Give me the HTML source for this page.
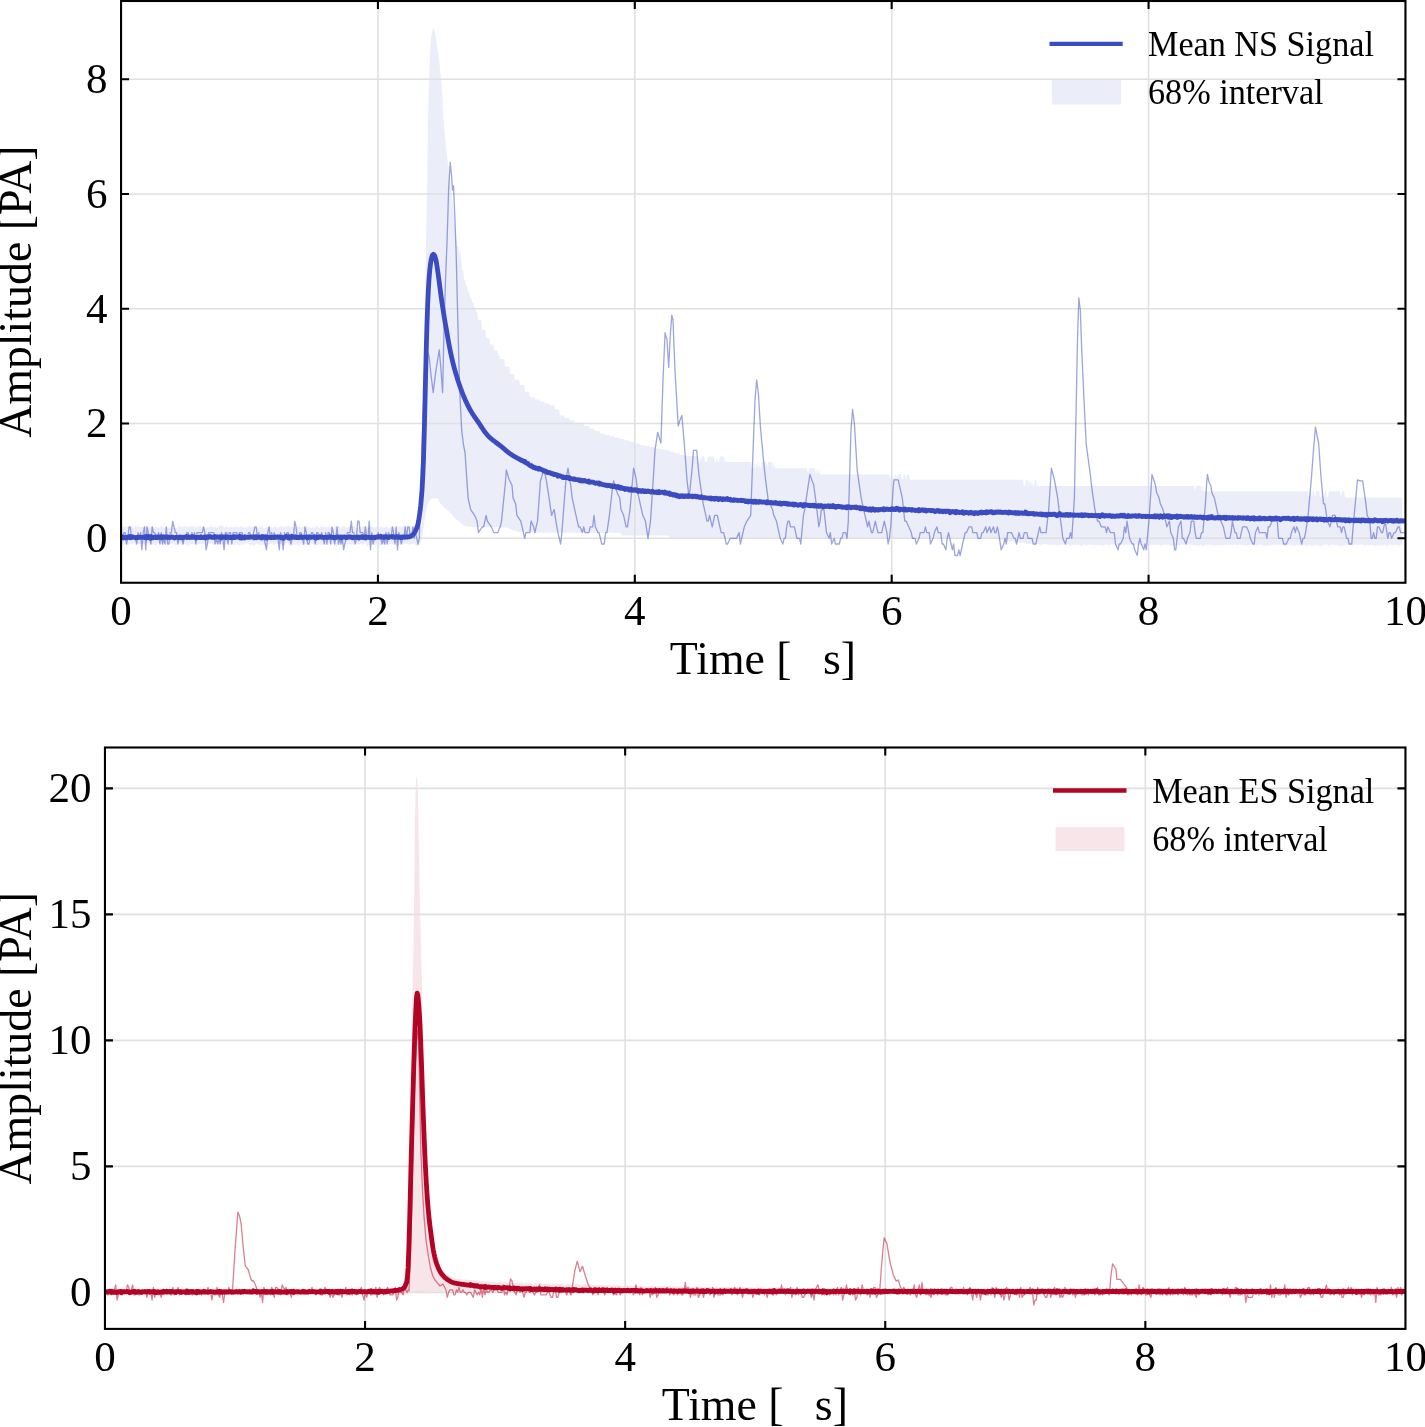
<!DOCTYPE html><html><head><meta charset="utf-8"><style>html,body{margin:0;padding:0;background:#fff;overflow:hidden}svg{display:block;will-change:transform}</style></head><body><svg width="1425" height="1427" viewBox="0 0 1425 1427" font-family='"Liberation Serif", serif' fill="#000"><rect width="1425" height="1427" fill="#fff"/><defs><clipPath id="clipNS"><rect x="121.05" y="1.0" width="1284.4" height="581.75"/></clipPath></defs><path d="M121.0 527.0 L122.0 526.4 L123.0 526.7 L124.0 526.6 L125.0 527.0 L126.0 526.7 L127.0 526.8 L128.1 525.9 L129.1 526.4 L130.1 528.3 L131.1 526.5 L132.1 526.2 L133.1 527.3 L134.1 528.1 L135.1 525.8 L136.1 526.8 L137.1 526.5 L138.1 525.6 L139.1 527.6 L140.1 527.0 L141.1 527.1 L142.1 526.4 L143.1 527.4 L144.1 526.6 L145.1 526.9 L146.1 526.1 L147.1 526.0 L148.1 528.1 L149.1 526.6 L150.1 527.2 L151.1 527.0 L152.1 526.6 L153.1 526.6 L154.1 527.5 L155.1 526.8 L156.1 526.9 L157.1 527.0 L158.1 527.9 L159.1 527.5 L160.1 527.3 L161.1 526.5 L162.1 525.9 L163.1 527.8 L164.1 527.8 L165.1 526.9 L166.1 527.4 L167.1 527.6 L168.1 527.7 L169.1 527.7 L170.1 526.6 L171.1 528.2 L172.1 526.0 L173.1 527.7 L174.1 527.4 L175.1 527.7 L176.1 528.5 L177.1 528.2 L178.1 526.1 L179.1 525.6 L180.1 527.7 L181.1 526.2 L182.1 527.0 L183.1 527.7 L184.1 525.7 L185.1 525.3 L186.1 527.2 L187.1 527.0 L188.1 526.8 L189.1 527.0 L190.1 526.3 L191.1 525.8 L192.1 526.9 L193.1 526.2 L194.1 525.7 L195.1 527.4 L196.1 527.0 L197.1 527.3 L198.1 526.2 L199.1 526.5 L200.1 526.2 L201.1 526.3 L202.1 527.2 L203.1 526.4 L204.1 527.3 L205.1 527.3 L206.1 528.6 L207.1 525.9 L208.1 527.7 L209.1 526.9 L210.1 527.0 L211.1 525.8 L212.1 526.6 L213.1 527.6 L214.1 526.9 L215.1 527.1 L216.1 526.8 L217.1 527.9 L218.1 527.0 L219.1 525.2 L220.1 526.4 L221.1 525.4 L222.1 524.4 L223.1 526.6 L224.1 528.1 L225.1 527.0 L226.1 526.1 L227.1 526.2 L228.1 527.9 L229.1 527.1 L230.1 527.0 L231.1 527.0 L232.1 527.0 L233.1 527.6 L234.1 527.4 L235.1 527.2 L236.1 526.2 L237.1 527.4 L238.1 526.5 L239.1 527.9 L240.1 526.0 L241.1 526.9 L242.1 527.0 L243.1 525.9 L244.1 528.4 L245.1 528.2 L246.1 526.6 L247.1 527.6 L248.1 527.3 L249.1 524.9 L250.1 527.2 L251.1 527.0 L252.1 527.1 L253.1 526.1 L254.1 526.8 L255.1 526.9 L256.1 528.0 L257.1 527.3 L258.1 527.0 L259.1 528.2 L260.1 526.6 L261.1 526.7 L262.1 525.5 L263.1 528.3 L264.1 527.8 L265.1 527.7 L266.1 527.5 L267.1 527.1 L268.1 527.2 L269.1 526.8 L270.1 526.8 L271.1 527.0 L272.1 528.2 L273.1 527.4 L274.1 527.0 L275.1 526.5 L276.1 526.5 L277.1 528.3 L278.1 527.4 L279.1 527.1 L280.1 526.7 L281.1 526.1 L282.1 526.9 L283.1 527.7 L284.1 526.7 L285.1 526.8 L286.1 526.8 L287.1 527.1 L288.1 525.7 L289.1 526.8 L290.1 526.3 L291.1 527.7 L292.1 526.4 L293.1 527.5 L294.1 528.2 L295.1 526.7 L296.1 526.5 L297.1 527.2 L298.1 527.0 L299.1 526.2 L300.1 527.4 L301.1 528.6 L302.1 526.8 L303.1 526.8 L304.1 526.2 L305.1 527.3 L306.1 526.0 L307.1 526.1 L308.1 528.0 L309.1 526.3 L310.1 527.9 L311.1 528.2 L312.1 527.2 L313.1 527.4 L314.1 528.6 L315.1 526.8 L316.1 526.5 L317.1 525.9 L318.1 527.0 L319.1 528.2 L320.1 527.8 L321.1 526.2 L322.1 526.3 L323.1 526.6 L324.1 527.2 L325.1 526.8 L326.1 527.2 L327.1 527.2 L328.1 526.8 L329.1 527.0 L330.1 527.2 L331.1 526.9 L332.1 527.4 L333.1 528.5 L334.1 527.5 L335.1 527.0 L336.1 525.7 L337.1 527.3 L338.1 525.4 L339.1 525.9 L340.1 527.7 L341.1 527.6 L342.1 526.9 L343.1 525.6 L344.1 526.7 L345.1 526.5 L346.1 527.5 L347.1 528.8 L348.1 527.2 L349.1 526.4 L350.1 526.1 L351.1 527.0 L352.1 526.9 L353.1 526.1 L354.1 527.1 L355.1 526.1 L356.1 527.9 L357.1 527.9 L358.1 527.9 L359.1 526.6 L360.1 527.4 L361.1 526.9 L362.1 526.7 L363.1 526.7 L364.1 526.0 L365.1 525.8 L366.1 527.6 L367.1 526.8 L368.1 527.2 L369.1 527.8 L370.1 525.6 L371.1 526.4 L372.1 527.1 L373.1 527.3 L374.1 526.7 L375.1 527.8 L376.1 527.2 L377.1 526.0 L378.1 526.3 L379.1 527.6 L380.1 527.4 L381.1 525.5 L382.1 528.1 L383.1 527.5 L384.1 528.1 L385.1 526.7 L386.1 526.8 L387.1 526.1 L388.1 529.0 L389.1 526.9 L390.1 528.3 L391.1 526.5 L392.1 527.1 L393.1 525.7 L394.1 526.7 L395.1 527.8 L396.1 526.0 L397.1 527.9 L398.1 527.3 L399.1 526.2 L400.1 526.6 L401.1 526.6 L402.1 527.0 L403.1 526.6 L404.1 526.3 L405.1 526.8 L406.1 526.2 L407.1 526.0 L408.1 527.0 L409.1 527.7 L410.1 525.8 L411.1 527.0 L412.1 526.5 L413.1 526.2 L414.1 527.7 L415.1 526.6 L416.1 528.2 L417.1 526.4 L418.1 527.3 L419.1 526.8 L420.1 526.4 L421.1 527.0 L422.1 521.6 L423.1 495.3 L424.1 431.2 L425.1 297.1 L426.1 237.8 L427.1 190.1 L428.1 118.8 L429.1 78.3 L430.1 54.1 L431.1 37.7 L432.1 32.0 L433.1 27.8 L434.1 29.2 L435.1 32.8 L436.1 39.3 L437.1 46.9 L438.1 53.4 L439.1 59.7 L440.1 69.2 L441.1 81.4 L442.1 93.9 L443.1 108.3 L444.1 126.8 L445.1 138.3 L446.1 146.4 L447.1 155.5 L448.1 165.5 L449.1 174.4 L450.1 181.9 L451.1 189.5 L452.1 198.3 L453.1 207.7 L454.1 217.8 L455.1 228.4 L456.1 237.8 L457.1 245.5 L458.1 247.5 L459.1 249.5 L460.1 252.5 L461.1 258.4 L462.1 270.4 L463.1 270.4 L464.1 279.6 L465.1 279.6 L466.1 286.2 L467.1 286.2 L468.1 292.2 L469.1 292.2 L470.1 297.2 L471.1 297.2 L472.1 302.2 L473.1 302.2 L474.1 307.2 L475.1 307.2 L476.1 312.2 L477.1 312.2 L478.1 319.7 L479.1 319.7 L480.1 319.7 L481.1 319.7 L482.1 329.7 L483.1 329.7 L484.1 329.7 L485.1 329.7 L486.1 338.1 L487.1 338.1 L488.1 338.1 L489.1 338.1 L490.1 344.5 L491.1 344.5 L492.1 344.5 L493.1 344.5 L494.1 350.4 L495.1 350.4 L496.1 350.4 L497.1 350.4 L498.1 354.9 L499.1 354.9 L500.1 359.1 L501.1 359.1 L502.1 359.1 L503.1 359.1 L504.1 359.1 L505.1 366.8 L506.1 366.8 L507.1 366.8 L508.1 366.8 L509.1 366.8 L510.1 373.9 L511.1 373.9 L512.0 373.9 L513.0 373.9 L514.0 373.9 L515.0 379.7 L516.0 379.7 L517.0 379.7 L518.0 379.7 L519.0 379.7 L520.0 385.1 L521.0 385.1 L522.0 385.1 L523.0 385.1 L524.0 385.1 L525.0 392.0 L526.0 392.0 L527.0 392.0 L528.0 392.0 L529.0 392.0 L530.0 397.3 L531.0 397.3 L532.0 397.3 L533.0 397.3 L534.0 397.3 L535.0 399.5 L536.0 399.5 L537.0 399.5 L538.0 399.5 L539.0 399.5 L540.0 401.6 L541.0 401.6 L542.0 401.6 L543.0 401.6 L544.0 401.6 L545.0 403.4 L546.0 403.4 L547.0 403.4 L548.0 403.4 L549.0 403.4 L550.0 405.5 L551.0 405.5 L552.0 405.5 L553.0 405.5 L554.0 405.5 L555.0 409.3 L556.0 409.3 L557.0 409.3 L558.0 409.3 L559.0 409.3 L560.0 415.5 L561.0 415.5 L562.0 415.5 L563.0 415.5 L564.0 415.5 L565.0 418.1 L566.0 418.1 L567.0 418.1 L568.0 418.1 L569.0 418.1 L570.0 420.6 L571.0 420.6 L572.0 420.6 L573.0 420.6 L574.0 420.6 L575.0 422.7 L576.0 422.7 L577.0 422.7 L578.0 422.7 L579.0 422.7 L580.0 424.3 L581.0 424.3 L582.0 424.3 L583.0 424.3 L584.0 424.3 L585.0 426.0 L586.0 426.0 L587.0 426.0 L588.0 426.0 L589.0 426.0 L590.0 428.5 L591.0 428.5 L592.0 428.5 L593.0 428.5 L594.0 428.5 L595.0 431.0 L596.0 431.0 L597.0 431.0 L598.0 431.0 L599.0 431.0 L600.0 433.5 L601.0 433.5 L602.0 433.5 L603.0 433.5 L604.0 433.5 L605.0 434.9 L606.0 434.9 L607.0 434.9 L608.0 434.9 L609.0 434.9 L610.0 436.3 L611.0 436.3 L612.0 436.3 L613.0 436.3 L614.0 436.3 L615.0 437.7 L616.0 437.7 L617.0 437.7 L618.0 437.7 L619.0 437.7 L620.0 439.1 L621.0 439.1 L622.0 439.1 L623.0 439.1 L624.0 439.1 L625.0 440.6 L626.0 440.6 L627.0 440.6 L628.0 440.6 L629.0 440.6 L630.0 442.1 L631.0 442.1 L632.0 442.1 L633.0 442.1 L634.0 442.1 L635.0 443.5 L636.0 443.5 L637.0 443.5 L638.0 443.5 L639.0 443.5 L640.0 445.0 L641.0 445.0 L642.0 445.0 L643.0 445.0 L644.0 445.0 L645.0 446.1 L646.0 446.1 L647.0 446.1 L648.0 446.1 L649.0 446.1 L650.0 447.1 L651.0 447.1 L652.0 447.1 L653.0 447.1 L654.0 447.1 L655.0 448.2 L656.0 448.2 L657.0 448.2 L658.0 448.2 L659.0 448.2 L660.0 449.2 L661.0 449.2 L662.0 449.2 L663.0 449.2 L664.0 449.2 L665.0 450.3 L666.0 450.3 L667.0 450.3 L668.0 450.3 L669.0 450.3 L670.0 451.8 L671.0 451.8 L672.0 451.8 L673.0 451.8 L674.0 451.8 L675.0 453.4 L676.0 453.4 L677.0 453.4 L678.0 453.4 L679.0 453.4 L680.0 455.0 L681.0 455.0 L682.0 455.0 L683.0 455.0 L684.0 455.0 L685.0 455.7 L686.0 455.7 L687.0 455.7 L688.0 455.7 L689.0 455.7 L690.0 455.9 L691.0 455.9 L692.0 455.9 L693.0 455.9 L694.0 455.9 L695.0 456.1 L696.0 456.1 L697.0 456.1 L698.0 461.9 L699.0 461.9 L700.0 456.3 L701.0 461.9 L702.0 456.3 L703.0 456.3 L704.0 456.3 L705.0 461.9 L706.0 461.9 L707.0 461.9 L708.0 456.5 L709.0 456.5 L710.0 456.6 L711.0 456.6 L712.0 456.6 L713.0 456.6 L714.0 456.6 L715.0 461.9 L716.0 461.9 L717.0 456.6 L718.0 461.9 L719.0 461.9 L720.0 456.6 L721.0 456.6 L722.0 456.6 L723.0 456.6 L724.0 457.0 L725.0 461.9 L726.0 461.9 L727.0 461.9 L728.0 461.9 L729.0 461.9 L730.0 461.9 L731.0 461.9 L732.0 461.9 L733.0 461.9 L734.0 461.9 L735.0 461.9 L736.0 461.9 L737.0 461.9 L738.0 461.9 L739.0 461.9 L740.0 461.9 L741.0 461.9 L742.0 461.9 L743.0 461.9 L744.0 461.9 L745.0 461.9 L746.0 461.9 L747.0 461.9 L748.0 461.9 L749.0 461.9 L750.0 461.9 L751.0 461.9 L752.0 468.2 L753.0 468.2 L754.0 468.2 L755.0 461.9 L756.0 468.2 L757.0 461.9 L758.0 468.2 L759.0 461.9 L760.0 468.2 L761.0 468.2 L762.0 461.9 L763.0 461.9 L764.0 462.0 L765.0 462.0 L766.0 462.0 L767.0 468.2 L768.0 462.0 L769.0 462.0 L770.0 462.0 L771.0 462.0 L772.0 462.0 L773.0 468.2 L774.0 462.0 L775.0 468.2 L776.0 468.2 L777.0 468.2 L778.0 468.2 L779.0 468.2 L780.0 468.2 L781.0 468.2 L782.0 468.2 L783.0 468.2 L784.0 468.2 L785.0 468.2 L786.0 468.2 L787.0 468.2 L788.0 468.2 L789.0 468.2 L790.0 468.2 L791.0 468.2 L792.0 468.2 L793.0 468.2 L794.0 468.2 L795.0 468.2 L796.0 468.2 L797.0 468.2 L798.0 468.2 L799.0 468.2 L800.0 468.2 L801.0 468.2 L802.0 468.2 L803.0 468.2 L804.0 468.2 L805.0 468.2 L806.0 468.2 L807.0 468.2 L808.0 474.5 L809.0 468.2 L810.0 468.2 L811.0 468.2 L812.0 468.2 L813.0 468.2 L814.0 468.2 L815.0 468.2 L816.0 474.5 L817.0 468.2 L818.0 474.5 L819.0 469.0 L820.0 474.5 L821.0 474.5 L822.0 474.5 L823.0 474.5 L824.0 474.5 L825.0 474.5 L826.0 474.5 L827.0 474.5 L828.0 474.5 L829.0 474.5 L830.0 474.5 L831.0 474.5 L832.0 474.5 L833.0 474.5 L834.0 474.5 L835.0 474.5 L836.0 474.5 L837.0 474.5 L838.0 474.5 L839.0 474.5 L840.0 474.5 L841.0 474.5 L842.0 474.5 L843.0 474.5 L844.0 474.5 L845.0 474.5 L846.0 474.5 L847.0 474.5 L848.0 474.5 L849.0 474.5 L850.0 474.5 L851.0 474.5 L852.0 474.5 L853.0 474.5 L854.0 474.5 L855.0 474.5 L856.0 474.5 L857.0 474.5 L858.0 474.5 L859.0 474.5 L860.0 474.5 L861.0 474.5 L862.0 474.5 L863.0 474.5 L864.0 474.5 L865.0 474.5 L866.0 474.5 L867.0 474.5 L868.0 474.5 L869.0 474.5 L870.0 474.5 L871.0 474.5 L872.0 474.5 L873.0 474.5 L874.0 474.5 L875.0 474.5 L876.0 474.5 L877.0 474.5 L878.0 474.5 L879.0 474.5 L880.0 474.5 L881.0 474.5 L882.0 474.5 L883.0 474.5 L884.0 474.5 L885.0 474.5 L886.0 474.5 L887.0 474.5 L888.0 474.5 L889.0 474.5 L890.0 479.8 L891.0 474.5 L892.0 479.8 L893.0 474.5 L894.0 479.8 L895.0 474.5 L896.0 474.5 L897.0 479.8 L898.0 474.5 L899.0 474.5 L900.0 474.5 L901.0 474.5 L902.0 479.8 L903.0 479.8 L904.0 474.5 L905.0 474.5 L906.0 479.8 L907.0 474.5 L908.0 474.5 L909.0 475.0 L910.0 479.8 L911.0 479.8 L912.0 479.8 L913.0 479.8 L914.0 479.8 L915.0 479.8 L916.0 479.8 L917.0 479.8 L918.0 479.8 L919.0 479.8 L920.0 479.8 L921.0 479.8 L922.0 479.8 L923.0 479.8 L924.0 479.8 L925.0 479.8 L926.0 479.8 L927.0 479.8 L928.0 479.8 L929.0 479.8 L930.0 479.8 L931.0 479.8 L932.0 479.8 L933.0 479.8 L934.0 479.8 L935.0 479.8 L936.0 479.8 L937.0 479.8 L938.0 479.8 L939.0 479.8 L940.0 479.8 L941.0 479.8 L942.0 479.8 L943.0 479.8 L944.0 479.8 L945.0 479.8 L946.0 479.8 L947.0 479.8 L948.0 479.8 L949.0 479.8 L950.0 479.8 L951.0 479.8 L952.0 479.8 L953.0 479.8 L954.0 479.8 L955.0 479.8 L956.0 479.8 L957.0 479.8 L958.0 479.8 L959.0 479.8 L960.0 479.8 L961.0 479.8 L962.0 479.8 L963.0 479.8 L964.0 479.8 L965.0 479.8 L966.0 479.8 L967.0 479.8 L968.0 479.8 L969.0 479.8 L970.0 479.8 L971.0 479.8 L972.0 479.8 L973.0 479.8 L974.0 479.8 L975.0 479.8 L976.0 479.8 L977.0 479.8 L978.0 479.8 L979.0 479.8 L980.0 479.8 L981.0 479.8 L982.0 479.8 L983.0 479.8 L984.0 479.8 L985.0 479.8 L986.0 479.8 L987.0 479.8 L988.0 479.8 L989.0 479.8 L990.0 479.8 L991.0 479.8 L992.0 479.8 L993.0 479.8 L994.0 479.8 L995.0 479.8 L996.0 479.8 L997.0 479.8 L998.0 479.8 L999.0 479.8 L1000.0 479.8 L1001.0 479.8 L1002.0 479.8 L1003.0 479.8 L1004.0 479.8 L1005.0 479.8 L1006.0 479.8 L1007.0 479.8 L1008.0 479.8 L1009.0 479.8 L1010.0 479.8 L1011.0 479.8 L1012.0 479.8 L1013.0 479.8 L1014.0 479.8 L1015.0 479.8 L1016.0 479.8 L1017.0 479.8 L1018.0 479.8 L1019.0 479.8 L1020.0 479.8 L1021.0 479.8 L1022.0 479.8 L1023.0 479.8 L1024.0 486.1 L1025.0 486.1 L1026.0 479.8 L1027.0 479.8 L1028.0 479.8 L1029.0 486.1 L1030.0 479.8 L1031.0 486.1 L1032.0 479.8 L1033.0 486.1 L1034.0 486.1 L1035.0 479.8 L1036.0 479.8 L1037.0 486.1 L1038.0 486.1 L1039.0 486.1 L1040.0 486.1 L1041.0 486.1 L1042.0 486.1 L1043.0 486.1 L1044.0 486.1 L1045.0 486.1 L1046.0 486.1 L1047.0 486.1 L1048.0 486.1 L1049.0 486.1 L1050.0 486.1 L1051.0 486.1 L1052.0 486.1 L1053.0 486.1 L1054.0 486.1 L1055.0 486.1 L1056.0 486.1 L1057.0 486.1 L1058.0 486.1 L1059.0 486.1 L1060.0 486.1 L1061.0 486.1 L1062.0 486.1 L1063.0 486.1 L1064.0 486.1 L1065.0 486.1 L1066.0 486.1 L1067.0 486.1 L1068.0 486.1 L1069.0 486.1 L1070.0 486.1 L1071.0 486.1 L1072.0 486.1 L1073.0 486.1 L1074.0 486.1 L1075.0 486.1 L1076.0 486.1 L1077.0 486.1 L1078.0 486.1 L1079.0 486.1 L1080.0 486.1 L1081.0 486.1 L1082.0 486.1 L1083.0 486.1 L1084.0 486.1 L1085.0 486.1 L1086.0 486.1 L1087.0 486.1 L1088.0 486.1 L1089.0 486.1 L1090.0 486.1 L1091.0 486.1 L1092.0 486.1 L1093.0 486.1 L1094.0 486.1 L1095.0 486.1 L1096.0 486.1 L1097.0 486.1 L1098.0 486.1 L1099.0 486.1 L1100.0 486.1 L1101.0 486.1 L1102.0 486.1 L1103.0 486.1 L1104.0 486.1 L1105.0 486.1 L1106.0 486.1 L1107.0 486.1 L1108.0 486.1 L1109.0 486.1 L1110.0 486.1 L1111.0 486.1 L1112.0 486.1 L1113.0 486.1 L1114.0 486.1 L1115.0 486.1 L1116.0 486.1 L1117.0 486.1 L1118.0 486.1 L1119.0 486.1 L1120.0 486.1 L1121.0 486.1 L1122.0 486.1 L1123.0 486.1 L1124.0 486.1 L1125.0 486.1 L1126.0 486.1 L1127.0 486.1 L1128.0 486.1 L1129.0 486.1 L1130.0 486.1 L1131.0 486.1 L1132.0 486.1 L1133.0 486.1 L1134.0 486.1 L1135.0 486.1 L1136.0 486.1 L1137.0 486.1 L1138.0 486.1 L1139.0 486.1 L1140.0 486.1 L1141.0 486.1 L1142.0 486.1 L1143.0 486.1 L1144.0 486.1 L1145.0 486.1 L1146.0 486.1 L1147.0 486.1 L1148.0 486.1 L1149.0 486.1 L1150.0 486.1 L1151.0 486.1 L1152.0 486.1 L1153.0 486.1 L1154.0 486.1 L1155.0 486.1 L1156.0 486.1 L1157.0 486.1 L1158.0 486.1 L1159.0 486.1 L1160.0 486.1 L1161.0 486.1 L1162.0 486.1 L1163.0 486.1 L1164.0 486.1 L1165.0 486.1 L1166.0 486.1 L1167.0 486.1 L1168.0 486.1 L1169.0 486.1 L1170.0 486.1 L1171.0 486.1 L1172.0 486.1 L1173.0 486.1 L1174.0 486.1 L1175.0 486.1 L1176.0 486.1 L1177.0 486.1 L1178.0 486.1 L1179.0 486.1 L1180.0 486.1 L1181.0 486.1 L1182.0 486.1 L1183.0 486.1 L1184.0 486.1 L1185.0 486.1 L1186.0 486.1 L1187.0 486.1 L1188.0 486.1 L1189.0 486.1 L1190.0 486.1 L1191.0 486.1 L1192.0 486.1 L1193.0 486.1 L1194.0 486.1 L1195.0 491.3 L1196.0 486.1 L1197.0 486.1 L1198.0 486.1 L1199.0 486.1 L1200.0 486.1 L1201.0 486.1 L1202.0 491.3 L1203.0 486.6 L1204.0 491.3 L1205.0 491.3 L1206.0 491.3 L1207.0 491.3 L1208.0 491.3 L1209.0 491.3 L1210.0 491.3 L1211.0 491.3 L1212.0 491.3 L1213.0 491.3 L1214.0 491.3 L1215.0 491.3 L1216.0 491.3 L1217.0 491.3 L1218.0 491.3 L1219.0 491.3 L1220.0 491.3 L1221.0 491.3 L1222.0 491.3 L1223.0 491.3 L1224.0 491.3 L1225.0 491.3 L1226.0 491.3 L1227.0 491.3 L1228.0 491.3 L1229.0 491.3 L1230.0 491.3 L1231.0 491.3 L1232.0 491.3 L1233.0 491.3 L1234.0 491.3 L1235.0 491.3 L1236.0 491.3 L1237.0 491.3 L1238.0 491.3 L1239.0 491.3 L1240.0 491.3 L1241.0 491.3 L1242.0 491.3 L1243.0 491.3 L1244.0 491.3 L1245.0 491.3 L1246.0 491.3 L1247.0 491.3 L1248.0 491.3 L1249.0 491.3 L1250.0 491.3 L1251.0 491.3 L1252.0 491.3 L1253.0 491.3 L1254.0 491.3 L1255.0 491.3 L1256.0 491.3 L1257.0 491.3 L1258.0 491.3 L1259.0 491.3 L1260.0 491.3 L1261.0 491.3 L1262.0 491.3 L1263.0 491.3 L1264.0 491.3 L1265.0 491.3 L1266.0 491.3 L1267.0 491.3 L1268.0 491.3 L1269.0 491.3 L1270.0 491.3 L1271.0 491.3 L1272.0 491.3 L1273.0 491.3 L1274.0 491.3 L1275.0 491.3 L1276.0 491.3 L1277.0 491.3 L1278.0 491.3 L1279.0 491.3 L1280.0 491.3 L1281.0 491.3 L1282.0 491.3 L1283.0 491.3 L1284.0 491.3 L1285.0 491.3 L1286.0 491.3 L1287.0 491.3 L1288.0 491.3 L1289.0 491.3 L1290.0 491.3 L1291.0 491.3 L1292.0 491.3 L1293.0 491.3 L1294.0 491.3 L1295.0 491.3 L1296.0 491.3 L1297.0 491.3 L1298.0 491.3 L1299.0 491.3 L1300.0 491.3 L1301.0 491.3 L1302.0 491.3 L1303.0 491.3 L1304.0 491.3 L1305.0 491.3 L1306.0 491.3 L1307.0 491.3 L1308.0 491.3 L1309.0 497.6 L1310.0 491.3 L1311.0 491.3 L1312.0 497.6 L1313.0 491.3 L1314.0 491.3 L1315.0 497.6 L1316.0 491.3 L1317.0 491.3 L1318.0 491.3 L1319.0 491.3 L1320.0 497.6 L1321.0 497.6 L1322.0 491.3 L1323.0 497.6 L1324.0 497.6 L1325.0 491.3 L1326.0 491.3 L1327.0 497.6 L1328.0 497.6 L1329.0 491.3 L1330.0 491.3 L1331.0 491.3 L1332.0 491.3 L1333.0 491.3 L1334.0 491.3 L1335.0 491.3 L1336.0 491.3 L1337.0 491.3 L1338.0 491.3 L1339.0 491.3 L1340.0 491.3 L1341.0 497.6 L1342.0 491.3 L1343.0 491.3 L1344.0 491.3 L1345.0 497.6 L1346.0 497.6 L1347.0 497.6 L1348.0 497.6 L1349.0 497.6 L1350.0 497.6 L1351.0 497.6 L1352.0 497.6 L1353.0 497.6 L1354.0 497.6 L1355.0 497.6 L1356.0 497.6 L1357.0 497.6 L1358.0 497.6 L1359.0 497.6 L1360.0 497.6 L1361.0 497.6 L1362.0 497.6 L1363.0 497.6 L1364.0 497.6 L1365.0 497.6 L1366.0 497.6 L1367.0 497.6 L1368.0 497.6 L1369.0 497.6 L1370.0 497.6 L1371.0 497.6 L1372.0 497.6 L1373.0 497.6 L1374.0 497.6 L1375.0 497.6 L1376.0 497.6 L1377.0 497.6 L1378.0 497.6 L1379.0 497.6 L1380.0 497.6 L1381.0 497.6 L1382.0 497.6 L1383.0 497.6 L1384.0 497.6 L1385.0 497.6 L1386.0 497.6 L1387.0 497.6 L1388.0 497.6 L1389.0 497.6 L1390.0 497.6 L1391.0 497.6 L1392.0 497.6 L1393.0 497.6 L1394.0 497.6 L1395.0 497.6 L1396.0 497.6 L1397.0 497.6 L1398.0 497.6 L1399.0 497.6 L1400.0 497.6 L1401.0 497.6 L1402.0 497.6 L1402.0 544.9 L1401.0 544.6 L1400.0 544.6 L1399.0 545.3 L1398.0 546.6 L1397.0 544.6 L1396.0 544.6 L1395.0 545.3 L1394.0 544.5 L1393.0 545.4 L1392.0 545.0 L1391.0 545.0 L1390.0 544.8 L1389.0 544.6 L1388.0 545.7 L1387.0 546.7 L1386.0 545.4 L1385.0 544.5 L1384.0 544.8 L1383.0 546.1 L1382.0 545.2 L1381.0 545.7 L1380.0 545.1 L1379.0 545.4 L1378.0 544.5 L1377.0 546.3 L1376.0 545.1 L1375.0 546.5 L1374.0 545.2 L1373.0 545.5 L1372.0 545.1 L1371.0 544.6 L1370.0 545.1 L1369.0 544.9 L1368.0 545.2 L1367.0 544.5 L1366.0 545.7 L1365.0 545.5 L1364.0 545.2 L1363.0 544.8 L1362.0 544.6 L1361.0 544.5 L1360.0 544.8 L1359.0 544.9 L1358.0 544.8 L1357.0 545.4 L1356.0 544.6 L1355.0 545.3 L1354.0 544.5 L1353.0 545.6 L1352.0 544.9 L1351.0 544.8 L1350.0 545.1 L1349.0 545.0 L1348.0 544.7 L1347.0 545.0 L1346.0 544.7 L1345.0 544.7 L1344.0 545.2 L1343.0 546.7 L1342.0 544.7 L1341.0 545.8 L1340.0 546.5 L1339.0 546.3 L1338.0 545.1 L1337.0 544.8 L1336.0 545.2 L1335.0 545.0 L1334.0 545.3 L1333.0 544.7 L1332.0 544.6 L1331.0 545.1 L1330.0 544.5 L1329.0 546.4 L1328.0 545.5 L1327.0 544.6 L1326.0 544.7 L1325.0 544.6 L1324.0 544.7 L1323.0 544.7 L1322.0 545.5 L1321.0 546.6 L1320.0 545.8 L1319.0 545.9 L1318.0 544.6 L1317.0 545.3 L1316.0 545.1 L1315.0 545.5 L1314.0 545.2 L1313.0 545.5 L1312.0 545.5 L1311.0 546.1 L1310.0 544.9 L1309.0 545.0 L1308.0 545.1 L1307.0 546.5 L1306.0 545.1 L1305.0 545.8 L1304.0 545.4 L1303.0 544.8 L1302.0 545.2 L1301.0 545.2 L1300.0 545.1 L1299.0 545.2 L1298.0 545.3 L1297.0 544.8 L1296.0 545.2 L1295.0 545.4 L1294.0 545.5 L1293.0 546.6 L1292.0 544.5 L1291.0 545.7 L1290.0 544.7 L1289.0 545.1 L1288.0 544.8 L1287.0 545.2 L1286.0 544.7 L1285.0 546.2 L1284.0 546.0 L1283.0 544.5 L1282.0 545.2 L1281.0 544.7 L1280.0 545.0 L1279.0 545.3 L1278.0 544.5 L1277.0 544.6 L1276.0 546.0 L1275.0 544.9 L1274.0 544.5 L1273.0 544.7 L1272.0 544.7 L1271.0 545.7 L1270.0 545.0 L1269.0 545.4 L1268.0 545.9 L1267.0 545.3 L1266.0 546.3 L1265.0 545.4 L1264.0 546.0 L1263.0 545.7 L1262.0 544.7 L1261.0 544.6 L1260.0 545.1 L1259.0 545.1 L1258.0 544.8 L1257.0 546.4 L1256.0 544.6 L1255.0 546.0 L1254.0 544.7 L1253.0 544.5 L1252.0 544.5 L1251.0 544.8 L1250.0 544.8 L1249.0 545.0 L1248.0 545.3 L1247.0 546.0 L1246.0 544.7 L1245.0 546.2 L1244.0 544.8 L1243.0 544.8 L1242.0 544.7 L1241.0 545.2 L1240.0 544.8 L1239.0 544.8 L1238.0 545.3 L1237.0 545.2 L1236.0 544.5 L1235.0 544.5 L1234.0 544.6 L1233.0 544.7 L1232.0 545.4 L1231.0 544.9 L1230.0 544.5 L1229.0 544.4 L1228.0 545.3 L1227.0 544.5 L1226.0 545.3 L1225.0 544.8 L1224.0 544.4 L1223.0 545.8 L1222.0 545.2 L1221.0 545.2 L1220.0 544.7 L1219.0 545.2 L1218.0 544.6 L1217.0 545.3 L1216.0 545.3 L1215.0 545.0 L1214.0 546.4 L1213.0 545.3 L1212.0 544.5 L1211.0 545.0 L1210.0 544.8 L1209.0 544.5 L1208.0 545.1 L1207.0 545.1 L1206.0 545.0 L1205.0 545.3 L1204.0 546.1 L1203.0 545.9 L1202.0 546.1 L1201.0 544.7 L1200.0 545.1 L1199.0 545.1 L1198.0 546.4 L1197.0 544.9 L1196.0 545.5 L1195.0 545.2 L1194.0 544.6 L1193.0 545.4 L1192.0 544.8 L1191.0 544.9 L1190.0 544.4 L1189.0 544.4 L1188.0 544.8 L1187.0 544.9 L1186.0 544.4 L1185.0 544.7 L1184.0 545.0 L1183.0 545.0 L1182.0 544.7 L1181.0 544.8 L1180.0 545.4 L1179.0 545.2 L1178.0 544.7 L1177.0 545.5 L1176.0 544.5 L1175.0 545.5 L1174.0 545.4 L1173.0 544.9 L1172.0 545.4 L1171.0 545.6 L1170.0 545.4 L1169.0 544.5 L1168.0 545.0 L1167.0 544.8 L1166.0 545.3 L1165.0 544.4 L1164.0 544.5 L1163.0 545.0 L1162.0 545.2 L1161.0 546.3 L1160.0 544.8 L1159.0 544.8 L1158.0 544.4 L1157.0 545.0 L1156.0 544.6 L1155.0 545.0 L1154.0 544.5 L1153.0 545.6 L1152.0 544.4 L1151.0 545.3 L1150.0 545.5 L1149.0 545.7 L1148.0 544.4 L1147.0 544.5 L1146.0 545.0 L1145.0 544.6 L1144.0 546.2 L1143.0 546.4 L1142.0 545.4 L1141.0 545.3 L1140.0 544.5 L1139.0 545.3 L1138.0 544.9 L1137.0 544.6 L1136.0 545.2 L1135.0 545.1 L1134.0 544.4 L1133.0 545.4 L1132.0 544.5 L1131.0 544.5 L1130.0 544.6 L1129.0 544.6 L1128.0 544.7 L1127.0 545.0 L1126.0 544.8 L1125.0 544.4 L1124.0 545.2 L1123.0 545.9 L1122.0 544.5 L1121.0 544.6 L1120.0 545.0 L1119.0 546.2 L1118.0 545.1 L1117.0 545.3 L1116.0 545.1 L1115.0 544.6 L1114.0 545.5 L1113.0 544.4 L1112.0 544.3 L1111.0 544.6 L1110.0 545.9 L1109.0 544.8 L1108.0 545.4 L1107.0 544.6 L1106.0 544.4 L1105.0 544.8 L1104.0 545.0 L1103.0 546.6 L1102.0 544.5 L1101.0 544.9 L1100.0 545.2 L1099.0 544.8 L1098.0 545.4 L1097.0 544.5 L1096.0 545.6 L1095.0 545.0 L1094.0 545.4 L1093.0 544.8 L1092.0 544.9 L1091.0 545.1 L1090.0 544.4 L1089.0 544.8 L1088.0 545.0 L1087.0 544.7 L1086.0 545.9 L1085.0 544.5 L1084.0 544.5 L1083.0 544.7 L1082.0 545.6 L1081.0 546.2 L1080.0 544.7 L1079.0 545.2 L1078.0 545.2 L1077.0 544.3 L1076.0 544.8 L1075.0 545.3 L1074.0 545.0 L1073.0 545.1 L1072.0 544.7 L1071.0 545.2 L1070.0 546.6 L1069.0 545.2 L1068.0 544.3 L1067.0 545.0 L1066.0 544.8 L1065.0 544.9 L1064.0 544.4 L1063.0 545.0 L1062.0 544.4 L1061.0 544.6 L1060.0 545.8 L1059.0 545.4 L1058.0 544.4 L1057.0 545.8 L1056.0 545.5 L1055.0 544.5 L1054.0 544.5 L1053.0 544.4 L1052.0 545.6 L1051.0 544.7 L1050.0 544.7 L1049.0 544.6 L1048.0 545.3 L1047.0 544.1 L1046.0 544.6 L1045.0 544.1 L1044.0 544.2 L1043.0 543.9 L1042.0 544.4 L1041.0 545.5 L1040.0 544.2 L1039.0 544.0 L1038.0 544.6 L1037.0 544.3 L1036.0 544.1 L1035.0 544.7 L1034.0 543.4 L1033.0 544.6 L1032.0 543.4 L1031.0 543.4 L1030.0 543.6 L1029.0 544.2 L1028.0 543.1 L1027.0 544.5 L1026.0 543.3 L1025.0 542.9 L1024.0 542.9 L1023.0 542.4 L1022.0 542.7 L1021.0 543.3 L1020.0 543.0 L1019.0 542.2 L1018.0 542.1 L1017.0 541.9 L1016.0 541.9 L1015.0 542.9 L1014.0 542.3 L1013.0 541.3 L1012.0 540.8 L1011.0 541.2 L1010.0 541.9 L1009.0 540.5 L1008.0 540.5 L1007.0 540.9 L1006.0 540.2 L1005.0 540.8 L1004.0 540.3 L1003.0 540.1 L1002.0 539.7 L1001.0 539.4 L1000.0 541.2 L999.0 539.4 L998.0 539.9 L997.0 538.8 L996.0 539.0 L995.0 538.6 L994.0 538.8 L993.0 538.6 L992.0 538.6 L991.0 539.8 L990.0 539.1 L989.0 538.5 L988.0 538.5 L987.0 538.5 L986.0 538.5 L985.0 538.5 L984.0 538.5 L983.0 538.5 L982.0 538.5 L981.0 538.5 L980.0 538.5 L979.0 538.5 L978.0 538.5 L977.0 538.5 L976.0 538.5 L975.0 538.5 L974.0 538.5 L973.0 538.5 L972.0 538.5 L971.0 538.5 L970.0 538.5 L969.0 538.5 L968.0 538.5 L967.0 538.5 L966.0 538.5 L965.0 538.5 L964.0 538.5 L963.0 538.5 L962.0 538.5 L961.0 538.5 L960.0 538.5 L959.0 538.5 L958.0 538.5 L957.0 538.5 L956.0 538.5 L955.0 538.5 L954.0 538.5 L953.0 538.5 L952.0 538.5 L951.0 538.5 L950.0 538.5 L949.0 538.5 L948.0 538.5 L947.0 538.5 L946.0 538.5 L945.0 538.5 L944.0 538.5 L943.0 538.5 L942.0 538.5 L941.0 538.5 L940.0 538.5 L939.0 538.5 L938.0 538.5 L937.0 538.5 L936.0 538.5 L935.0 538.5 L934.0 538.5 L933.0 538.5 L932.0 538.5 L931.0 538.5 L930.0 538.5 L929.0 538.5 L928.0 538.5 L927.0 538.5 L926.0 538.5 L925.0 538.5 L924.0 538.5 L923.0 538.5 L922.0 538.5 L921.0 538.5 L920.0 538.5 L919.0 538.5 L918.0 538.5 L917.0 538.5 L916.0 538.5 L915.0 538.5 L914.0 538.5 L913.0 538.5 L912.0 538.5 L911.0 538.5 L910.0 538.5 L909.0 538.5 L908.0 538.5 L907.0 538.5 L906.0 538.5 L905.0 538.5 L904.0 538.5 L903.0 538.5 L902.0 538.5 L901.0 538.5 L900.0 538.5 L899.0 538.5 L898.0 538.5 L897.0 538.5 L896.0 538.5 L895.0 538.5 L894.0 538.5 L893.0 538.5 L892.0 538.5 L891.0 538.5 L890.0 538.5 L889.0 538.5 L888.0 538.5 L887.0 538.5 L886.0 538.5 L885.0 538.5 L884.0 538.5 L883.0 538.5 L882.0 538.5 L881.0 538.5 L880.0 538.5 L879.0 538.5 L878.0 538.5 L877.0 538.5 L876.0 538.5 L875.0 538.5 L874.0 538.5 L873.0 538.5 L872.0 538.5 L871.0 538.5 L870.0 538.5 L869.0 538.5 L868.0 538.5 L867.0 538.5 L866.0 538.5 L865.0 538.5 L864.0 538.5 L863.0 538.5 L862.0 538.5 L861.0 538.5 L860.0 538.5 L859.0 538.5 L858.0 538.5 L857.0 538.5 L856.0 538.5 L855.0 538.5 L854.0 538.5 L853.0 538.5 L852.0 538.5 L851.0 538.5 L850.0 538.5 L849.0 538.5 L848.0 538.5 L847.0 538.5 L846.0 538.5 L845.0 538.5 L844.0 538.5 L843.0 538.5 L842.0 538.5 L841.0 538.5 L840.0 538.5 L839.0 538.5 L838.0 538.5 L837.0 538.5 L836.0 538.5 L835.0 538.5 L834.0 538.5 L833.0 538.5 L832.0 538.5 L831.0 538.5 L830.0 538.5 L829.0 538.5 L828.0 538.5 L827.0 538.5 L826.0 538.5 L825.0 538.5 L824.0 538.5 L823.0 538.5 L822.0 538.5 L821.0 538.5 L820.0 538.5 L819.0 538.5 L818.0 538.5 L817.0 538.5 L816.0 538.5 L815.0 538.5 L814.0 538.5 L813.0 538.5 L812.0 538.5 L811.0 538.5 L810.0 538.5 L809.0 538.5 L808.0 538.5 L807.0 538.5 L806.0 538.5 L805.0 538.5 L804.0 538.5 L803.0 538.5 L802.0 538.5 L801.0 538.5 L800.0 538.5 L799.0 538.5 L798.0 538.5 L797.0 538.5 L796.0 538.5 L795.0 538.5 L794.0 538.5 L793.0 538.5 L792.0 538.5 L791.0 538.5 L790.0 538.5 L789.0 538.5 L788.0 538.5 L787.0 538.5 L786.0 538.5 L785.0 538.5 L784.0 538.5 L783.0 538.5 L782.0 538.5 L781.0 538.5 L780.0 538.5 L779.0 538.5 L778.0 538.5 L777.0 538.5 L776.0 538.5 L775.0 538.5 L774.0 538.5 L773.0 538.5 L772.0 538.5 L771.0 538.5 L770.0 538.5 L769.0 538.5 L768.0 538.5 L767.0 538.5 L766.0 538.5 L765.0 538.5 L764.0 538.5 L763.0 538.5 L762.0 538.5 L761.0 538.5 L760.0 538.5 L759.0 538.5 L758.0 538.5 L757.0 538.5 L756.0 538.5 L755.0 538.5 L754.0 538.5 L753.0 538.5 L752.0 538.5 L751.0 538.5 L750.0 538.5 L749.0 538.5 L748.0 538.5 L747.0 538.5 L746.0 538.5 L745.0 538.5 L744.0 538.5 L743.0 538.5 L742.0 538.5 L741.0 538.5 L740.0 538.5 L739.0 538.5 L738.0 538.5 L737.0 538.5 L736.0 538.5 L735.0 538.5 L734.0 538.5 L733.0 538.5 L732.0 538.5 L731.0 538.5 L730.0 538.5 L729.0 538.5 L728.0 538.5 L727.0 538.5 L726.0 538.5 L725.0 538.5 L724.0 538.5 L723.0 538.5 L722.0 538.5 L721.0 538.5 L720.0 538.5 L719.0 538.5 L718.0 538.5 L717.0 538.5 L716.0 538.5 L715.0 538.5 L714.0 538.5 L713.0 538.5 L712.0 538.5 L711.0 538.5 L710.0 538.5 L709.0 538.5 L708.0 538.5 L707.0 538.5 L706.0 538.5 L705.0 538.5 L704.0 538.5 L703.0 538.5 L702.0 538.5 L701.0 538.5 L700.0 538.5 L699.0 538.5 L698.0 538.5 L697.0 538.5 L696.0 538.5 L695.0 538.5 L694.0 538.5 L693.0 538.5 L692.0 538.5 L691.0 538.5 L690.0 538.5 L689.0 538.5 L688.0 538.5 L687.0 538.5 L686.0 538.5 L685.0 538.5 L684.0 538.5 L683.0 538.5 L682.0 538.5 L681.0 538.5 L680.0 538.5 L679.0 538.5 L678.0 538.5 L677.0 538.5 L676.0 538.5 L675.0 538.5 L674.0 538.5 L673.0 538.5 L672.0 538.5 L671.0 538.5 L670.0 538.5 L669.0 536.2 L668.0 535.4 L667.0 535.4 L666.0 535.4 L665.0 535.4 L664.0 535.4 L663.0 535.4 L662.0 535.4 L661.0 535.4 L660.0 535.4 L659.0 535.4 L658.0 535.4 L657.0 535.4 L656.0 535.4 L655.0 535.4 L654.0 535.4 L653.0 535.4 L652.0 535.4 L651.0 535.4 L650.0 535.4 L649.0 535.4 L648.0 535.4 L647.0 535.4 L646.0 535.4 L645.0 535.4 L644.0 535.4 L643.0 535.4 L642.0 535.4 L641.0 535.4 L640.0 535.4 L639.0 535.4 L638.0 535.4 L637.0 535.4 L636.0 535.4 L635.0 535.4 L634.0 535.4 L633.0 535.4 L632.0 535.4 L631.0 535.4 L630.0 535.4 L629.0 535.4 L628.0 535.4 L627.0 535.4 L626.0 535.4 L625.0 535.4 L624.0 535.4 L623.0 535.4 L622.0 535.4 L621.0 533.7 L620.0 532.8 L619.0 532.8 L618.0 532.8 L617.0 532.8 L616.0 532.8 L615.0 532.8 L614.0 532.8 L613.0 532.8 L612.0 532.8 L611.0 532.8 L610.0 532.8 L609.0 532.8 L608.0 532.8 L607.0 532.8 L606.0 532.8 L605.0 532.8 L604.0 532.8 L603.0 532.8 L602.0 532.8 L601.0 532.8 L600.0 532.7 L599.0 532.7 L598.0 532.7 L597.0 532.7 L596.0 532.7 L595.0 532.7 L594.0 532.7 L593.0 532.7 L592.0 532.7 L591.0 532.7 L590.0 532.7 L589.0 532.7 L588.0 532.7 L587.0 532.7 L586.0 532.7 L585.0 532.7 L584.0 532.7 L583.0 532.7 L582.0 532.7 L581.0 532.7 L580.0 532.7 L579.0 532.7 L578.0 532.7 L577.0 532.7 L576.0 532.7 L575.0 532.7 L574.0 532.7 L573.0 532.7 L572.0 532.7 L571.0 532.7 L570.0 532.7 L569.0 532.7 L568.0 532.7 L567.0 532.7 L566.0 532.7 L565.0 532.7 L564.0 532.7 L563.0 532.7 L562.0 532.7 L561.0 532.7 L560.0 532.6 L559.0 532.6 L558.0 532.6 L557.0 532.6 L556.0 532.6 L555.0 532.6 L554.0 532.6 L553.0 532.6 L552.0 532.6 L551.0 532.6 L550.0 532.6 L549.0 532.6 L548.0 532.6 L547.0 532.6 L546.0 532.6 L545.0 532.6 L544.0 532.6 L543.0 532.6 L542.0 532.6 L541.0 532.6 L540.0 532.6 L539.0 532.6 L538.0 532.5 L537.0 532.5 L536.0 532.5 L535.0 532.4 L534.0 532.4 L533.0 532.4 L532.0 532.3 L531.0 532.3 L530.0 532.3 L529.0 532.2 L528.0 532.2 L527.0 532.2 L526.0 532.1 L525.0 532.1 L524.0 532.1 L523.0 532.0 L522.0 532.0 L521.0 532.0 L520.0 531.9 L519.0 531.9 L518.0 531.6 L517.0 531.3 L516.0 530.9 L515.0 530.6 L514.0 530.2 L513.0 529.9 L512.0 529.5 L511.1 529.2 L510.1 528.8 L509.1 528.5 L508.1 528.1 L507.1 527.8 L506.1 527.5 L505.1 527.5 L504.1 527.5 L503.1 527.4 L502.1 527.4 L501.1 527.4 L500.1 527.4 L499.1 527.4 L498.1 527.3 L497.1 527.3 L496.1 527.3 L495.1 527.3 L494.1 527.3 L493.1 527.3 L492.1 527.2 L491.1 527.2 L490.1 527.2 L489.1 527.2 L488.1 527.2 L487.1 527.1 L486.1 527.1 L485.1 527.1 L484.1 527.1 L483.1 527.1 L482.1 527.1 L481.1 527.0 L480.1 527.0 L479.1 527.0 L478.1 527.0 L477.1 527.0 L476.1 526.9 L475.1 526.9 L474.1 526.9 L473.1 526.9 L472.1 526.9 L471.1 526.8 L470.1 526.8 L469.1 526.8 L468.1 526.7 L467.1 526.5 L466.1 526.2 L465.1 526.0 L464.1 525.8 L463.1 525.2 L462.1 524.2 L461.1 523.2 L460.1 522.2 L459.1 521.4 L458.1 520.6 L457.1 519.9 L456.1 519.2 L455.1 518.4 L454.1 517.4 L453.1 516.2 L452.1 514.9 L451.1 513.7 L450.1 512.4 L449.1 511.4 L448.1 510.6 L447.1 509.9 L446.1 509.1 L445.1 508.4 L444.1 507.5 L443.1 506.5 L442.1 505.5 L441.1 504.5 L440.1 503.5 L439.1 501.6 L438.1 498.4 L437.1 498.3 L436.1 498.3 L435.1 498.3 L434.1 498.2 L433.1 498.4 L432.1 498.6 L431.1 498.9 L430.1 499.7 L429.1 501.2 L428.1 503.5 L427.1 506.8 L426.1 511.0 L425.1 516.1 L424.1 523.5 L423.1 530.0 L422.1 535.7 L421.1 541.2 L420.1 544.5 L419.1 545.1 L418.1 545.6 L417.1 546.1 L416.1 546.0 L415.1 544.5 L414.1 543.2 L413.1 544.0 L412.1 544.1 L411.1 544.4 L410.1 544.2 L409.1 544.4 L408.1 544.7 L407.1 543.3 L406.1 544.8 L405.1 542.9 L404.1 544.6 L403.1 544.1 L402.1 543.5 L401.1 543.8 L400.1 543.1 L399.1 544.5 L398.1 546.1 L397.1 545.4 L396.1 544.7 L395.1 545.5 L394.1 542.7 L393.1 544.2 L392.1 544.0 L391.1 544.2 L390.1 543.9 L389.1 544.8 L388.1 543.1 L387.1 544.2 L386.1 545.0 L385.1 544.8 L384.1 544.3 L383.1 545.0 L382.1 542.9 L381.1 545.0 L380.1 545.0 L379.1 545.9 L378.1 546.0 L377.1 544.1 L376.1 545.0 L375.1 544.9 L374.1 545.5 L373.1 544.2 L372.1 544.3 L371.1 546.1 L370.1 545.1 L369.1 544.4 L368.1 545.3 L367.1 546.5 L366.1 544.2 L365.1 543.7 L364.1 543.2 L363.1 545.1 L362.1 544.3 L361.1 544.2 L360.1 543.9 L359.1 544.5 L358.1 545.4 L357.1 543.7 L356.1 544.2 L355.1 543.8 L354.1 544.9 L353.1 544.2 L352.1 545.0 L351.1 544.7 L350.1 544.4 L349.1 543.9 L348.1 545.0 L347.1 543.4 L346.1 543.2 L345.1 543.8 L344.1 544.9 L343.1 544.6 L342.1 543.7 L341.1 544.4 L340.1 545.7 L339.1 544.7 L338.1 544.6 L337.1 546.1 L336.1 546.3 L335.1 545.5 L334.1 544.1 L333.1 544.0 L332.1 545.2 L331.1 544.2 L330.1 544.6 L329.1 543.8 L328.1 544.7 L327.1 545.0 L326.1 543.9 L325.1 544.7 L324.1 543.8 L323.1 543.8 L322.1 545.4 L321.1 544.3 L320.1 545.3 L319.1 544.1 L318.1 544.9 L317.1 544.9 L316.1 545.3 L315.1 543.3 L314.1 544.0 L313.1 544.8 L312.1 543.8 L311.1 543.3 L310.1 545.3 L309.1 545.1 L308.1 544.3 L307.1 544.4 L306.1 543.7 L305.1 545.7 L304.1 544.5 L303.1 545.6 L302.1 544.7 L301.1 544.5 L300.1 544.4 L299.1 546.1 L298.1 545.2 L297.1 544.5 L296.1 544.1 L295.1 545.1 L294.1 544.7 L293.1 544.8 L292.1 545.4 L291.1 545.9 L290.1 545.0 L289.1 544.9 L288.1 544.4 L287.1 542.3 L286.1 545.1 L285.1 544.5 L284.1 544.0 L283.1 544.8 L282.1 545.2 L281.1 544.2 L280.1 542.7 L279.1 543.8 L278.1 544.0 L277.1 544.2 L276.1 543.1 L275.1 544.7 L274.1 544.5 L273.1 545.0 L272.1 543.2 L271.1 543.7 L270.1 544.8 L269.1 544.3 L268.1 544.8 L267.1 545.4 L266.1 545.0 L265.1 545.1 L264.1 544.5 L263.1 543.9 L262.1 545.3 L261.1 544.6 L260.1 544.8 L259.1 544.8 L258.1 543.9 L257.1 543.5 L256.1 544.3 L255.1 544.4 L254.1 545.8 L253.1 545.9 L252.1 544.7 L251.1 544.2 L250.1 545.5 L249.1 544.0 L248.1 543.5 L247.1 543.3 L246.1 544.8 L245.1 542.5 L244.1 544.4 L243.1 545.3 L242.1 543.3 L241.1 544.7 L240.1 545.3 L239.1 545.4 L238.1 544.9 L237.1 543.3 L236.1 544.7 L235.1 544.8 L234.1 545.0 L233.1 544.3 L232.1 544.0 L231.1 544.8 L230.1 544.7 L229.1 544.7 L228.1 544.9 L227.1 543.2 L226.1 544.9 L225.1 544.1 L224.1 544.4 L223.1 544.6 L222.1 544.7 L221.1 543.5 L220.1 544.6 L219.1 544.1 L218.1 544.3 L217.1 543.7 L216.1 544.2 L215.1 544.2 L214.1 544.4 L213.1 544.6 L212.1 544.6 L211.1 542.8 L210.1 544.3 L209.1 544.0 L208.1 543.4 L207.1 544.6 L206.1 543.4 L205.1 544.5 L204.1 544.7 L203.1 544.1 L202.1 544.3 L201.1 543.7 L200.1 543.9 L199.1 544.4 L198.1 544.7 L197.1 544.4 L196.1 545.0 L195.1 543.7 L194.1 544.5 L193.1 543.9 L192.1 544.0 L191.1 544.4 L190.1 543.9 L189.1 544.4 L188.1 546.0 L187.1 545.5 L186.1 544.5 L185.1 544.4 L184.1 543.6 L183.1 544.4 L182.1 544.4 L181.1 544.5 L180.1 544.2 L179.1 543.0 L178.1 543.8 L177.1 544.2 L176.1 545.2 L175.1 545.6 L174.1 543.7 L173.1 543.3 L172.1 544.3 L171.1 543.6 L170.1 545.3 L169.1 543.6 L168.1 544.9 L167.1 542.2 L166.1 545.6 L165.1 544.2 L164.1 543.4 L163.1 543.7 L162.1 545.2 L161.1 545.1 L160.1 543.4 L159.1 543.7 L158.1 543.3 L157.1 543.7 L156.1 546.0 L155.1 544.5 L154.1 544.6 L153.1 544.5 L152.1 544.7 L151.1 544.2 L150.1 546.0 L149.1 543.0 L148.1 543.5 L147.1 543.7 L146.1 544.8 L145.1 543.9 L144.1 545.0 L143.1 543.9 L142.1 543.9 L141.1 544.8 L140.1 543.6 L139.1 543.9 L138.1 543.6 L137.1 543.3 L136.1 545.4 L135.1 544.5 L134.1 543.1 L133.1 543.6 L132.1 545.0 L131.1 543.1 L130.1 544.5 L129.1 543.8 L128.1 545.3 L127.0 544.5 L126.0 544.4 L125.0 543.6 L124.0 544.5 L123.0 545.0 L122.0 544.4 L121.0 545.0Z" fill="#3b4cc0" fill-opacity="0.1" clip-path="url(#clipNS)"/><path d="M121.05 1.00V582.75M377.93 1.00V582.75M634.81 1.00V582.75M891.69 1.00V582.75M1148.57 1.00V582.75M1405.45 1.00V582.75M121.05 538.30H1405.45M121.05 423.55H1405.45M121.05 308.80H1405.45M121.05 194.05H1405.45M121.05 79.30H1405.45" stroke="#e0e0e0" stroke-width="1.6" fill="none"/><path d="M377.93 582.75v-8.0M377.93 1.00v8.0M634.81 582.75v-8.0M634.81 1.00v8.0M891.69 582.75v-8.0M891.69 1.00v8.0M1148.57 582.75v-8.0M1148.57 1.00v8.0M121.05 538.30h8.0M1405.45 538.30h-8.0M121.05 423.55h8.0M1405.45 423.55h-8.0M121.05 308.80h8.0M1405.45 308.80h-8.0M121.05 194.05h8.0M1405.45 194.05h-8.0M121.05 79.30h8.0M1405.45 79.30h-8.0" stroke="#000" stroke-width="2.1" fill="none"/><g clip-path="url(#clipNS)" fill="none" stroke-linejoin="round"><path d="M121.3 532.6 L122.6 538.3 L123.9 532.6 L125.2 532.6 L126.5 544.0 L127.8 538.3 L129.1 526.8 L130.3 526.8 L131.6 538.3 L132.9 538.3 L134.2 538.3 L135.5 538.3 L136.8 544.0 L138.0 532.6 L139.3 538.3 L140.6 532.6 L141.9 549.8 L143.2 532.6 L144.5 526.8 L145.8 549.8 L147.0 526.8 L148.3 532.6 L149.6 538.3 L150.9 544.0 L152.2 526.8 L153.5 532.6 L154.7 532.6 L156.0 538.3 L157.3 538.3 L158.6 532.6 L159.9 544.0 L161.2 532.6 L162.5 544.0 L163.7 538.3 L165.0 544.0 L166.3 526.8 L167.6 544.0 L168.9 544.0 L170.2 532.6 L171.4 532.6 L172.7 521.1 L174.0 526.8 L175.3 532.6 L176.6 532.6 L177.9 544.0 L179.1 538.3 L180.4 538.3 L181.7 538.3 L183.0 544.0 L184.3 538.3 L185.6 538.3 L186.9 532.6 L188.1 532.6 L189.4 538.3 L190.7 538.3 L192.0 532.6 L193.3 538.3 L194.6 532.6 L195.8 544.0 L197.1 532.6 L198.4 532.6 L199.7 532.6 L201.0 532.6 L202.3 532.6 L203.6 526.8 L204.8 532.6 L206.1 549.8 L207.4 544.0 L208.7 532.6 L210.0 532.6 L211.3 532.6 L212.5 532.6 L213.8 532.6 L215.1 544.0 L216.4 538.3 L217.7 544.0 L219.0 538.3 L220.2 544.0 L221.5 532.6 L222.8 538.3 L224.1 549.8 L225.4 532.6 L226.7 532.6 L228.0 544.0 L229.2 532.6 L230.5 532.6 L231.8 544.0 L233.1 532.6 L234.4 532.6 L235.7 532.6 L236.9 532.6 L238.2 538.3 L239.5 532.6 L240.8 532.6 L242.1 532.6 L243.4 538.3 L244.7 538.3 L245.9 538.3 L247.2 538.3 L248.5 532.6 L249.8 532.6 L251.1 538.3 L252.4 538.3 L253.6 532.6 L254.9 526.8 L256.2 526.8 L257.5 538.3 L258.8 532.6 L260.1 538.3 L261.3 538.3 L262.6 538.3 L263.9 538.3 L265.2 544.0 L266.5 549.8 L267.8 532.6 L269.1 526.8 L270.3 538.3 L271.6 532.6 L272.9 538.3 L274.2 532.6 L275.5 538.3 L276.8 538.3 L278.0 538.3 L279.3 549.8 L280.6 532.6 L281.9 538.3 L283.2 549.8 L284.5 532.6 L285.8 538.3 L287.0 532.6 L288.3 532.6 L289.6 538.3 L290.9 544.0 L292.2 538.3 L293.5 538.3 L294.7 521.1 L296.0 526.8 L297.3 538.3 L298.6 538.3 L299.9 532.6 L301.2 532.6 L302.5 538.3 L303.7 544.0 L305.0 526.8 L306.3 532.6 L307.6 544.0 L308.9 544.0 L310.2 538.3 L311.4 532.6 L312.7 532.6 L314.0 538.3 L315.3 544.0 L316.6 532.6 L317.9 532.6 L319.1 538.3 L320.4 538.3 L321.7 532.6 L323.0 538.3 L324.3 544.0 L325.6 532.6 L326.9 544.0 L328.1 532.6 L329.4 532.6 L330.7 544.0 L332.0 526.8 L333.3 532.6 L334.6 544.0 L335.8 538.3 L337.1 526.8 L338.4 544.0 L339.7 538.3 L341.0 544.0 L342.3 538.3 L343.6 549.8 L344.8 544.0 L346.1 538.3 L347.4 532.6 L348.7 532.6 L350.0 532.6 L351.3 521.1 L352.5 532.6 L353.8 532.6 L355.1 544.0 L356.4 538.3 L357.7 521.1 L359.0 521.1 L360.2 532.6 L361.5 532.6 L362.8 532.6 L364.1 538.3 L365.4 526.8 L366.7 538.3 L368.0 538.3 L369.2 521.1 L370.5 549.8 L371.8 532.6 L373.1 544.0 L374.4 538.3 L375.7 538.3 L376.9 538.3 L378.2 532.6 L379.5 538.3 L380.8 538.3 L382.1 544.0 L383.4 538.3 L384.7 544.0 L385.9 532.6 L387.2 544.0 L388.5 532.6 L389.8 538.3 L391.1 538.3 L392.4 526.8 L393.6 532.6 L394.9 544.0 L396.2 526.8 L397.5 549.8 L398.8 532.6 L400.1 538.3 L401.3 544.0 L402.6 538.3 L403.9 538.3 L405.2 526.8 L406.5 538.3 L407.8 526.8 L409.1 526.8 L410.3 538.3 L411.6 538.3 L412.9 526.8 L414.2 538.3 L415.5 532.6 L416.8 538.3 L418.0 544.0 L419.3 538.3 L423.0 420.0 L424.5 382.1 L425.8 347.7 L427.5 352.0 L428.3 354.3 L429.2 356.7 L431.0 375.0 L432.2 384.4 L433.2 392.6 L434.7 380.1 L436.0 370.0 L437.3 362.0 L438.6 354.2 L439.3 349.9 L441.0 370.0 L442.6 392.6 L444.0 330.0 L445.5 280.0 L446.3 259.9 L447.1 240.0 L448.6 190.0 L450.2 162.4 L451.5 175.0 L452.5 190.0 L453.5 186.0 L454.8 215.0 L456.1 251.2 L457.8 320.0 L459.5 385.8 L460.4 404.8 L461.7 430.7 L463.5 445.0 L464.3 449.0 L465.1 453.2 L466.2 470.0 L468.1 498.1 L470.7 509.6 L474.6 515.3 L477.1 521.1 L478.4 532.6 L482.3 526.8 L483.6 526.8 L486.1 515.3 L487.4 521.1 L491.3 526.8 L493.8 532.6 L496.4 532.6 L497.7 532.6 L500.2 526.8 L501.5 521.1 L505.4 482.7 L506.3 470.0 L508.0 475.8 L508.8 478.8 L510.5 482.2 L512.0 485.2 L513.1 498.1 L515.7 503.9 L516.9 515.3 L520.8 521.1 L522.1 526.8 L523.4 532.6 L524.7 538.3 L525.9 532.6 L527.2 532.6 L529.8 532.6 L531.1 521.1 L533.6 526.8 L534.9 532.6 L537.5 521.1 L540.4 481.4 L541.3 478.0 L542.9 472.5 L543.9 473.2 L545.0 474.0 L546.5 481.4 L549.1 498.1 L551.6 515.3 L554.2 509.6 L556.8 526.8 L558.0 532.6 L559.3 538.3 L560.6 544.0 L561.9 532.6 L564.5 498.1 L566.0 480.0 L567.0 473.9 L568.0 468.2 L569.6 478.8 L570.9 486.7 L572.2 498.1 L574.7 509.6 L576.0 515.3 L578.6 526.8 L579.9 526.8 L582.4 532.6 L583.7 526.8 L585.0 532.6 L587.6 532.6 L588.9 532.6 L590.2 526.8 L592.7 526.8 L594.0 515.3 L595.3 526.8 L597.9 532.6 L599.1 532.6 L601.7 544.0 L604.3 544.0 L605.6 532.6 L606.9 532.6 L609.4 515.3 L612.0 492.4 L613.6 480.8 L614.6 484.5 L617.1 492.4 L619.7 498.1 L621.0 509.6 L623.6 515.3 L626.1 526.8 L627.4 526.8 L630.0 509.6 L632.5 481.1 L633.6 468.2 L635.1 474.4 L636.0 478.0 L637.7 492.4 L640.2 503.9 L642.8 515.3 L645.4 521.1 L648.0 538.3 L650.5 521.1 L653.1 481.8 L654.4 460.4 L655.0 450.0 L655.7 445.7 L656.9 437.3 L657.7 432.4 L659.5 438.4 L660.9 443.0 L662.1 407.5 L663.0 380.0 L665.1 332.6 L665.9 335.9 L667.0 340.0 L668.7 367.3 L670.3 335.0 L671.1 324.7 L671.8 315.1 L673.0 320.0 L673.6 336.1 L675.0 370.0 L676.2 391.2 L677.5 413.7 L678.2 426.1 L680.0 420.0 L681.9 415.6 L682.6 424.1 L684.0 440.0 L685.2 456.0 L687.0 480.0 L687.8 486.6 L689.1 498.1 L692.0 470.0 L693.5 450.3 L694.2 450.3 L695.5 450.3 L696.7 450.3 L698.0 464.8 L699.0 475.0 L700.6 486.7 L703.2 503.9 L704.5 509.6 L707.0 521.1 L708.3 521.1 L709.6 515.3 L712.2 526.8 L714.7 515.3 L717.3 515.3 L718.6 521.1 L721.2 532.6 L723.7 532.6 L726.3 544.0 L727.6 544.0 L730.2 538.3 L734.0 538.3 L736.6 538.3 L739.1 532.6 L740.4 544.0 L744.3 526.8 L746.9 521.1 L750.7 515.3 L753.1 449.3 L755.0 400.0 L755.8 390.0 L756.7 379.9 L758.5 395.0 L759.7 414.9 L760.5 428.2 L762.3 447.1 L763.0 455.0 L764.8 472.5 L765.7 480.8 L768.7 503.9 L770.0 503.9 L772.5 509.6 L773.8 515.3 L776.4 521.1 L779.0 532.6 L780.2 538.3 L782.8 544.0 L784.1 538.3 L785.4 538.3 L786.7 526.8 L788.0 521.1 L789.2 521.1 L790.5 526.8 L793.1 526.8 L794.4 526.8 L795.7 532.6 L796.9 538.3 L799.5 538.3 L800.8 544.0 L803.4 515.3 L804.7 509.6 L807.2 492.4 L808.5 483.6 L809.9 474.5 L811.1 477.9 L812.5 482.0 L813.6 484.2 L816.2 503.9 L817.5 515.3 L818.8 526.8 L820.1 521.1 L821.3 509.6 L823.9 509.6 L826.5 532.6 L829.1 538.3 L830.3 532.6 L831.6 544.0 L834.2 538.3 L835.5 544.0 L836.8 544.0 L839.3 544.0 L840.6 538.3 L841.9 538.3 L843.2 532.6 L845.8 532.6 L847.0 538.3 L848.3 521.1 L849.5 480.0 L851.0 430.0 L852.6 409.3 L853.5 416.4 L854.5 425.0 L856.0 450.6 L857.2 470.3 L858.6 480.1 L861.2 498.1 L862.4 503.9 L865.0 515.3 L867.6 526.8 L868.9 521.1 L871.4 532.6 L872.7 532.6 L874.0 526.8 L875.3 521.1 L877.9 532.6 L879.1 532.6 L881.7 532.6 L884.3 521.1 L885.6 526.8 L886.9 532.6 L888.1 544.0 L889.4 538.3 L890.7 526.8 L893.3 486.1 L894.0 479.8 L895.8 479.8 L897.1 479.8 L898.2 479.8 L901.0 492.4 L902.3 498.1 L904.8 521.1 L906.1 521.1 L908.7 526.8 L911.3 532.6 L912.5 538.3 L915.1 538.3 L916.4 544.0 L919.0 538.3 L920.2 532.6 L922.8 532.6 L924.1 532.6 L925.4 526.8 L926.7 532.6 L928.0 532.6 L929.2 532.6 L930.5 544.0 L933.1 538.3 L934.4 532.6 L936.9 526.8 L938.2 532.6 L940.8 532.6 L942.1 544.0 L943.4 544.0 L945.9 549.8 L947.2 538.3 L948.5 532.6 L951.1 544.0 L952.4 549.8 L953.6 544.0 L954.9 555.5 L957.5 555.5 L958.8 549.8 L960.1 555.5 L962.6 544.0 L963.9 538.3 L965.2 532.6 L966.5 532.6 L969.1 526.8 L970.3 526.8 L971.6 526.8 L972.9 532.6 L974.2 532.6 L976.8 532.6 L978.0 538.3 L980.6 538.3 L981.9 532.6 L983.2 532.6 L985.8 526.8 L987.0 532.6 L989.6 526.8 L990.9 532.6 L993.5 526.8 L994.7 532.6 L996.0 532.6 L997.3 526.8 L998.6 532.6 L1001.2 549.8 L1003.7 544.0 L1005.0 538.3 L1006.3 544.0 L1007.6 532.6 L1010.2 532.6 L1011.4 532.6 L1014.0 538.3 L1015.3 538.3 L1016.6 544.0 L1019.1 532.6 L1020.4 538.3 L1023.0 538.3 L1024.3 532.6 L1025.6 532.6 L1026.9 532.6 L1028.1 538.3 L1030.7 538.3 L1032.0 538.3 L1033.3 544.0 L1035.8 544.0 L1037.1 538.3 L1039.7 526.8 L1041.0 532.6 L1042.3 532.6 L1044.8 532.6 L1046.1 532.6 L1048.7 509.6 L1051.4 468.2 L1052.5 472.5 L1054.0 478.0 L1055.1 483.5 L1057.7 498.1 L1059.0 509.6 L1061.5 526.8 L1062.8 538.3 L1065.4 544.0 L1066.7 538.3 L1069.2 538.3 L1070.5 532.6 L1071.8 538.3 L1074.4 498.1 L1075.5 440.0 L1077.5 340.0 L1078.8 297.9 L1079.5 303.6 L1080.3 310.0 L1081.9 354.6 L1083.4 386.3 L1084.0 400.0 L1084.7 413.3 L1086.1 443.0 L1087.2 451.4 L1088.5 461.0 L1090.3 474.5 L1091.1 481.9 L1092.4 492.4 L1094.9 509.6 L1097.5 521.1 L1098.8 521.1 L1101.3 526.8 L1102.6 526.8 L1105.2 526.8 L1106.5 532.6 L1107.8 526.8 L1110.3 532.6 L1112.9 532.6 L1114.2 532.6 L1115.5 544.0 L1118.0 549.8 L1119.3 544.0 L1120.6 544.0 L1123.2 538.3 L1124.5 526.8 L1125.8 532.6 L1127.0 521.1 L1129.6 538.3 L1132.2 544.0 L1133.5 544.0 L1134.7 549.8 L1137.3 555.5 L1138.6 544.0 L1139.9 538.3 L1141.2 544.0 L1143.7 549.8 L1145.0 544.0 L1146.3 549.8 L1148.9 521.1 L1152.0 474.5 L1152.7 476.7 L1154.5 482.0 L1155.3 484.6 L1156.6 492.4 L1159.1 498.1 L1160.4 503.9 L1163.0 509.6 L1165.6 521.1 L1166.9 526.8 L1169.4 521.1 L1170.7 532.6 L1173.3 538.3 L1174.6 549.8 L1175.8 549.8 L1177.1 538.3 L1178.4 526.8 L1181.0 521.1 L1182.3 538.3 L1183.5 538.3 L1186.1 544.0 L1187.4 538.3 L1190.0 532.6 L1191.3 521.1 L1193.8 521.1 L1195.1 532.6 L1196.4 538.3 L1197.7 538.3 L1200.2 538.3 L1201.5 532.6 L1202.8 532.6 L1205.4 503.9 L1206.7 482.6 L1207.4 474.5 L1209.0 482.0 L1210.9 486.1 L1211.8 492.4 L1214.4 498.1 L1216.9 509.6 L1218.2 515.3 L1219.5 515.3 L1220.8 521.1 L1223.4 526.8 L1224.6 532.6 L1225.9 538.3 L1228.5 538.3 L1229.8 538.3 L1231.1 532.6 L1232.4 521.1 L1233.6 526.8 L1234.9 532.6 L1236.2 532.6 L1237.5 538.3 L1240.1 538.3 L1241.3 532.6 L1242.6 526.8 L1245.2 526.8 L1246.5 526.8 L1249.1 532.6 L1250.3 538.3 L1252.9 544.0 L1254.2 544.0 L1255.5 532.6 L1258.0 526.8 L1259.3 532.6 L1261.9 532.6 L1263.2 532.6 L1265.8 532.6 L1267.0 538.3 L1268.3 526.8 L1269.6 526.8 L1272.2 521.1 L1273.5 521.1 L1274.7 521.1 L1277.3 521.1 L1278.6 538.3 L1281.2 538.3 L1282.4 538.3 L1283.7 544.0 L1286.3 544.0 L1288.9 538.3 L1290.2 538.3 L1291.4 532.6 L1294.0 526.8 L1295.3 532.6 L1296.6 526.8 L1299.1 532.6 L1301.7 544.0 L1303.0 538.3 L1304.3 538.3 L1305.6 532.6 L1308.1 515.3 L1311.2 480.8 L1312.0 470.2 L1313.5 450.0 L1314.6 437.3 L1315.4 427.2 L1317.0 435.0 L1318.6 443.0 L1319.7 458.6 L1321.0 476.9 L1323.5 503.9 L1324.8 503.9 L1327.4 521.1 L1330.0 526.8 L1332.5 515.3 L1335.1 515.3 L1336.4 521.1 L1337.7 526.8 L1340.2 526.8 L1341.5 532.6 L1342.8 526.8 L1344.1 526.8 L1346.7 538.3 L1348.0 538.3 L1349.2 544.0 L1351.8 544.0 L1353.1 526.8 L1357.5 479.8 L1358.2 480.1 L1360.0 481.0 L1360.8 480.9 L1362.1 480.8 L1362.7 480.8 L1363.4 486.3 L1365.9 503.9 L1367.2 515.3 L1369.8 521.1 L1371.1 538.3 L1372.4 538.3 L1373.6 532.6 L1374.9 538.3 L1376.2 538.3 L1377.5 526.8 L1378.8 526.8 L1381.3 532.6 L1382.6 532.6 L1383.9 526.8 L1385.2 521.1 L1387.8 538.3 L1389.1 532.6 L1390.3 532.6 L1391.6 538.3 L1394.2 532.6 L1395.5 532.6 L1398.0 526.8 L1399.3 526.8 L1400.6 532.6 L1403.2 532.6 L1404.5 532.6" stroke="#3b4cc0" stroke-opacity="0.5" stroke-width="1.3"/><path d="M121.0 537.49 L121.8 537.41 L122.5 537.01 L123.2 537.90 L123.9 537.39 L124.6 537.30 L125.3 537.82 L126.0 537.66 L126.7 537.27 L127.4 537.49 L128.1 536.93 L128.8 537.08 L129.5 536.51 L130.2 537.73 L130.9 536.64 L131.6 537.54 L132.3 537.01 L133.0 536.96 L133.7 537.23 L134.4 537.39 L135.1 537.51 L135.8 537.92 L136.5 537.42 L137.2 537.61 L137.9 537.09 L138.6 537.55 L139.3 537.35 L140.0 537.14 L140.7 537.26 L141.4 537.28 L142.1 537.37 L142.8 537.44 L143.5 537.12 L144.2 537.04 L144.9 537.56 L145.6 536.70 L146.3 537.08 L147.0 537.84 L147.7 536.35 L148.4 537.05 L149.1 537.54 L149.8 536.72 L150.5 538.21 L151.2 536.39 L151.9 537.80 L152.6 537.84 L153.3 537.62 L154.0 537.22 L154.7 537.42 L155.4 536.98 L156.1 537.58 L156.8 536.90 L157.5 537.20 L158.2 537.64 L158.9 536.90 L159.6 537.17 L160.3 537.35 L161.0 536.82 L161.7 537.70 L162.4 537.41 L163.1 536.76 L163.8 537.28 L164.5 537.02 L165.2 537.06 L165.9 537.32 L166.6 537.04 L167.3 537.63 L168.0 537.04 L168.7 537.63 L169.4 537.28 L170.1 537.59 L170.8 537.10 L171.5 537.11 L172.2 536.89 L172.9 537.49 L173.6 537.62 L174.3 538.03 L175.0 537.74 L175.7 537.38 L176.4 537.21 L177.1 537.42 L177.8 537.28 L178.5 537.80 L179.2 537.62 L179.9 536.99 L180.6 537.05 L181.3 537.76 L182.0 537.39 L182.7 537.20 L183.4 537.70 L184.1 537.15 L184.8 537.19 L185.5 537.12 L186.2 536.60 L186.9 537.59 L187.6 536.86 L188.3 537.08 L189.0 537.02 L189.7 537.54 L190.4 537.26 L191.1 537.29 L191.8 536.69 L192.5 537.25 L193.2 536.76 L193.9 537.39 L194.6 537.41 L195.3 537.27 L196.0 537.99 L196.7 537.46 L197.4 537.49 L198.1 537.33 L198.8 537.21 L199.5 537.61 L200.2 537.66 L200.9 536.82 L201.6 537.64 L202.3 537.45 L203.0 537.61 L203.7 537.44 L204.4 536.84 L205.1 536.86 L205.8 537.91 L206.5 537.36 L207.2 536.78 L207.9 537.39 L208.6 537.14 L209.3 536.63 L210.0 536.47 L210.7 536.71 L211.4 537.36 L212.1 537.25 L212.8 537.18 L213.5 537.37 L214.2 537.48 L214.9 536.53 L215.6 537.16 L216.3 536.98 L217.0 536.83 L217.7 537.07 L218.4 537.22 L219.1 537.17 L219.8 536.76 L220.5 537.09 L221.2 537.97 L221.9 536.89 L222.6 536.67 L223.3 537.36 L224.0 537.47 L224.7 537.42 L225.4 536.87 L226.1 537.61 L226.8 536.98 L227.5 536.86 L228.2 537.05 L228.9 537.22 L229.6 537.51 L230.3 537.48 L231.0 537.25 L231.7 537.58 L232.4 537.28 L233.1 537.57 L233.8 536.76 L234.5 536.70 L235.2 537.53 L235.9 536.77 L236.6 537.15 L237.3 537.22 L238.0 537.08 L238.7 537.09 L239.4 537.74 L240.1 536.36 L240.8 537.56 L241.5 538.05 L242.2 537.26 L242.9 537.24 L243.6 537.50 L244.3 537.89 L245.0 536.83 L245.7 537.28 L246.4 537.18 L247.1 537.44 L247.8 537.30 L248.5 537.47 L249.2 537.10 L249.9 537.26 L250.6 537.01 L251.3 537.01 L252.0 537.19 L252.7 537.19 L253.4 536.83 L254.1 537.79 L254.8 537.19 L255.5 536.75 L256.2 537.62 L256.9 536.98 L257.6 537.41 L258.3 537.23 L259.0 537.32 L259.7 537.29 L260.4 537.03 L261.1 537.25 L261.8 537.94 L262.5 536.45 L263.2 537.25 L263.9 537.38 L264.6 536.86 L265.3 536.75 L266.0 537.99 L266.7 537.10 L267.4 537.96 L268.1 537.42 L268.8 537.25 L269.5 537.39 L270.2 537.45 L270.9 537.64 L271.6 537.38 L272.3 537.27 L273.0 537.29 L273.7 537.70 L274.4 537.51 L275.1 536.87 L275.8 537.00 L276.5 537.34 L277.2 537.00 L277.9 537.09 L278.6 536.88 L279.3 537.13 L280.0 537.37 L280.7 537.57 L281.4 537.22 L282.1 537.94 L282.8 537.19 L283.5 538.33 L284.2 537.56 L284.9 537.39 L285.6 537.04 L286.3 536.22 L287.0 537.16 L287.7 537.27 L288.4 537.88 L289.1 536.73 L289.8 537.88 L290.5 537.12 L291.2 537.46 L291.9 536.32 L292.6 537.26 L293.3 537.09 L294.0 537.44 L294.7 537.24 L295.4 536.80 L296.1 537.53 L296.8 537.45 L297.5 537.41 L298.2 537.55 L298.9 537.59 L299.6 537.19 L300.3 536.72 L301.0 536.71 L301.7 537.67 L302.4 537.45 L303.1 537.23 L303.8 537.04 L304.5 537.21 L305.2 537.20 L305.9 537.08 L306.6 536.95 L307.3 537.95 L308.0 537.27 L308.7 536.98 L309.4 536.74 L310.1 536.94 L310.8 537.44 L311.5 537.46 L312.2 537.11 L312.9 537.21 L313.6 537.08 L314.3 536.80 L315.0 537.64 L315.7 537.32 L316.4 538.05 L317.1 536.92 L317.8 537.14 L318.5 537.50 L319.2 537.10 L319.9 536.70 L320.6 536.85 L321.3 537.22 L322.0 537.31 L322.7 537.15 L323.4 537.54 L324.1 537.53 L324.8 537.30 L325.5 537.19 L326.2 537.09 L326.9 537.38 L327.6 537.50 L328.3 537.20 L329.0 537.34 L329.7 537.07 L330.4 536.69 L331.1 536.83 L331.8 537.45 L332.5 537.34 L333.2 537.73 L333.9 537.20 L334.6 537.48 L335.3 537.64 L336.0 537.52 L336.7 536.96 L337.4 537.11 L338.1 537.22 L338.8 536.83 L339.5 537.34 L340.2 537.53 L340.9 537.00 L341.6 537.86 L342.3 537.07 L343.0 537.10 L343.7 537.09 L344.4 536.92 L345.1 537.32 L345.8 537.18 L346.5 537.75 L347.2 537.38 L347.9 537.35 L348.6 537.09 L349.3 536.67 L350.0 537.13 L350.7 536.87 L351.4 537.50 L352.1 537.15 L352.8 537.74 L353.5 537.42 L354.2 537.45 L354.9 537.24 L355.6 537.23 L356.3 537.39 L357.0 537.48 L357.7 536.91 L358.4 537.33 L359.1 538.07 L359.8 537.12 L360.5 537.06 L361.2 536.91 L361.9 536.64 L362.6 537.56 L363.3 537.17 L364.0 537.25 L364.7 537.79 L365.4 538.02 L366.1 536.83 L366.8 537.51 L367.5 537.36 L368.2 537.28 L368.9 537.30 L369.6 537.13 L370.3 537.69 L371.0 537.35 L371.7 537.25 L372.4 537.57 L373.1 537.44 L373.8 537.29 L374.5 537.24 L375.2 537.74 L375.9 537.30 L376.6 537.09 L377.3 536.82 L378.0 537.00 L378.7 536.75 L379.4 537.15 L380.1 537.20 L380.8 536.39 L381.5 537.11 L382.2 537.33 L382.9 537.16 L383.6 536.77 L384.3 537.54 L385.0 536.85 L385.7 536.66 L386.4 536.71 L387.1 537.08 L387.8 537.43 L388.5 537.49 L389.2 537.16 L389.9 536.66 L390.6 536.85 L391.3 536.76 L392.0 537.01 L392.7 536.45 L393.4 537.11 L394.1 537.29 L394.8 537.01 L395.5 537.22 L396.2 536.73 L396.9 536.54 L397.6 536.83 L398.3 537.45 L399.0 537.40 L399.7 536.88 L400.4 537.46 L401.1 536.92 L401.8 537.56 L402.5 537.20 L403.2 536.87 L403.9 537.30 L404.6 536.75 L405.3 537.01 L406.0 537.01 L406.7 537.01 L407.4 537.00 L408.1 536.99 L408.8 536.88 L409.5 536.67 L410.2 536.39 L410.9 536.07 L411.6 535.70 L412.3 535.18 L413.0 534.52 L413.7 533.75 L414.4 532.85 L415.1 531.59 L415.8 530.07 L416.5 528.47 L417.2 526.72 L417.9 524.49 L418.6 521.09 L419.3 516.67 L420.0 511.68 L420.7 505.50 L421.4 497.60 L422.1 488.83 L422.8 475.81 L423.5 459.24 L424.2 434.06 L424.9 406.18 L425.6 375.65 L426.3 347.50 L427.0 323.30 L427.7 303.75 L428.4 289.09 L429.1 277.93 L429.8 269.84 L430.5 263.91 L431.2 259.66 L431.9 256.74 L432.6 255.03 L433.3 254.30 L434.0 254.78 L434.7 255.75 L435.4 257.79 L436.1 260.68 L436.8 264.84 L437.5 269.66 L438.2 274.52 L438.9 279.65 L439.6 284.89 L440.3 290.32 L441.0 295.64 L441.7 300.60 L442.4 305.35 L443.1 309.93 L443.8 314.37 L444.5 318.69 L445.2 322.88 L445.9 326.86 L446.6 330.79 L447.3 334.79 L448.0 338.91 L448.7 342.93 L449.4 346.67 L450.1 350.14 L450.8 353.43 L451.5 356.59 L452.2 359.65 L452.9 362.58 L453.6 365.37 L454.3 368.02 L455.0 370.55 L455.7 373.04 L456.4 375.44 L457.1 377.75 L457.8 379.97 L458.5 382.13 L459.2 384.22 L459.9 386.25 L460.6 388.22 L461.3 390.14 L462.0 391.99 L462.7 393.79 L463.4 395.53 L464.1 397.21 L464.8 398.85 L465.5 400.43 L466.2 401.97 L466.9 403.47 L467.6 404.92 L468.3 406.33 L469.0 407.69 L469.7 409.00 L470.4 410.26 L471.1 411.47 L471.8 412.62 L472.5 413.73 L473.2 414.80 L473.9 415.83 L474.6 416.84 L475.3 417.84 L476.0 418.83 L476.7 419.83 L477.4 420.85 L478.1 421.88 L478.8 422.92 L479.5 423.98 L480.2 425.05 L480.9 426.11 L481.6 427.18 L482.3 428.23 L483.0 429.27 L483.7 430.28 L484.4 431.27 L485.1 432.22 L485.8 433.12 L486.5 433.99 L487.2 434.81 L487.9 435.59 L488.6 436.32 L489.3 437.02 L490.0 437.68 L490.7 438.30 L491.4 438.91 L492.1 439.49 L492.8 440.05 L493.5 440.60 L494.2 441.14 L494.9 441.67 L495.6 442.19 L496.3 442.71 L497.0 443.23 L497.7 443.74 L498.4 444.26 L499.1 444.79 L499.8 445.33 L500.5 445.88 L501.2 446.44 L501.9 447.01 L502.6 447.60 L503.3 448.19 L504.0 448.79 L504.7 449.39 L505.4 450.00 L506.1 450.59 L506.8 451.17 L507.5 451.74 L508.2 452.30 L508.9 452.84 L509.6 453.36 L510.3 453.86 L511.0 454.34 L511.7 454.81 L512.4 455.27 L513.1 455.71 L513.8 456.14 L514.5 456.55 L515.2 456.96 L515.9 457.35 L516.6 457.73 L517.3 458.11 L518.0 458.47 L518.7 458.83 L519.4 459.19 L520.1 459.78 L520.8 459.77 L521.5 460.52 L522.2 460.78 L522.9 460.70 L523.6 461.44 L524.3 461.76 L525.0 461.54 L525.7 462.63 L526.4 463.05 L527.1 463.45 L527.8 463.48 L528.5 464.39 L529.2 464.94 L529.9 465.41 L530.6 465.35 L531.3 466.35 L532.0 466.03 L532.7 466.70 L533.4 467.54 L534.1 467.09 L534.8 467.41 L535.5 468.22 L536.2 467.93 L536.9 468.20 L537.6 468.62 L538.3 469.15 L539.0 468.21 L539.7 468.95 L540.4 469.13 L541.1 469.35 L541.8 469.68 L542.5 469.94 L543.2 470.61 L543.9 470.44 L544.6 471.06 L545.3 471.42 L546.0 471.27 L546.7 471.84 L547.4 472.63 L548.1 472.41 L548.8 472.31 L549.5 472.76 L550.2 472.69 L550.9 473.35 L551.6 473.79 L552.3 473.42 L553.0 473.86 L553.7 474.56 L554.4 474.20 L555.1 474.66 L555.8 474.44 L556.5 474.73 L557.2 475.04 L557.9 476.19 L558.6 475.49 L559.3 475.64 L560.0 475.83 L560.7 476.16 L561.4 476.63 L562.1 476.65 L562.8 477.49 L563.5 477.02 L564.2 477.63 L564.9 477.39 L565.6 477.67 L566.3 477.12 L567.0 477.75 L567.7 477.93 L568.4 478.02 L569.1 477.51 L569.8 478.72 L570.5 478.42 L571.2 478.55 L571.9 478.75 L572.6 478.90 L573.3 479.26 L574.0 478.80 L574.7 479.05 L575.4 479.60 L576.1 479.67 L576.8 479.61 L577.5 479.66 L578.2 479.69 L578.9 480.08 L579.6 480.63 L580.3 479.97 L581.0 480.99 L581.7 480.87 L582.4 480.54 L583.1 481.09 L583.8 480.43 L584.5 480.46 L585.2 480.74 L585.9 481.17 L586.6 481.33 L587.3 481.39 L588.0 481.73 L588.7 481.08 L589.4 482.13 L590.1 481.58 L590.8 481.98 L591.5 482.19 L592.2 482.06 L592.9 482.11 L593.6 482.36 L594.3 482.84 L595.0 483.17 L595.7 483.29 L596.4 482.87 L597.1 483.06 L597.8 483.14 L598.5 483.74 L599.2 483.00 L599.9 484.27 L600.6 483.79 L601.3 483.81 L602.0 484.33 L602.7 484.70 L603.4 484.59 L604.1 484.97 L604.8 484.79 L605.5 485.30 L606.2 485.45 L606.9 485.11 L607.6 485.79 L608.3 485.49 L609.0 485.60 L609.7 485.39 L610.4 485.75 L611.1 486.27 L611.8 485.68 L612.5 486.51 L613.2 486.55 L613.9 486.66 L614.6 485.94 L615.3 486.82 L616.0 487.22 L616.7 486.87 L617.4 487.31 L618.1 486.59 L618.8 487.80 L619.5 487.47 L620.2 488.14 L620.9 487.33 L621.6 488.35 L622.3 488.16 L623.0 488.66 L623.7 488.18 L624.4 488.41 L625.1 489.53 L625.8 488.58 L626.5 488.73 L627.2 489.00 L627.9 488.85 L628.6 489.73 L629.3 490.02 L630.0 489.27 L630.7 489.01 L631.4 490.12 L632.1 490.20 L632.8 490.19 L633.5 490.40 L634.2 489.77 L634.9 490.10 L635.6 489.76 L636.3 489.83 L637.0 490.75 L637.7 490.24 L638.4 491.35 L639.1 490.65 L639.8 490.47 L640.5 491.04 L641.2 491.46 L641.9 491.07 L642.6 490.54 L643.3 491.16 L644.0 491.57 L644.7 490.98 L645.4 490.95 L646.1 491.64 L646.8 491.39 L647.5 491.01 L648.2 491.33 L648.9 491.25 L649.6 491.68 L650.3 491.67 L651.0 492.09 L651.7 491.99 L652.4 491.25 L653.1 492.00 L653.8 492.23 L654.5 492.13 L655.2 492.39 L655.9 491.90 L656.6 491.82 L657.3 492.53 L658.0 491.89 L658.7 491.57 L659.4 492.75 L660.1 492.20 L660.8 492.41 L661.5 492.09 L662.2 492.18 L662.9 492.31 L663.6 492.67 L664.3 493.01 L665.0 492.16 L665.7 493.32 L666.4 492.75 L667.1 492.90 L667.8 493.63 L668.5 493.50 L669.2 493.13 L669.9 494.46 L670.6 493.67 L671.3 494.22 L672.0 494.36 L672.7 494.96 L673.4 494.47 L674.1 495.15 L674.8 494.70 L675.5 495.51 L676.2 495.00 L676.9 495.28 L677.6 496.20 L678.3 495.76 L679.0 495.80 L679.7 496.63 L680.4 496.06 L681.1 495.71 L681.8 496.31 L682.5 495.69 L683.2 496.54 L683.9 496.60 L684.6 496.01 L685.3 496.02 L686.0 496.32 L686.7 496.29 L687.4 495.97 L688.1 496.54 L688.8 495.65 L689.5 496.23 L690.2 496.27 L690.9 496.34 L691.6 496.57 L692.3 496.06 L693.0 496.73 L693.7 496.49 L694.4 496.36 L695.1 496.14 L695.8 496.24 L696.5 496.82 L697.2 496.40 L697.9 496.80 L698.6 497.21 L699.3 497.25 L700.0 497.50 L700.7 496.92 L701.4 496.72 L702.1 497.53 L702.8 497.37 L703.5 497.74 L704.2 497.45 L704.9 497.95 L705.6 497.92 L706.3 497.97 L707.0 497.98 L707.7 498.03 L708.4 498.06 L709.1 498.14 L709.8 498.48 L710.5 498.02 L711.2 498.87 L711.9 498.29 L712.6 498.73 L713.3 498.41 L714.0 498.40 L714.7 499.25 L715.4 498.48 L716.1 498.19 L716.8 498.43 L717.5 498.62 L718.2 499.53 L718.9 498.90 L719.6 499.20 L720.3 498.57 L721.0 499.09 L721.7 499.25 L722.4 499.70 L723.1 498.87 L723.8 499.38 L724.5 499.32 L725.2 498.91 L725.9 499.31 L726.6 499.28 L727.3 498.61 L728.0 499.68 L728.7 499.72 L729.4 499.43 L730.1 499.16 L730.8 500.20 L731.5 499.83 L732.2 500.15 L732.9 500.34 L733.6 499.72 L734.3 500.25 L735.0 499.94 L735.7 500.05 L736.4 500.10 L737.1 500.19 L737.8 500.64 L738.5 500.35 L739.2 500.31 L739.9 500.33 L740.6 500.60 L741.3 500.22 L742.0 500.42 L742.7 500.63 L743.4 500.51 L744.1 500.72 L744.8 500.61 L745.5 501.58 L746.2 501.40 L746.9 501.15 L747.6 501.02 L748.3 501.87 L749.0 501.27 L749.7 501.18 L750.4 501.37 L751.1 501.42 L751.8 501.86 L752.5 501.42 L753.2 502.21 L753.9 501.22 L754.6 501.83 L755.3 501.28 L756.0 502.32 L756.7 501.62 L757.4 501.77 L758.1 502.17 L758.8 502.33 L759.5 501.55 L760.2 501.87 L760.9 501.56 L761.6 502.14 L762.3 502.11 L763.0 502.07 L763.7 502.00 L764.4 502.16 L765.1 502.08 L765.8 502.58 L766.5 502.97 L767.2 501.81 L767.9 502.50 L768.6 502.44 L769.3 502.81 L770.0 502.35 L770.7 502.68 L771.4 502.42 L772.1 503.07 L772.8 502.91 L773.5 502.87 L774.2 503.11 L774.9 502.94 L775.6 502.54 L776.3 503.34 L777.0 503.28 L777.7 503.18 L778.4 503.63 L779.1 503.76 L779.8 503.01 L780.5 503.17 L781.2 504.03 L781.9 504.04 L782.6 503.33 L783.3 503.23 L784.0 503.47 L784.7 503.57 L785.4 503.24 L786.1 503.85 L786.8 503.44 L787.5 503.52 L788.2 504.31 L788.9 503.80 L789.6 504.06 L790.3 504.35 L791.0 504.47 L791.7 504.11 L792.4 504.29 L793.1 504.04 L793.8 504.99 L794.5 504.66 L795.2 504.09 L795.9 504.53 L796.6 504.83 L797.3 504.80 L798.0 505.32 L798.7 505.21 L799.4 504.60 L800.1 504.81 L800.8 504.44 L801.5 505.03 L802.2 505.05 L802.9 505.99 L803.6 505.13 L804.3 504.41 L805.0 504.96 L805.7 505.29 L806.4 504.86 L807.1 505.05 L807.8 505.28 L808.5 505.58 L809.2 505.45 L809.9 505.25 L810.6 505.88 L811.3 505.47 L812.0 505.53 L812.7 505.26 L813.4 505.51 L814.1 506.05 L814.8 505.29 L815.5 505.86 L816.2 506.17 L816.9 505.81 L817.6 506.05 L818.3 505.60 L819.0 506.47 L819.7 506.42 L820.4 506.14 L821.1 505.46 L821.8 505.73 L822.5 506.45 L823.2 506.73 L823.9 506.25 L824.6 506.60 L825.3 505.97 L826.0 506.13 L826.7 506.22 L827.4 506.39 L828.1 505.72 L828.8 506.60 L829.5 506.76 L830.2 505.91 L830.9 505.86 L831.6 506.48 L832.3 506.15 L833.0 505.57 L833.7 506.70 L834.4 506.50 L835.1 506.30 L835.8 507.24 L836.5 506.57 L837.2 506.29 L837.9 506.62 L838.6 506.26 L839.3 506.39 L840.0 506.83 L840.7 506.53 L841.4 506.61 L842.1 507.39 L842.8 507.15 L843.5 507.17 L844.2 507.11 L844.9 507.14 L845.6 507.52 L846.3 507.04 L847.0 507.74 L847.7 506.80 L848.4 507.08 L849.1 506.72 L849.8 507.13 L850.5 507.47 L851.2 507.83 L851.9 507.13 L852.6 507.41 L853.3 507.32 L854.0 507.23 L854.7 507.13 L855.4 507.62 L856.1 507.04 L856.8 507.75 L857.5 507.79 L858.2 507.62 L858.9 507.58 L859.6 507.53 L860.3 508.75 L861.0 507.72 L861.7 508.83 L862.4 508.59 L863.1 508.35 L863.8 508.17 L864.5 509.04 L865.2 509.38 L865.9 508.54 L866.6 508.85 L867.3 509.41 L868.0 509.25 L868.7 509.91 L869.4 509.09 L870.1 509.55 L870.8 508.99 L871.5 510.22 L872.2 509.27 L872.9 508.79 L873.6 509.55 L874.3 509.56 L875.0 510.29 L875.7 509.49 L876.4 509.60 L877.1 509.80 L877.8 510.12 L878.5 509.52 L879.2 509.88 L879.9 509.68 L880.6 509.36 L881.3 509.47 L882.0 509.43 L882.7 509.07 L883.4 509.79 L884.1 508.86 L884.8 509.74 L885.5 509.64 L886.2 509.26 L886.9 509.00 L887.6 509.18 L888.3 509.41 L889.0 509.50 L889.7 509.33 L890.4 509.57 L891.1 509.02 L891.8 509.30 L892.5 508.67 L893.2 509.49 L893.9 509.28 L894.6 509.08 L895.3 509.64 L896.0 509.49 L896.7 508.27 L897.4 509.28 L898.1 508.77 L898.8 509.66 L899.5 510.18 L900.2 509.14 L900.9 509.37 L901.6 509.28 L902.3 509.52 L903.0 509.65 L903.7 509.91 L904.4 509.15 L905.1 510.08 L905.8 509.24 L906.5 509.70 L907.2 510.04 L907.9 509.93 L908.6 509.39 L909.3 509.51 L910.0 509.63 L910.7 509.81 L911.4 510.26 L912.1 509.44 L912.8 510.09 L913.5 510.17 L914.2 510.19 L914.9 510.19 L915.6 510.59 L916.3 510.26 L917.0 510.42 L917.7 510.35 L918.4 510.81 L919.1 509.55 L919.8 510.69 L920.5 510.18 L921.2 510.21 L921.9 510.00 L922.6 509.72 L923.3 510.27 L924.0 510.19 L924.7 510.64 L925.4 509.98 L926.1 511.03 L926.8 510.65 L927.5 510.50 L928.2 510.37 L928.9 510.38 L929.6 510.29 L930.3 510.53 L931.0 510.75 L931.7 510.72 L932.4 510.32 L933.1 510.76 L933.8 510.57 L934.5 510.97 L935.2 511.60 L935.9 511.20 L936.6 510.91 L937.3 510.49 L938.0 510.59 L938.7 510.53 L939.4 511.41 L940.1 510.93 L940.8 511.26 L941.5 511.05 L942.2 511.34 L942.9 511.84 L943.6 511.15 L944.3 511.31 L945.0 511.19 L945.7 511.82 L946.4 511.20 L947.1 511.21 L947.8 511.16 L948.5 511.19 L949.2 511.89 L949.9 512.67 L950.6 511.46 L951.3 512.18 L952.0 511.97 L952.7 511.53 L953.4 511.86 L954.1 511.91 L954.8 511.78 L955.5 512.73 L956.2 511.42 L956.9 512.25 L957.6 512.26 L958.3 511.97 L959.0 512.26 L959.7 512.55 L960.4 512.33 L961.1 512.46 L961.8 512.59 L962.5 511.68 L963.2 512.96 L963.9 513.29 L964.6 512.88 L965.3 512.95 L966.0 512.16 L966.7 512.67 L967.4 512.49 L968.1 512.62 L968.8 513.22 L969.5 512.65 L970.2 512.94 L970.9 512.35 L971.6 513.00 L972.3 513.10 L973.0 512.83 L973.7 512.82 L974.4 513.72 L975.1 512.60 L975.8 512.62 L976.5 512.65 L977.2 513.29 L977.9 513.54 L978.6 512.85 L979.3 512.41 L980.0 512.43 L980.7 512.89 L981.4 512.13 L982.1 512.90 L982.8 512.84 L983.5 512.33 L984.2 512.50 L984.9 512.51 L985.6 512.78 L986.3 511.85 L987.0 512.63 L987.7 512.08 L988.4 511.94 L989.1 512.24 L989.8 512.13 L990.5 511.86 L991.2 511.64 L991.9 511.87 L992.6 512.71 L993.3 512.89 L994.0 512.43 L994.7 512.62 L995.4 512.03 L996.1 512.19 L996.8 512.32 L997.5 511.85 L998.2 511.89 L998.9 512.29 L999.6 512.15 L1000.3 511.91 L1001.0 512.43 L1001.7 512.22 L1002.4 512.69 L1003.1 512.34 L1003.8 512.26 L1004.5 512.43 L1005.2 512.35 L1005.9 512.20 L1006.6 512.32 L1007.3 512.75 L1008.0 512.74 L1008.7 512.99 L1009.4 511.98 L1010.1 512.47 L1010.8 512.49 L1011.5 512.73 L1012.2 512.55 L1012.9 512.56 L1013.6 513.05 L1014.3 512.87 L1015.0 512.44 L1015.7 513.35 L1016.4 513.26 L1017.1 512.75 L1017.8 513.27 L1018.5 512.76 L1019.2 513.44 L1019.9 513.01 L1020.6 512.84 L1021.3 513.02 L1022.0 512.92 L1022.7 513.29 L1023.4 513.32 L1024.1 513.31 L1024.8 513.13 L1025.5 512.08 L1026.2 513.43 L1026.9 512.78 L1027.6 513.56 L1028.3 513.91 L1029.0 513.65 L1029.7 513.45 L1030.4 513.57 L1031.1 513.62 L1031.8 513.52 L1032.5 513.54 L1033.2 513.46 L1033.9 514.24 L1034.6 513.86 L1035.3 514.24 L1036.0 513.85 L1036.7 514.01 L1037.4 513.96 L1038.1 514.22 L1038.8 514.39 L1039.5 514.22 L1040.2 513.94 L1040.9 513.94 L1041.6 514.83 L1042.3 514.18 L1043.0 514.21 L1043.7 514.86 L1044.4 514.76 L1045.1 514.59 L1045.8 514.29 L1046.5 515.28 L1047.2 514.62 L1047.9 514.69 L1048.6 514.46 L1049.3 514.04 L1050.0 514.09 L1050.7 514.71 L1051.4 514.72 L1052.1 514.51 L1052.8 514.20 L1053.5 514.12 L1054.2 514.52 L1054.9 514.14 L1055.6 514.97 L1056.3 515.07 L1057.0 515.67 L1057.7 515.00 L1058.4 514.50 L1059.1 514.42 L1059.8 513.53 L1060.5 514.54 L1061.2 514.70 L1061.9 515.11 L1062.6 515.00 L1063.3 515.01 L1064.0 514.89 L1064.7 515.06 L1065.4 515.35 L1066.1 514.48 L1066.8 514.71 L1067.5 514.40 L1068.2 515.47 L1068.9 515.37 L1069.6 515.20 L1070.3 514.54 L1071.0 515.03 L1071.7 514.91 L1072.4 515.04 L1073.1 514.96 L1073.8 515.23 L1074.5 514.93 L1075.2 515.39 L1075.9 515.19 L1076.6 515.03 L1077.3 515.11 L1078.0 515.02 L1078.7 515.48 L1079.4 515.12 L1080.1 515.33 L1080.8 515.11 L1081.5 514.75 L1082.2 515.61 L1082.9 514.94 L1083.6 515.57 L1084.3 515.50 L1085.0 514.79 L1085.7 515.06 L1086.4 515.23 L1087.1 515.14 L1087.8 515.03 L1088.5 515.72 L1089.2 515.39 L1089.9 515.63 L1090.6 515.35 L1091.3 515.63 L1092.0 515.27 L1092.7 515.54 L1093.4 515.76 L1094.1 515.58 L1094.8 515.42 L1095.5 515.21 L1096.2 515.66 L1096.9 515.73 L1097.6 515.53 L1098.3 515.36 L1099.0 515.83 L1099.7 516.52 L1100.4 515.55 L1101.1 515.79 L1101.8 515.81 L1102.5 514.79 L1103.2 515.74 L1103.9 515.46 L1104.6 516.20 L1105.3 515.64 L1106.0 515.46 L1106.7 515.67 L1107.4 515.81 L1108.1 515.56 L1108.8 515.75 L1109.5 515.31 L1110.2 515.71 L1110.9 516.07 L1111.6 516.50 L1112.3 516.07 L1113.0 515.92 L1113.7 516.25 L1114.4 516.20 L1115.1 516.44 L1115.8 516.25 L1116.5 515.84 L1117.2 515.98 L1117.9 515.96 L1118.6 516.01 L1119.3 515.99 L1120.0 515.65 L1120.7 515.20 L1121.4 515.71 L1122.1 515.25 L1122.8 515.99 L1123.5 515.98 L1124.2 515.40 L1124.9 516.24 L1125.6 516.31 L1126.3 516.05 L1127.0 516.61 L1127.7 516.69 L1128.4 515.63 L1129.1 516.42 L1129.8 516.22 L1130.5 516.22 L1131.2 516.42 L1131.9 515.85 L1132.6 515.90 L1133.3 515.83 L1134.0 515.86 L1134.7 516.10 L1135.4 515.64 L1136.1 515.79 L1136.8 516.37 L1137.5 516.16 L1138.2 516.33 L1138.9 515.54 L1139.6 515.94 L1140.3 516.03 L1141.0 516.25 L1141.7 516.04 L1142.4 516.58 L1143.1 516.24 L1143.8 516.28 L1144.5 516.29 L1145.2 516.54 L1145.9 516.14 L1146.6 516.71 L1147.3 516.49 L1148.0 516.39 L1148.7 516.36 L1149.4 516.54 L1150.1 516.72 L1150.8 516.70 L1151.5 516.51 L1152.2 516.69 L1152.9 516.44 L1153.6 516.84 L1154.3 516.40 L1155.0 515.69 L1155.7 516.89 L1156.4 516.47 L1157.1 516.03 L1157.8 516.38 L1158.5 516.14 L1159.2 517.19 L1159.9 516.64 L1160.6 515.92 L1161.3 516.67 L1162.0 516.34 L1162.7 517.16 L1163.4 516.12 L1164.1 515.71 L1164.8 516.53 L1165.5 516.39 L1166.2 516.37 L1166.9 515.77 L1167.6 516.68 L1168.3 517.12 L1169.0 515.87 L1169.7 516.96 L1170.4 516.36 L1171.1 517.39 L1171.8 516.73 L1172.5 516.52 L1173.2 516.98 L1173.9 516.79 L1174.6 516.40 L1175.3 516.87 L1176.0 516.46 L1176.7 516.02 L1177.4 517.37 L1178.1 516.55 L1178.8 516.47 L1179.5 516.82 L1180.2 516.17 L1180.9 516.26 L1181.6 516.58 L1182.3 516.59 L1183.0 516.81 L1183.7 517.20 L1184.4 516.65 L1185.1 517.01 L1185.8 517.07 L1186.5 516.50 L1187.2 516.97 L1187.9 516.58 L1188.6 517.30 L1189.3 517.11 L1190.0 516.97 L1190.7 516.52 L1191.4 517.05 L1192.1 516.76 L1192.8 517.29 L1193.5 517.02 L1194.2 516.79 L1194.9 517.42 L1195.6 517.36 L1196.3 516.92 L1197.0 517.55 L1197.7 517.06 L1198.4 517.07 L1199.1 517.24 L1199.8 516.95 L1200.5 517.08 L1201.2 517.19 L1201.9 517.80 L1202.6 517.81 L1203.3 517.21 L1204.0 517.88 L1204.7 517.32 L1205.4 517.48 L1206.1 517.68 L1206.8 517.49 L1207.5 518.25 L1208.2 517.50 L1208.9 517.01 L1209.6 517.91 L1210.3 517.32 L1211.0 517.38 L1211.7 516.45 L1212.4 517.86 L1213.1 517.82 L1213.8 517.83 L1214.5 517.90 L1215.2 518.17 L1215.9 517.58 L1216.6 517.93 L1217.3 517.36 L1218.0 517.51 L1218.7 518.02 L1219.4 517.80 L1220.1 517.21 L1220.8 517.82 L1221.5 517.64 L1222.2 517.44 L1222.9 517.89 L1223.6 517.61 L1224.3 517.22 L1225.0 517.39 L1225.7 518.41 L1226.4 517.28 L1227.1 517.90 L1227.8 518.05 L1228.5 518.07 L1229.2 517.43 L1229.9 517.76 L1230.6 517.94 L1231.3 518.18 L1232.0 517.69 L1232.7 517.52 L1233.4 518.29 L1234.1 518.34 L1234.8 518.09 L1235.5 517.76 L1236.2 518.13 L1236.9 518.03 L1237.6 518.30 L1238.3 517.58 L1239.0 518.07 L1239.7 517.99 L1240.4 517.66 L1241.1 518.14 L1241.8 518.09 L1242.5 517.94 L1243.2 518.23 L1243.9 517.61 L1244.6 518.10 L1245.3 518.28 L1246.0 518.23 L1246.7 518.52 L1247.4 517.73 L1248.1 517.64 L1248.8 518.26 L1249.5 518.34 L1250.2 518.93 L1250.9 518.42 L1251.6 517.91 L1252.3 518.50 L1253.0 517.93 L1253.7 517.72 L1254.4 519.16 L1255.1 518.37 L1255.8 518.52 L1256.5 518.47 L1257.2 518.92 L1257.9 518.39 L1258.6 518.73 L1259.3 517.95 L1260.0 517.84 L1260.7 518.83 L1261.4 518.86 L1262.1 518.53 L1262.8 518.44 L1263.5 518.43 L1264.2 518.14 L1264.9 518.92 L1265.6 518.62 L1266.3 518.58 L1267.0 518.54 L1267.7 518.79 L1268.4 518.61 L1269.1 518.70 L1269.8 518.04 L1270.5 518.63 L1271.2 519.23 L1271.9 518.29 L1272.6 518.44 L1273.3 518.80 L1274.0 518.83 L1274.7 518.73 L1275.4 517.95 L1276.1 518.70 L1276.8 518.12 L1277.5 518.25 L1278.2 518.74 L1278.9 518.45 L1279.6 518.85 L1280.3 519.67 L1281.0 518.85 L1281.7 518.84 L1282.4 518.28 L1283.1 518.38 L1283.8 518.24 L1284.5 518.44 L1285.2 518.25 L1285.9 518.41 L1286.6 518.58 L1287.3 518.31 L1288.0 518.17 L1288.7 518.21 L1289.4 518.85 L1290.1 518.73 L1290.8 519.08 L1291.5 519.10 L1292.2 518.63 L1292.9 518.99 L1293.6 518.27 L1294.3 519.59 L1295.0 519.22 L1295.7 518.75 L1296.4 518.43 L1297.1 518.99 L1297.8 518.22 L1298.5 518.62 L1299.2 519.17 L1299.9 518.95 L1300.6 518.77 L1301.3 519.30 L1302.0 518.62 L1302.7 519.10 L1303.4 518.85 L1304.1 518.74 L1304.8 519.22 L1305.5 518.73 L1306.2 519.76 L1306.9 518.91 L1307.6 519.83 L1308.3 518.77 L1309.0 519.38 L1309.7 518.77 L1310.4 518.74 L1311.1 519.28 L1311.8 519.48 L1312.5 518.81 L1313.2 519.69 L1313.9 519.02 L1314.6 519.36 L1315.3 519.46 L1316.0 519.56 L1316.7 518.74 L1317.4 519.95 L1318.1 519.60 L1318.8 519.27 L1319.5 519.08 L1320.2 518.86 L1320.9 518.99 L1321.6 519.68 L1322.3 519.39 L1323.0 519.13 L1323.7 519.35 L1324.4 520.10 L1325.1 519.46 L1325.8 519.39 L1326.5 520.08 L1327.2 519.79 L1327.9 519.66 L1328.6 519.45 L1329.3 519.13 L1330.0 519.28 L1330.7 519.54 L1331.4 519.65 L1332.1 519.87 L1332.8 519.96 L1333.5 519.86 L1334.2 519.88 L1334.9 519.46 L1335.6 519.08 L1336.3 519.67 L1337.0 519.53 L1337.7 519.66 L1338.4 519.81 L1339.1 519.48 L1339.8 519.55 L1340.5 519.92 L1341.2 520.01 L1341.9 519.76 L1342.6 520.18 L1343.3 519.95 L1344.0 519.68 L1344.7 520.07 L1345.4 520.73 L1346.1 519.85 L1346.8 520.51 L1347.5 520.60 L1348.2 520.66 L1348.9 519.86 L1349.6 520.87 L1350.3 520.22 L1351.0 520.11 L1351.7 520.13 L1352.4 520.44 L1353.1 520.26 L1353.8 520.20 L1354.5 520.72 L1355.2 520.03 L1355.9 519.94 L1356.6 520.59 L1357.3 520.58 L1358.0 520.73 L1358.7 519.98 L1359.4 520.75 L1360.1 520.56 L1360.8 521.02 L1361.5 519.98 L1362.2 520.50 L1362.9 520.34 L1363.6 519.90 L1364.3 520.22 L1365.0 520.87 L1365.7 520.33 L1366.4 520.25 L1367.1 520.82 L1367.8 520.88 L1368.5 520.89 L1369.2 520.28 L1369.9 520.54 L1370.6 520.94 L1371.3 520.36 L1372.0 520.33 L1372.7 520.90 L1373.4 521.16 L1374.1 520.22 L1374.8 519.73 L1375.5 520.14 L1376.2 520.30 L1376.9 520.62 L1377.6 520.89 L1378.3 520.64 L1379.0 520.45 L1379.7 520.76 L1380.4 520.38 L1381.1 520.71 L1381.8 520.51 L1382.5 521.68 L1383.2 521.04 L1383.9 520.47 L1384.6 520.42 L1385.3 520.62 L1386.0 520.20 L1386.7 520.53 L1387.4 520.53 L1388.1 521.10 L1388.8 520.64 L1389.5 520.52 L1390.2 520.33 L1390.9 520.39 L1391.6 520.78 L1392.3 520.72 L1393.0 521.20 L1393.7 520.58 L1394.4 521.17 L1395.1 520.89 L1395.8 520.80 L1396.5 520.10 L1397.2 520.35 L1397.9 521.06 L1398.6 521.29 L1399.3 520.87 L1400.0 521.07 L1400.7 520.66 L1401.4 520.67 L1402.1 520.57 L1402.8 521.14 L1403.5 520.92 L1404.2 520.72 L1404.9 520.69" stroke="#3b4cc0" stroke-width="4.8"/></g><rect x="121.05" y="1.00" width="1284.40" height="581.75" fill="none" stroke="#000" stroke-width="2.1"/><g font-size="43"><text x="121.05" y="625.00" text-anchor="middle">0</text><text x="377.93" y="625.00" text-anchor="middle">2</text><text x="634.81" y="625.00" text-anchor="middle">4</text><text x="891.69" y="625.00" text-anchor="middle">6</text><text x="1148.57" y="625.00" text-anchor="middle">8</text><text x="1405.45" y="625.00" text-anchor="middle">10</text><text x="107.50" y="552.15" text-anchor="end">0</text><text x="107.50" y="437.40" text-anchor="end">2</text><text x="107.50" y="322.65" text-anchor="end">4</text><text x="107.50" y="207.90" text-anchor="end">6</text><text x="107.50" y="93.15" text-anchor="end">8</text></g><defs><clipPath id="clipES"><rect x="104.95" y="747.5" width="1300.5" height="581.4000000000001"/></clipPath></defs><path d="M105.0 1289.0 L106.0 1288.8 L107.0 1289.5 L108.0 1289.4 L109.0 1289.4 L110.0 1289.2 L111.0 1290.0 L112.0 1289.2 L113.0 1289.1 L114.0 1289.9 L115.0 1290.0 L116.0 1289.5 L117.0 1288.7 L118.0 1289.1 L119.0 1289.6 L120.0 1289.4 L121.0 1290.0 L122.0 1288.8 L123.0 1289.6 L124.0 1289.1 L125.0 1289.9 L126.0 1289.3 L127.0 1289.8 L128.0 1289.1 L128.9 1288.8 L129.9 1288.9 L130.9 1289.1 L131.9 1289.0 L132.9 1289.8 L133.9 1289.9 L134.9 1289.5 L135.9 1288.9 L136.9 1289.3 L137.9 1289.1 L138.9 1289.9 L139.9 1289.5 L140.9 1289.5 L141.9 1289.2 L142.9 1288.5 L143.9 1289.0 L144.9 1288.9 L145.9 1289.5 L146.9 1289.4 L147.9 1289.0 L148.9 1289.2 L149.9 1290.0 L150.9 1289.0 L151.9 1289.0 L152.9 1289.2 L153.9 1289.1 L154.9 1289.2 L155.9 1289.5 L156.9 1290.0 L157.9 1288.6 L158.9 1289.3 L159.9 1289.3 L160.9 1289.3 L161.9 1289.2 L162.9 1289.2 L163.9 1289.7 L164.9 1289.1 L165.9 1289.3 L166.9 1289.3 L167.9 1289.4 L168.9 1289.2 L169.9 1289.7 L170.9 1289.3 L171.9 1289.4 L172.9 1289.3 L173.9 1288.9 L174.9 1289.0 L175.9 1288.9 L176.9 1289.4 L177.9 1289.0 L178.9 1288.9 L179.9 1289.4 L180.9 1289.5 L181.9 1288.6 L182.9 1290.0 L183.9 1289.3 L184.9 1289.3 L185.9 1289.7 L186.9 1289.3 L187.9 1289.0 L188.9 1290.2 L189.9 1288.9 L190.9 1289.2 L191.9 1289.6 L192.9 1288.9 L193.9 1289.2 L194.9 1289.4 L195.9 1290.2 L196.9 1288.9 L197.9 1289.3 L198.9 1289.5 L199.9 1289.3 L200.9 1288.8 L201.9 1289.4 L202.9 1289.3 L203.9 1289.4 L204.9 1289.7 L205.9 1289.7 L206.9 1289.4 L207.9 1289.4 L208.9 1288.8 L209.9 1289.2 L210.9 1289.3 L211.9 1289.1 L212.9 1289.3 L213.9 1288.9 L214.9 1289.9 L215.9 1290.1 L216.9 1289.1 L217.9 1289.4 L218.9 1289.2 L219.9 1289.8 L220.9 1289.4 L221.9 1289.3 L222.9 1289.2 L223.9 1289.3 L224.9 1288.8 L225.9 1289.5 L226.9 1289.0 L227.9 1289.4 L228.9 1289.3 L229.9 1289.7 L230.9 1289.2 L231.9 1289.6 L232.9 1288.9 L233.9 1289.5 L234.9 1289.1 L235.9 1289.3 L236.9 1289.3 L237.9 1289.6 L238.9 1288.4 L239.9 1289.3 L240.9 1288.6 L241.9 1289.7 L242.9 1288.4 L243.9 1288.8 L244.9 1288.5 L245.9 1289.9 L246.9 1288.7 L247.9 1289.3 L248.9 1289.0 L249.9 1288.5 L250.9 1289.1 L251.9 1289.5 L252.9 1289.1 L253.9 1289.6 L254.9 1289.1 L255.9 1289.2 L256.9 1289.0 L257.9 1289.3 L258.9 1290.0 L259.9 1289.3 L260.9 1289.3 L261.9 1288.9 L262.9 1288.9 L263.9 1289.8 L264.9 1288.7 L265.9 1288.8 L266.9 1289.1 L267.9 1289.0 L268.9 1290.0 L269.9 1288.2 L270.9 1289.3 L271.9 1289.5 L272.9 1288.7 L273.9 1288.9 L274.9 1289.3 L275.9 1289.8 L276.9 1288.8 L277.9 1288.5 L278.9 1289.6 L279.9 1289.8 L280.9 1289.0 L281.9 1288.3 L282.9 1289.7 L283.9 1289.1 L284.9 1289.6 L285.9 1289.1 L286.9 1289.0 L287.9 1289.0 L288.9 1289.7 L289.9 1289.7 L290.9 1288.3 L291.9 1288.8 L292.9 1289.9 L293.9 1289.0 L294.9 1288.6 L295.9 1289.1 L296.9 1289.1 L297.9 1289.1 L298.9 1288.9 L299.9 1289.0 L300.9 1289.0 L301.9 1289.3 L302.9 1288.8 L303.9 1289.0 L304.9 1289.1 L305.9 1289.7 L306.9 1289.3 L307.9 1289.1 L308.9 1289.3 L309.9 1289.3 L310.9 1289.6 L311.9 1289.3 L312.9 1289.8 L313.9 1289.7 L314.9 1289.1 L315.9 1289.0 L316.9 1289.5 L317.9 1289.3 L318.9 1289.1 L319.9 1288.5 L320.9 1288.4 L321.9 1289.3 L322.9 1289.4 L323.9 1289.4 L324.9 1288.6 L325.9 1289.5 L326.9 1288.9 L327.9 1289.3 L328.9 1289.3 L329.9 1288.8 L330.9 1288.9 L331.9 1288.3 L332.9 1288.7 L333.9 1288.4 L334.9 1289.3 L335.9 1289.1 L336.9 1289.5 L337.9 1289.2 L338.9 1288.8 L339.9 1289.2 L340.9 1288.9 L341.9 1289.3 L342.9 1289.2 L343.9 1288.7 L344.9 1289.1 L345.9 1289.1 L346.9 1289.0 L347.9 1289.4 L348.9 1289.8 L349.9 1288.9 L350.9 1288.9 L351.9 1288.2 L352.9 1289.0 L353.9 1288.9 L354.9 1288.2 L355.9 1289.2 L356.9 1289.3 L357.9 1288.8 L358.9 1288.9 L359.9 1288.7 L360.9 1289.4 L361.9 1288.5 L362.9 1288.9 L363.9 1289.8 L364.9 1289.1 L365.9 1289.2 L366.9 1289.0 L367.9 1288.6 L368.9 1289.0 L369.9 1289.2 L370.9 1288.6 L371.9 1289.2 L372.9 1289.5 L373.9 1289.5 L374.9 1288.4 L375.9 1288.6 L376.9 1288.4 L377.9 1289.5 L378.9 1289.3 L379.9 1289.3 L380.9 1288.7 L381.9 1288.6 L382.9 1289.1 L383.9 1289.1 L384.9 1288.7 L385.9 1289.1 L386.9 1289.3 L387.9 1289.1 L388.9 1288.6 L389.9 1288.2 L390.9 1288.9 L391.9 1289.1 L392.9 1288.9 L393.9 1288.8 L394.9 1288.7 L395.9 1289.3 L396.9 1289.0 L397.9 1289.1 L398.9 1288.6 L399.9 1288.8 L400.9 1289.1 L401.9 1288.6 L402.9 1288.5 L403.9 1288.9 L404.9 1289.5 L405.9 1287.1 L406.9 1285.1 L407.9 1283.1 L408.9 1281.1 L409.9 1228.4 L410.9 1113.9 L411.9 1022.5 L412.9 971.9 L413.9 917.1 L414.9 822.0 L415.9 779.8 L416.9 775.9 L417.9 790.7 L418.9 845.7 L419.9 900.7 L420.9 943.1 L421.9 981.4 L422.9 1041.7 L423.9 1087.7 L424.9 1127.2 L425.9 1166.3 L426.9 1193.3 L427.9 1213.7 L428.9 1228.6 L429.9 1236.6 L430.9 1244.6 L431.9 1248.2 L432.9 1251.7 L433.9 1255.1 L434.9 1258.2 L435.9 1259.5 L436.9 1260.7 L437.9 1262.0 L438.9 1263.3 L439.9 1264.7 L440.9 1266.4 L441.9 1268.0 L442.9 1269.6 L443.9 1271.2 L444.9 1272.7 L445.9 1273.5 L446.9 1274.3 L447.9 1275.2 L448.9 1276.0 L449.9 1276.8 L450.9 1277.3 L451.9 1277.5 L452.9 1277.7 L453.9 1277.9 L454.9 1278.1 L455.9 1278.3 L456.9 1278.5 L457.9 1278.7 L458.9 1278.8 L459.9 1279.0 L460.9 1279.2 L461.9 1279.4 L462.9 1279.5 L463.9 1279.5 L464.9 1279.6 L465.9 1279.7 L466.9 1279.7 L467.9 1279.8 L468.9 1279.9 L469.9 1279.9 L470.9 1280.0 L471.9 1280.1 L472.9 1280.2 L473.9 1280.3 L474.9 1280.4 L475.9 1280.4 L476.9 1280.5 L477.9 1280.6 L478.9 1280.7 L479.9 1280.8 L480.9 1280.9 L481.9 1281.0 L482.9 1281.0 L483.9 1281.1 L484.9 1281.2 L485.9 1281.3 L486.9 1281.4 L487.9 1281.5 L488.9 1281.6 L489.9 1281.6 L490.9 1281.7 L491.9 1281.8 L492.9 1281.9 L493.9 1282.0 L494.9 1282.1 L495.9 1282.1 L496.9 1282.2 L497.9 1282.2 L498.9 1282.3 L499.9 1282.3 L500.9 1282.4 L501.9 1282.9 L502.9 1282.3 L503.9 1282.3 L504.9 1281.9 L505.9 1282.2 L506.9 1283.1 L507.9 1282.6 L508.9 1282.8 L509.9 1282.8 L510.9 1282.6 L511.9 1282.5 L513.0 1282.7 L514.0 1282.9 L515.0 1282.9 L516.0 1282.9 L517.0 1282.8 L518.0 1282.5 L519.0 1282.7 L520.0 1282.4 L521.0 1283.3 L522.0 1282.0 L523.0 1282.8 L524.0 1283.9 L525.0 1282.8 L526.0 1282.5 L527.0 1283.0 L528.0 1283.6 L529.0 1283.0 L530.0 1283.3 L531.0 1283.2 L532.0 1283.0 L533.0 1284.4 L534.0 1283.2 L535.0 1283.0 L536.0 1283.1 L537.0 1283.4 L538.0 1283.5 L539.0 1283.6 L540.0 1283.4 L541.0 1282.8 L542.0 1283.6 L543.0 1283.3 L544.0 1283.4 L545.0 1282.9 L546.0 1283.3 L547.0 1283.3 L548.0 1283.6 L549.0 1283.0 L550.0 1283.7 L551.0 1283.7 L552.0 1283.2 L553.0 1283.5 L554.0 1283.4 L555.0 1284.1 L556.0 1282.8 L557.0 1283.7 L558.0 1283.2 L559.0 1283.7 L560.0 1284.2 L561.0 1283.7 L562.0 1284.0 L563.0 1283.6 L564.0 1284.8 L565.0 1284.4 L566.0 1284.5 L567.0 1283.6 L568.0 1283.7 L569.0 1284.6 L570.0 1284.1 L571.0 1284.1 L572.0 1284.4 L573.0 1283.7 L574.0 1284.6 L575.0 1284.3 L576.0 1284.5 L577.0 1284.1 L578.0 1284.6 L579.0 1284.1 L580.0 1284.8 L581.0 1284.9 L582.0 1284.9 L583.0 1284.7 L584.0 1284.8 L585.0 1283.5 L586.0 1284.9 L587.0 1284.5 L588.0 1284.7 L589.0 1284.6 L590.0 1284.1 L591.0 1284.5 L592.0 1285.0 L593.0 1285.3 L594.0 1284.6 L595.0 1284.5 L596.0 1285.4 L597.0 1284.5 L598.0 1285.7 L599.0 1285.0 L600.0 1284.6 L601.0 1285.4 L602.0 1285.7 L603.0 1284.5 L604.0 1285.7 L605.0 1285.0 L606.0 1285.7 L607.0 1285.0 L608.0 1284.5 L609.0 1285.4 L610.0 1285.6 L611.0 1286.1 L612.0 1286.0 L613.0 1285.6 L614.0 1285.2 L615.0 1285.2 L616.0 1285.3 L617.0 1285.1 L618.0 1285.3 L619.0 1284.5 L620.0 1285.6 L621.0 1285.5 L622.0 1286.6 L623.0 1285.9 L624.0 1285.4 L625.0 1285.8 L626.0 1285.1 L627.0 1285.4 L628.0 1284.9 L629.0 1286.2 L630.0 1285.9 L631.0 1285.2 L632.0 1285.7 L633.0 1286.1 L634.0 1286.0 L635.0 1285.9 L636.0 1285.5 L637.0 1285.6 L638.0 1285.9 L639.0 1286.2 L640.0 1285.5 L641.0 1285.4 L642.0 1286.4 L643.0 1285.6 L644.0 1286.4 L645.0 1286.1 L646.0 1286.3 L647.0 1286.7 L648.0 1286.3 L649.0 1286.4 L650.0 1285.7 L651.0 1285.8 L652.0 1286.4 L653.0 1286.7 L654.0 1286.7 L655.0 1287.1 L656.0 1286.3 L657.0 1286.3 L658.0 1286.6 L659.0 1286.2 L660.0 1286.2 L661.0 1285.8 L662.0 1286.7 L663.0 1285.9 L664.0 1286.5 L665.0 1285.8 L666.0 1286.8 L667.0 1286.0 L668.0 1286.7 L669.0 1285.8 L670.0 1286.3 L671.0 1286.9 L672.0 1286.2 L673.0 1286.5 L674.0 1286.3 L675.0 1285.6 L676.0 1286.7 L677.0 1286.7 L678.0 1286.1 L679.0 1286.8 L680.0 1286.3 L681.0 1286.2 L682.0 1286.7 L683.0 1286.4 L684.0 1287.6 L685.0 1286.1 L686.0 1287.0 L687.0 1287.2 L688.0 1286.0 L689.0 1286.1 L690.0 1287.0 L691.0 1286.6 L692.0 1287.0 L693.0 1287.3 L694.0 1286.7 L695.0 1286.5 L696.0 1285.8 L697.0 1287.0 L698.0 1286.6 L699.0 1287.1 L700.0 1287.1 L701.0 1286.5 L702.0 1287.7 L703.0 1287.5 L704.0 1287.4 L705.0 1286.6 L706.0 1286.9 L707.0 1286.9 L708.0 1286.9 L709.0 1286.7 L710.0 1287.3 L711.0 1287.2 L712.0 1287.3 L713.0 1287.0 L714.0 1287.7 L715.0 1287.3 L716.0 1286.1 L717.0 1286.9 L718.0 1287.2 L719.0 1287.6 L720.0 1287.1 L721.0 1287.2 L722.0 1287.0 L723.0 1287.5 L724.0 1287.1 L725.0 1287.1 L726.0 1287.0 L727.0 1287.5 L728.0 1287.1 L729.0 1286.7 L730.0 1287.6 L731.0 1287.1 L732.0 1287.5 L733.0 1287.5 L734.0 1287.9 L735.0 1287.8 L736.0 1287.2 L737.0 1287.4 L738.0 1286.9 L739.0 1288.1 L740.0 1287.7 L741.0 1288.0 L742.0 1287.4 L743.0 1286.7 L744.0 1288.1 L745.0 1287.6 L746.0 1287.6 L747.0 1287.6 L748.0 1287.8 L749.0 1287.8 L750.0 1287.0 L751.0 1288.0 L752.0 1287.4 L753.0 1287.4 L754.0 1288.3 L755.0 1288.0 L756.0 1287.5 L757.0 1286.9 L758.0 1287.8 L759.0 1287.9 L760.0 1287.7 L761.0 1287.2 L762.0 1287.4 L763.0 1287.3 L764.0 1287.9 L765.0 1288.1 L766.0 1288.2 L767.0 1287.5 L768.0 1287.9 L769.0 1288.0 L770.0 1287.6 L771.0 1287.8 L772.0 1288.7 L773.0 1288.0 L774.0 1288.2 L775.0 1287.7 L776.0 1287.9 L777.0 1287.2 L778.0 1287.9 L779.0 1288.4 L780.0 1288.8 L781.0 1288.5 L782.0 1288.3 L783.0 1288.0 L784.0 1287.8 L785.0 1288.0 L786.0 1288.3 L787.0 1287.7 L788.0 1288.4 L789.0 1287.7 L790.0 1287.4 L791.0 1287.7 L792.0 1287.4 L793.0 1287.6 L794.0 1288.6 L795.0 1288.1 L796.0 1288.2 L797.0 1288.6 L798.0 1288.7 L799.0 1288.0 L800.0 1288.7 L801.0 1288.4 L802.0 1288.2 L803.0 1288.4 L804.0 1287.6 L805.0 1287.9 L806.0 1288.2 L807.0 1288.5 L808.0 1288.1 L809.0 1288.2 L810.0 1288.6 L811.0 1288.8 L812.0 1288.6 L813.0 1288.8 L814.0 1288.1 L815.0 1288.1 L816.0 1288.4 L817.0 1288.1 L818.0 1288.1 L819.0 1288.9 L820.0 1288.2 L821.0 1287.9 L822.0 1288.5 L823.0 1289.0 L824.0 1288.3 L825.0 1288.8 L826.0 1288.1 L827.0 1288.1 L828.0 1288.0 L829.0 1288.3 L830.0 1289.1 L831.0 1287.9 L832.0 1289.0 L833.0 1287.9 L834.0 1288.2 L835.0 1288.7 L836.0 1288.6 L837.0 1288.5 L838.0 1287.7 L839.0 1288.5 L840.0 1288.0 L841.0 1289.4 L842.0 1288.3 L843.0 1288.4 L844.0 1287.9 L845.0 1288.2 L846.0 1287.9 L847.0 1288.8 L848.0 1288.3 L849.0 1288.6 L850.0 1288.1 L851.0 1288.2 L852.0 1288.9 L853.0 1288.0 L854.0 1287.7 L855.0 1288.6 L856.0 1288.0 L857.0 1288.3 L858.0 1288.8 L859.0 1288.1 L860.0 1288.8 L861.0 1288.2 L862.0 1289.0 L863.0 1289.0 L864.0 1288.3 L865.0 1288.4 L866.0 1288.1 L867.0 1288.5 L868.0 1288.9 L869.0 1287.9 L870.0 1288.8 L871.0 1288.0 L872.0 1288.1 L873.0 1287.8 L874.0 1289.3 L875.0 1288.5 L876.0 1288.6 L877.0 1288.2 L878.0 1288.9 L879.0 1287.7 L880.0 1288.5 L881.0 1289.4 L882.0 1288.4 L883.0 1288.5 L884.0 1288.8 L885.0 1288.2 L886.0 1288.6 L887.0 1288.9 L888.0 1288.6 L889.0 1288.7 L890.0 1288.4 L891.0 1288.7 L892.0 1288.6 L893.0 1289.2 L894.0 1288.9 L895.0 1288.5 L896.0 1287.6 L897.0 1288.9 L898.0 1288.9 L899.0 1288.2 L900.0 1287.8 L901.0 1288.1 L902.0 1289.0 L903.0 1288.2 L904.0 1288.4 L905.0 1288.7 L906.0 1289.1 L907.0 1288.6 L908.0 1288.6 L909.0 1288.4 L910.0 1289.3 L911.0 1289.1 L912.0 1288.6 L913.0 1288.1 L914.0 1288.3 L915.0 1288.9 L916.0 1288.4 L917.0 1289.0 L918.0 1288.8 L919.0 1288.8 L920.0 1288.9 L921.0 1288.9 L922.0 1288.3 L923.0 1288.6 L924.0 1289.6 L925.0 1288.2 L926.0 1288.5 L927.0 1289.1 L928.0 1288.6 L929.0 1288.4 L930.0 1288.2 L931.0 1288.9 L932.0 1289.1 L933.0 1289.3 L934.0 1288.8 L935.0 1289.2 L936.0 1288.3 L937.0 1288.8 L938.0 1288.5 L939.0 1288.8 L940.0 1289.1 L941.0 1289.2 L942.0 1288.4 L943.0 1289.3 L944.0 1288.6 L945.0 1288.4 L946.0 1288.7 L947.0 1288.2 L948.0 1288.8 L949.0 1288.9 L950.0 1288.7 L951.0 1289.0 L952.0 1288.7 L953.0 1288.8 L954.0 1288.2 L955.0 1288.8 L956.0 1288.5 L957.0 1288.6 L958.0 1288.8 L959.0 1288.9 L960.0 1288.2 L961.0 1288.2 L962.0 1288.7 L963.0 1289.0 L964.0 1289.0 L965.0 1289.2 L966.0 1289.4 L967.0 1289.1 L968.0 1288.9 L969.0 1288.5 L970.0 1288.5 L971.0 1288.7 L972.0 1289.0 L973.0 1289.0 L974.0 1288.9 L975.0 1288.8 L976.0 1289.2 L977.0 1289.0 L978.0 1289.0 L979.0 1289.0 L980.0 1288.7 L981.0 1288.5 L982.0 1289.1 L983.0 1289.1 L984.0 1288.8 L985.0 1288.8 L986.0 1289.9 L987.0 1288.6 L988.0 1288.9 L989.0 1289.1 L990.0 1288.5 L991.0 1289.0 L992.0 1289.7 L993.0 1289.3 L994.0 1289.2 L995.0 1289.2 L996.0 1289.0 L997.0 1289.4 L998.0 1288.9 L999.0 1288.8 L1000.0 1289.0 L1001.0 1289.4 L1002.0 1289.1 L1003.0 1289.3 L1004.0 1288.2 L1005.0 1289.5 L1006.0 1289.9 L1007.0 1289.5 L1008.0 1288.9 L1009.0 1288.7 L1010.0 1289.1 L1011.0 1288.6 L1012.0 1289.3 L1013.0 1288.8 L1014.0 1289.4 L1015.0 1289.6 L1016.0 1288.2 L1017.0 1289.1 L1018.0 1288.7 L1019.0 1288.4 L1020.0 1288.8 L1021.0 1288.9 L1022.0 1289.4 L1023.0 1288.4 L1024.0 1289.4 L1025.0 1289.8 L1026.0 1289.3 L1027.0 1289.2 L1028.0 1289.0 L1029.0 1288.5 L1030.0 1289.2 L1031.0 1289.2 L1032.0 1289.3 L1033.0 1290.0 L1034.0 1289.3 L1035.0 1289.2 L1036.0 1289.6 L1037.0 1288.5 L1038.0 1288.6 L1039.0 1288.9 L1040.0 1288.8 L1041.0 1289.3 L1042.0 1288.9 L1043.0 1289.7 L1044.0 1289.6 L1045.0 1289.3 L1046.0 1288.9 L1047.0 1289.3 L1048.0 1289.3 L1049.0 1288.6 L1050.0 1289.2 L1051.0 1289.3 L1052.0 1289.1 L1053.0 1289.7 L1054.0 1289.5 L1055.0 1288.7 L1056.0 1289.1 L1057.0 1288.7 L1058.0 1289.3 L1059.0 1288.7 L1060.0 1289.4 L1061.0 1289.2 L1062.0 1289.4 L1063.0 1289.0 L1064.0 1288.4 L1065.0 1289.7 L1066.0 1289.0 L1067.0 1289.6 L1068.0 1289.2 L1069.0 1289.3 L1070.0 1289.8 L1071.0 1289.2 L1072.0 1289.6 L1073.0 1288.4 L1074.0 1289.4 L1075.0 1288.9 L1076.0 1289.0 L1077.0 1289.0 L1078.0 1289.2 L1079.0 1289.7 L1080.0 1288.3 L1081.0 1289.1 L1082.0 1288.8 L1083.0 1289.5 L1084.0 1288.9 L1085.0 1289.2 L1086.0 1288.9 L1087.0 1289.3 L1088.0 1289.4 L1089.0 1288.9 L1090.0 1289.1 L1091.0 1288.5 L1092.0 1289.2 L1093.0 1289.4 L1094.0 1288.8 L1095.0 1289.5 L1096.0 1288.2 L1097.0 1288.3 L1098.0 1288.5 L1099.0 1288.9 L1100.0 1289.1 L1101.0 1289.0 L1102.0 1289.0 L1103.0 1289.3 L1104.0 1288.9 L1105.0 1288.5 L1106.0 1288.6 L1107.0 1289.9 L1108.0 1288.1 L1109.0 1289.0 L1110.0 1289.6 L1111.0 1289.2 L1112.0 1288.7 L1113.0 1289.1 L1114.0 1289.4 L1115.0 1289.5 L1116.0 1288.7 L1117.0 1289.4 L1118.0 1289.2 L1119.0 1289.5 L1120.0 1289.6 L1121.0 1288.9 L1122.0 1288.5 L1123.0 1289.2 L1124.0 1289.8 L1125.0 1289.3 L1126.0 1289.2 L1127.0 1290.0 L1128.0 1288.6 L1129.0 1289.4 L1130.0 1288.8 L1131.0 1289.1 L1132.0 1289.1 L1133.0 1289.7 L1134.0 1288.7 L1135.0 1288.9 L1136.0 1288.4 L1137.0 1289.3 L1138.0 1288.9 L1139.0 1289.2 L1140.0 1288.6 L1141.0 1288.9 L1142.0 1289.5 L1143.0 1289.0 L1144.0 1289.3 L1145.0 1289.3 L1146.0 1288.9 L1147.0 1288.4 L1148.0 1289.5 L1149.0 1289.1 L1150.0 1289.5 L1151.0 1288.3 L1152.0 1288.4 L1153.0 1288.2 L1154.0 1288.7 L1155.0 1289.5 L1156.0 1289.3 L1157.0 1289.1 L1158.0 1289.1 L1159.0 1289.4 L1160.0 1289.0 L1161.0 1289.2 L1162.0 1289.1 L1163.0 1288.2 L1164.0 1288.9 L1165.0 1289.6 L1166.0 1288.9 L1167.0 1289.0 L1168.0 1288.8 L1169.0 1288.9 L1170.0 1289.5 L1171.0 1289.0 L1172.0 1288.7 L1173.0 1287.8 L1174.0 1288.9 L1175.0 1288.3 L1176.0 1288.4 L1177.0 1289.4 L1178.0 1289.4 L1179.0 1288.3 L1180.0 1289.4 L1181.0 1289.3 L1182.0 1288.8 L1183.0 1289.4 L1184.0 1288.4 L1185.0 1288.6 L1186.0 1288.5 L1187.0 1288.6 L1188.0 1289.4 L1189.0 1288.6 L1190.0 1288.6 L1191.0 1288.7 L1192.0 1289.2 L1193.0 1289.0 L1194.0 1289.4 L1195.0 1288.8 L1196.0 1288.6 L1197.0 1288.9 L1198.0 1289.1 L1199.0 1288.7 L1200.0 1289.2 L1201.0 1289.8 L1202.0 1288.9 L1203.0 1289.1 L1204.0 1289.6 L1205.0 1288.8 L1206.0 1288.8 L1207.0 1288.7 L1208.0 1289.3 L1209.0 1289.3 L1210.0 1289.0 L1211.0 1289.1 L1212.0 1289.6 L1213.0 1289.4 L1214.0 1288.5 L1215.0 1289.1 L1216.0 1289.1 L1217.0 1289.4 L1218.0 1289.0 L1219.0 1288.8 L1220.0 1288.9 L1221.0 1288.4 L1222.0 1289.1 L1223.0 1288.9 L1224.0 1289.3 L1225.0 1288.7 L1226.0 1288.9 L1227.0 1288.7 L1228.0 1288.7 L1229.0 1289.4 L1230.0 1288.9 L1231.0 1289.3 L1232.0 1288.7 L1233.0 1289.1 L1234.0 1288.4 L1235.0 1288.9 L1236.0 1288.9 L1237.0 1289.3 L1238.0 1289.2 L1239.0 1289.0 L1240.0 1289.4 L1241.0 1289.2 L1242.0 1289.3 L1243.0 1289.4 L1244.0 1289.1 L1245.0 1289.0 L1246.0 1289.2 L1247.0 1288.9 L1248.0 1289.3 L1249.0 1289.5 L1250.0 1289.4 L1251.0 1289.0 L1252.0 1288.6 L1253.0 1289.1 L1254.0 1289.1 L1255.0 1289.6 L1256.0 1289.0 L1257.0 1289.0 L1258.0 1289.4 L1259.0 1288.9 L1260.0 1289.0 L1261.0 1289.8 L1262.0 1289.7 L1263.0 1289.4 L1264.0 1289.2 L1265.0 1288.7 L1266.0 1289.3 L1267.0 1289.1 L1268.0 1289.2 L1269.0 1288.9 L1270.0 1289.1 L1271.0 1289.0 L1272.0 1289.2 L1273.0 1289.7 L1274.0 1289.3 L1275.0 1288.5 L1276.0 1288.7 L1277.0 1288.5 L1278.0 1288.8 L1279.0 1289.3 L1280.0 1289.3 L1281.0 1288.9 L1282.0 1289.2 L1283.0 1288.8 L1284.0 1288.6 L1285.0 1288.6 L1286.0 1288.8 L1287.0 1289.7 L1288.0 1288.6 L1289.0 1289.6 L1290.0 1289.7 L1291.0 1289.1 L1292.0 1289.1 L1293.0 1288.9 L1294.0 1289.1 L1295.0 1289.4 L1296.0 1289.1 L1297.0 1289.5 L1298.0 1289.6 L1299.0 1289.3 L1300.0 1289.3 L1301.0 1289.1 L1302.0 1289.3 L1303.0 1288.7 L1304.0 1289.3 L1305.0 1289.2 L1306.0 1288.8 L1307.0 1290.0 L1308.0 1288.7 L1309.0 1288.8 L1310.0 1289.2 L1311.0 1288.4 L1312.0 1288.8 L1313.0 1288.5 L1314.0 1288.7 L1315.0 1289.1 L1316.0 1289.3 L1317.0 1289.6 L1318.0 1289.5 L1319.0 1289.6 L1320.0 1289.4 L1321.0 1289.0 L1322.0 1289.6 L1323.0 1288.9 L1324.0 1288.9 L1325.0 1289.8 L1326.0 1289.5 L1327.0 1289.2 L1328.0 1289.4 L1329.0 1289.5 L1330.0 1288.6 L1331.0 1289.1 L1332.0 1288.7 L1333.0 1289.2 L1334.0 1288.9 L1335.0 1289.7 L1336.0 1289.4 L1337.0 1288.8 L1338.0 1289.1 L1339.0 1288.7 L1340.0 1289.2 L1341.0 1289.4 L1342.0 1289.3 L1343.0 1288.4 L1344.0 1289.0 L1345.0 1289.4 L1346.0 1289.3 L1347.0 1289.6 L1348.0 1288.6 L1349.0 1289.4 L1350.0 1288.9 L1351.0 1289.2 L1352.0 1289.3 L1353.0 1289.4 L1354.0 1288.9 L1355.0 1289.2 L1356.0 1288.7 L1357.0 1288.6 L1358.0 1289.4 L1359.0 1289.1 L1360.0 1288.5 L1361.0 1288.8 L1362.0 1289.2 L1363.0 1289.8 L1364.0 1289.6 L1365.0 1289.5 L1366.0 1288.4 L1367.0 1289.1 L1368.0 1289.4 L1369.0 1289.3 L1370.0 1289.3 L1371.0 1289.1 L1372.0 1289.9 L1373.0 1289.8 L1374.0 1289.1 L1375.0 1288.8 L1376.0 1290.0 L1377.0 1288.9 L1378.0 1289.6 L1379.0 1289.9 L1380.0 1288.8 L1381.0 1289.3 L1382.0 1289.0 L1383.0 1289.4 L1384.0 1289.3 L1385.0 1289.9 L1386.0 1289.4 L1387.0 1289.2 L1388.0 1289.6 L1389.0 1289.1 L1390.0 1289.0 L1391.0 1290.1 L1392.0 1288.8 L1393.0 1289.0 L1394.0 1289.2 L1395.0 1288.7 L1396.0 1288.3 L1397.0 1289.6 L1398.0 1288.9 L1399.0 1289.0 L1400.0 1289.0 L1401.0 1288.8 L1402.0 1288.7 L1403.0 1289.2 L1403.0 1295.0 L1402.0 1294.3 L1401.0 1294.7 L1400.0 1294.6 L1399.0 1294.6 L1398.0 1294.7 L1397.0 1294.9 L1396.0 1295.1 L1395.0 1294.6 L1394.0 1295.3 L1393.0 1295.3 L1392.0 1295.2 L1391.0 1295.3 L1390.0 1295.6 L1389.0 1295.2 L1388.0 1294.9 L1387.0 1294.6 L1386.0 1294.6 L1385.0 1294.6 L1384.0 1294.5 L1383.0 1295.1 L1382.0 1295.0 L1381.0 1294.5 L1380.0 1295.0 L1379.0 1295.3 L1378.0 1294.9 L1377.0 1295.0 L1376.0 1294.9 L1375.0 1295.2 L1374.0 1294.4 L1373.0 1295.1 L1372.0 1295.5 L1371.0 1295.1 L1370.0 1295.5 L1369.0 1295.5 L1368.0 1294.7 L1367.0 1295.4 L1366.0 1295.1 L1365.0 1294.9 L1364.0 1295.4 L1363.0 1295.1 L1362.0 1295.2 L1361.0 1295.0 L1360.0 1294.2 L1359.0 1294.8 L1358.0 1295.0 L1357.0 1294.8 L1356.0 1294.6 L1355.0 1295.2 L1354.0 1294.5 L1353.0 1294.4 L1352.0 1294.8 L1351.0 1295.2 L1350.0 1294.4 L1349.0 1294.9 L1348.0 1295.0 L1347.0 1294.8 L1346.0 1295.3 L1345.0 1294.6 L1344.0 1295.0 L1343.0 1295.4 L1342.0 1294.4 L1341.0 1294.7 L1340.0 1295.6 L1339.0 1294.5 L1338.0 1294.7 L1337.0 1294.8 L1336.0 1294.8 L1335.0 1294.0 L1334.0 1293.9 L1333.0 1294.6 L1332.0 1294.4 L1331.0 1293.9 L1330.0 1294.8 L1329.0 1294.1 L1328.0 1295.2 L1327.0 1294.8 L1326.0 1294.6 L1325.0 1294.5 L1324.0 1294.2 L1323.0 1294.5 L1322.0 1294.8 L1321.0 1294.6 L1320.0 1295.0 L1319.0 1294.6 L1318.0 1294.8 L1317.0 1294.9 L1316.0 1294.8 L1315.0 1294.8 L1314.0 1295.2 L1313.0 1294.4 L1312.0 1294.8 L1311.0 1295.1 L1310.0 1294.5 L1309.0 1295.3 L1308.0 1294.4 L1307.0 1294.9 L1306.0 1294.8 L1305.0 1295.4 L1304.0 1294.8 L1303.0 1294.1 L1302.0 1294.6 L1301.0 1294.5 L1300.0 1294.8 L1299.0 1294.6 L1298.0 1295.0 L1297.0 1294.8 L1296.0 1294.8 L1295.0 1293.9 L1294.0 1294.8 L1293.0 1294.4 L1292.0 1294.3 L1291.0 1294.5 L1290.0 1294.9 L1289.0 1295.4 L1288.0 1295.2 L1287.0 1294.8 L1286.0 1294.9 L1285.0 1294.1 L1284.0 1294.9 L1283.0 1294.0 L1282.0 1294.3 L1281.0 1294.8 L1280.0 1294.7 L1279.0 1294.6 L1278.0 1294.7 L1277.0 1294.8 L1276.0 1295.7 L1275.0 1294.8 L1274.0 1294.8 L1273.0 1294.9 L1272.0 1295.1 L1271.0 1295.1 L1270.0 1294.9 L1269.0 1295.2 L1268.0 1295.1 L1267.0 1295.2 L1266.0 1295.1 L1265.0 1294.6 L1264.0 1294.6 L1263.0 1295.0 L1262.0 1294.6 L1261.0 1294.7 L1260.0 1294.1 L1259.0 1294.6 L1258.0 1295.0 L1257.0 1294.6 L1256.0 1294.9 L1255.0 1294.4 L1254.0 1294.9 L1253.0 1294.0 L1252.0 1294.2 L1251.0 1294.7 L1250.0 1294.7 L1249.0 1293.9 L1248.0 1294.7 L1247.0 1294.5 L1246.0 1295.0 L1245.0 1294.6 L1244.0 1294.2 L1243.0 1294.5 L1242.0 1294.6 L1241.0 1294.6 L1240.0 1294.3 L1239.0 1294.5 L1238.0 1294.9 L1237.0 1294.8 L1236.0 1295.1 L1235.0 1295.6 L1234.0 1293.9 L1233.0 1294.5 L1232.0 1295.0 L1231.0 1295.1 L1230.0 1294.7 L1229.0 1294.6 L1228.0 1294.6 L1227.0 1295.1 L1226.0 1295.0 L1225.0 1294.7 L1224.0 1294.6 L1223.0 1294.4 L1222.0 1294.2 L1221.0 1295.4 L1220.0 1294.2 L1219.0 1294.5 L1218.0 1294.3 L1217.0 1294.3 L1216.0 1294.9 L1215.0 1294.3 L1214.0 1294.7 L1213.0 1294.7 L1212.0 1295.1 L1211.0 1293.8 L1210.0 1295.2 L1209.0 1294.8 L1208.0 1294.3 L1207.0 1295.6 L1206.0 1294.5 L1205.0 1295.2 L1204.0 1295.3 L1203.0 1294.3 L1202.0 1294.8 L1201.0 1295.3 L1200.0 1294.1 L1199.0 1294.9 L1198.0 1294.3 L1197.0 1294.9 L1196.0 1294.9 L1195.0 1294.9 L1194.0 1294.1 L1193.0 1295.0 L1192.0 1294.9 L1191.0 1294.2 L1190.0 1294.7 L1189.0 1294.8 L1188.0 1295.4 L1187.0 1295.3 L1186.0 1294.4 L1185.0 1294.0 L1184.0 1295.0 L1183.0 1294.7 L1182.0 1295.0 L1181.0 1294.9 L1180.0 1294.5 L1179.0 1294.8 L1178.0 1294.7 L1177.0 1294.9 L1176.0 1294.8 L1175.0 1294.9 L1174.0 1294.1 L1173.0 1294.4 L1172.0 1295.1 L1171.0 1294.7 L1170.0 1295.3 L1169.0 1295.5 L1168.0 1294.8 L1167.0 1294.3 L1166.0 1295.0 L1165.0 1295.2 L1164.0 1294.5 L1163.0 1294.9 L1162.0 1294.7 L1161.0 1294.2 L1160.0 1294.8 L1159.0 1295.0 L1158.0 1294.7 L1157.0 1294.6 L1156.0 1294.6 L1155.0 1294.8 L1154.0 1294.3 L1153.0 1294.6 L1152.0 1295.9 L1151.0 1294.7 L1150.0 1294.6 L1149.0 1294.9 L1148.0 1294.6 L1147.0 1293.7 L1146.0 1294.9 L1145.0 1295.2 L1144.0 1295.5 L1143.0 1294.7 L1142.0 1294.2 L1141.0 1295.0 L1140.0 1294.7 L1139.0 1294.0 L1138.0 1295.3 L1137.0 1294.9 L1136.0 1294.8 L1135.0 1294.5 L1134.0 1294.0 L1133.0 1295.4 L1132.0 1294.5 L1131.0 1293.5 L1130.0 1294.8 L1129.0 1294.7 L1128.0 1295.1 L1127.0 1295.1 L1126.0 1294.3 L1125.0 1295.4 L1124.0 1295.2 L1123.0 1295.0 L1122.0 1295.1 L1121.0 1294.3 L1120.0 1294.7 L1119.0 1295.5 L1118.0 1294.5 L1117.0 1294.6 L1116.0 1294.8 L1115.0 1294.5 L1114.0 1294.3 L1113.0 1294.7 L1112.0 1294.2 L1111.0 1295.0 L1110.0 1294.1 L1109.0 1294.9 L1108.0 1294.3 L1107.0 1293.8 L1106.0 1295.3 L1105.0 1294.5 L1104.0 1295.0 L1103.0 1294.6 L1102.0 1294.9 L1101.0 1294.5 L1100.0 1294.7 L1099.0 1294.1 L1098.0 1294.6 L1097.0 1295.0 L1096.0 1295.0 L1095.0 1293.9 L1094.0 1294.8 L1093.0 1294.4 L1092.0 1294.5 L1091.0 1294.2 L1090.0 1294.0 L1089.0 1295.0 L1088.0 1294.9 L1087.0 1294.4 L1086.0 1295.0 L1085.0 1294.5 L1084.0 1294.4 L1083.0 1294.5 L1082.0 1294.1 L1081.0 1295.0 L1080.0 1294.2 L1079.0 1294.7 L1078.0 1294.8 L1077.0 1294.8 L1076.0 1293.9 L1075.0 1294.0 L1074.0 1295.1 L1073.0 1294.1 L1072.0 1294.9 L1071.0 1293.8 L1070.0 1294.5 L1069.0 1294.9 L1068.0 1294.6 L1067.0 1295.2 L1066.0 1294.3 L1065.0 1294.5 L1064.0 1295.2 L1063.0 1294.4 L1062.0 1294.9 L1061.0 1294.5 L1060.0 1294.5 L1059.0 1294.8 L1058.0 1294.8 L1057.0 1295.1 L1056.0 1295.4 L1055.0 1293.9 L1054.0 1294.4 L1053.0 1294.2 L1052.0 1295.0 L1051.0 1294.4 L1050.0 1294.2 L1049.0 1295.4 L1048.0 1295.3 L1047.0 1295.4 L1046.0 1294.5 L1045.0 1294.5 L1044.0 1294.7 L1043.0 1295.0 L1042.0 1293.9 L1041.0 1294.9 L1040.0 1294.9 L1039.0 1294.4 L1038.0 1294.8 L1037.0 1295.0 L1036.0 1294.2 L1035.0 1294.6 L1034.0 1294.6 L1033.0 1295.4 L1032.0 1295.0 L1031.0 1294.8 L1030.0 1294.0 L1029.0 1294.0 L1028.0 1294.4 L1027.0 1294.2 L1026.0 1294.8 L1025.0 1295.3 L1024.0 1294.7 L1023.0 1295.1 L1022.0 1294.5 L1021.0 1295.0 L1020.0 1294.7 L1019.0 1293.9 L1018.0 1294.4 L1017.0 1294.5 L1016.0 1295.5 L1015.0 1294.9 L1014.0 1294.7 L1013.0 1294.6 L1012.0 1294.5 L1011.0 1293.9 L1010.0 1294.1 L1009.0 1295.3 L1008.0 1294.5 L1007.0 1294.6 L1006.0 1294.2 L1005.0 1294.4 L1004.0 1295.0 L1003.0 1295.1 L1002.0 1294.3 L1001.0 1294.3 L1000.0 1294.4 L999.0 1294.9 L998.0 1294.0 L997.0 1295.0 L996.0 1294.8 L995.0 1295.0 L994.0 1294.5 L993.0 1294.5 L992.0 1294.7 L991.0 1294.3 L990.0 1294.5 L989.0 1294.6 L988.0 1294.8 L987.0 1294.7 L986.0 1295.1 L985.0 1294.8 L984.0 1294.5 L983.0 1294.5 L982.0 1294.9 L981.0 1294.8 L980.0 1293.9 L979.0 1294.6 L978.0 1295.0 L977.0 1294.1 L976.0 1293.7 L975.0 1293.6 L974.0 1294.9 L973.0 1294.4 L972.0 1294.5 L971.0 1294.2 L970.0 1294.8 L969.0 1294.1 L968.0 1294.0 L967.0 1295.2 L966.0 1295.3 L965.0 1294.3 L964.0 1294.1 L963.0 1294.8 L962.0 1294.4 L961.0 1294.0 L960.0 1294.5 L959.0 1294.7 L958.0 1294.2 L957.0 1294.1 L956.0 1294.5 L955.0 1294.4 L954.0 1294.1 L953.0 1295.1 L952.0 1295.0 L951.0 1294.4 L950.0 1294.8 L949.0 1294.3 L948.0 1294.6 L947.0 1294.7 L946.0 1295.0 L945.0 1294.2 L944.0 1295.4 L943.0 1294.6 L942.0 1294.3 L941.0 1295.2 L940.0 1294.2 L939.0 1295.1 L938.0 1295.3 L937.0 1295.3 L936.0 1294.9 L935.0 1294.2 L934.0 1294.6 L933.0 1294.5 L932.0 1294.6 L931.0 1294.7 L930.0 1294.5 L929.0 1295.1 L928.0 1294.9 L927.0 1294.7 L926.0 1294.9 L925.0 1294.7 L924.0 1295.0 L923.0 1294.7 L922.0 1294.2 L921.0 1295.5 L920.0 1294.7 L919.0 1294.5 L918.0 1295.1 L917.0 1295.0 L916.0 1294.8 L915.0 1294.4 L914.0 1294.7 L913.0 1294.7 L912.0 1294.2 L911.0 1294.9 L910.0 1294.8 L909.0 1294.4 L908.0 1295.4 L907.0 1294.7 L906.0 1294.6 L905.0 1294.5 L904.0 1294.8 L903.0 1294.9 L902.0 1294.4 L901.0 1294.3 L900.0 1294.1 L899.0 1294.4 L898.0 1294.8 L897.0 1294.2 L896.0 1294.5 L895.0 1294.4 L894.0 1294.4 L893.0 1294.2 L892.0 1293.8 L891.0 1294.4 L890.0 1295.8 L889.0 1294.3 L888.0 1294.3 L887.0 1294.5 L886.0 1294.8 L885.0 1293.8 L884.0 1294.5 L883.0 1294.6 L882.0 1293.8 L881.0 1295.0 L880.0 1294.5 L879.0 1294.1 L878.0 1294.5 L877.0 1293.8 L876.0 1294.6 L875.0 1293.2 L874.0 1294.8 L873.0 1294.7 L872.0 1294.5 L871.0 1294.6 L870.0 1294.1 L869.0 1294.3 L868.0 1294.1 L867.0 1294.4 L866.0 1294.8 L865.0 1294.4 L864.0 1294.9 L863.0 1295.1 L862.0 1294.3 L861.0 1295.1 L860.0 1294.4 L859.0 1294.4 L858.0 1294.5 L857.0 1294.7 L856.0 1294.1 L855.0 1294.3 L854.0 1294.5 L853.0 1294.9 L852.0 1294.3 L851.0 1294.0 L850.0 1294.0 L849.0 1294.5 L848.0 1295.0 L847.0 1294.8 L846.0 1294.3 L845.0 1294.2 L844.0 1294.0 L843.0 1294.3 L842.0 1294.6 L841.0 1294.5 L840.0 1294.6 L839.0 1294.4 L838.0 1294.7 L837.0 1294.3 L836.0 1293.4 L835.0 1294.4 L834.0 1293.8 L833.0 1294.1 L832.0 1294.6 L831.0 1294.2 L830.0 1294.0 L829.0 1294.1 L828.0 1294.8 L827.0 1294.9 L826.0 1293.6 L825.0 1294.6 L824.0 1294.4 L823.0 1293.7 L822.0 1293.7 L821.0 1294.0 L820.0 1294.3 L819.0 1293.8 L818.0 1294.5 L817.0 1294.6 L816.0 1294.7 L815.0 1294.5 L814.0 1294.3 L813.0 1294.6 L812.0 1294.7 L811.0 1295.0 L810.0 1293.3 L809.0 1293.9 L808.0 1293.5 L807.0 1294.0 L806.0 1293.8 L805.0 1294.1 L804.0 1294.2 L803.0 1293.8 L802.0 1294.5 L801.0 1294.0 L800.0 1293.9 L799.0 1294.7 L798.0 1294.8 L797.0 1294.0 L796.0 1294.3 L795.0 1294.4 L794.0 1294.3 L793.0 1293.7 L792.0 1293.9 L791.0 1294.0 L790.0 1293.8 L789.0 1293.5 L788.0 1294.2 L787.0 1294.0 L786.0 1293.4 L785.0 1293.6 L784.0 1293.7 L783.0 1293.4 L782.0 1293.5 L781.0 1293.5 L780.0 1293.3 L779.0 1294.2 L778.0 1294.2 L777.0 1293.5 L776.0 1294.2 L775.0 1293.5 L774.0 1294.7 L773.0 1294.1 L772.0 1294.8 L771.0 1293.5 L770.0 1294.0 L769.0 1293.5 L768.0 1294.1 L767.0 1293.5 L766.0 1293.5 L765.0 1293.0 L764.0 1293.4 L763.0 1294.4 L762.0 1293.0 L761.0 1293.9 L760.0 1293.7 L759.0 1294.0 L758.0 1293.9 L757.0 1293.5 L756.0 1294.0 L755.0 1293.8 L754.0 1294.3 L753.0 1293.2 L752.0 1294.0 L751.0 1293.9 L750.0 1293.3 L749.0 1294.0 L748.0 1294.3 L747.0 1294.0 L746.0 1294.3 L745.0 1293.8 L744.0 1293.8 L743.0 1293.9 L742.0 1293.3 L741.0 1293.8 L740.0 1293.4 L739.0 1294.2 L738.0 1294.0 L737.0 1293.2 L736.0 1293.9 L735.0 1293.4 L734.0 1292.8 L733.0 1294.3 L732.0 1293.1 L731.0 1293.5 L730.0 1293.6 L729.0 1293.5 L728.0 1294.0 L727.0 1293.5 L726.0 1293.3 L725.0 1293.3 L724.0 1293.7 L723.0 1293.5 L722.0 1293.4 L721.0 1294.3 L720.0 1294.2 L719.0 1293.5 L718.0 1294.3 L717.0 1293.3 L716.0 1293.3 L715.0 1294.1 L714.0 1294.3 L713.0 1293.6 L712.0 1293.6 L711.0 1293.7 L710.0 1293.3 L709.0 1293.3 L708.0 1293.2 L707.0 1293.8 L706.0 1293.7 L705.0 1293.8 L704.0 1292.8 L703.0 1293.6 L702.0 1293.5 L701.0 1293.3 L700.0 1293.9 L699.0 1293.4 L698.0 1293.1 L697.0 1293.7 L696.0 1294.0 L695.0 1293.5 L694.0 1293.1 L693.0 1293.2 L692.0 1292.9 L691.0 1294.0 L690.0 1293.9 L689.0 1293.6 L688.0 1293.8 L687.0 1293.7 L686.0 1293.4 L685.0 1293.2 L684.0 1293.5 L683.0 1294.2 L682.0 1293.1 L681.0 1293.4 L680.0 1293.6 L679.0 1292.9 L678.0 1293.6 L677.0 1293.5 L676.0 1293.9 L675.0 1292.8 L674.0 1293.6 L673.0 1293.5 L672.0 1293.3 L671.0 1293.8 L670.0 1293.1 L669.0 1293.0 L668.0 1293.2 L667.0 1292.9 L666.0 1292.9 L665.0 1293.8 L664.0 1292.6 L663.0 1293.1 L662.0 1292.4 L661.0 1293.1 L660.0 1293.3 L659.0 1292.7 L658.0 1292.9 L657.0 1292.9 L656.0 1292.9 L655.0 1292.6 L654.0 1292.6 L653.0 1292.3 L652.0 1293.1 L651.0 1292.9 L650.0 1292.8 L649.0 1293.1 L648.0 1293.1 L647.0 1292.9 L646.0 1292.7 L645.0 1292.6 L644.0 1292.7 L643.0 1293.0 L642.0 1293.0 L641.0 1293.2 L640.0 1292.7 L639.0 1293.2 L638.0 1292.8 L637.0 1292.1 L636.0 1292.9 L635.0 1293.3 L634.0 1292.9 L633.0 1292.4 L632.0 1293.0 L631.0 1292.4 L630.0 1292.5 L629.0 1292.3 L628.0 1292.8 L627.0 1292.7 L626.0 1292.2 L625.0 1292.8 L624.0 1292.5 L623.0 1292.9 L622.0 1292.4 L621.0 1292.8 L620.0 1292.8 L619.0 1292.5 L618.0 1292.9 L617.0 1293.0 L616.0 1292.2 L615.0 1292.7 L614.0 1292.2 L613.0 1292.4 L612.0 1292.9 L611.0 1292.3 L610.0 1293.0 L609.0 1292.3 L608.0 1292.2 L607.0 1292.7 L606.0 1291.4 L605.0 1292.3 L604.0 1293.0 L603.0 1292.3 L602.0 1292.9 L601.0 1291.9 L600.0 1292.0 L599.0 1292.0 L598.0 1292.2 L597.0 1292.9 L596.0 1291.3 L595.0 1291.4 L594.0 1292.0 L593.0 1292.8 L592.0 1291.8 L591.0 1292.5 L590.0 1292.4 L589.0 1291.9 L588.0 1292.0 L587.0 1291.2 L586.0 1292.1 L585.0 1291.7 L584.0 1292.2 L583.0 1291.8 L582.0 1292.0 L581.0 1292.5 L580.0 1291.6 L579.0 1291.3 L578.0 1292.4 L577.0 1291.7 L576.0 1292.4 L575.0 1291.7 L574.0 1292.0 L573.0 1292.0 L572.0 1292.0 L571.0 1291.9 L570.0 1291.9 L569.0 1291.8 L568.0 1292.4 L567.0 1291.4 L566.0 1291.5 L565.0 1291.9 L564.0 1291.7 L563.0 1291.7 L562.0 1291.9 L561.0 1291.9 L560.0 1291.8 L559.0 1292.0 L558.0 1292.2 L557.0 1291.7 L556.0 1292.0 L555.0 1292.2 L554.0 1291.7 L553.0 1291.6 L552.0 1291.9 L551.0 1291.0 L550.0 1291.9 L549.0 1292.4 L548.0 1291.9 L547.0 1291.5 L546.0 1292.5 L545.0 1291.8 L544.0 1291.7 L543.0 1292.0 L542.0 1292.1 L541.0 1291.8 L540.0 1291.7 L539.0 1291.4 L538.0 1291.4 L537.0 1290.5 L536.0 1292.0 L535.0 1292.1 L534.0 1291.9 L533.0 1291.6 L532.0 1292.0 L531.0 1292.1 L530.0 1291.9 L529.0 1291.6 L528.0 1291.7 L527.0 1292.0 L526.0 1292.2 L525.0 1291.5 L524.0 1291.6 L523.0 1292.9 L522.0 1291.5 L521.0 1292.1 L520.0 1291.6 L519.0 1291.4 L518.0 1291.9 L517.0 1292.2 L516.0 1292.0 L515.0 1292.1 L514.0 1291.5 L513.0 1291.7 L511.9 1291.5 L510.9 1291.6 L509.9 1292.3 L508.9 1291.3 L507.9 1291.9 L506.9 1292.4 L505.9 1292.2 L504.9 1291.5 L503.9 1292.2 L502.9 1292.1 L501.9 1291.4 L500.9 1291.9 L499.9 1291.7 L498.9 1291.1 L497.9 1290.2 L496.9 1291.6 L495.9 1291.7 L494.9 1291.5 L493.9 1292.6 L492.9 1292.1 L491.9 1291.9 L490.9 1292.0 L489.9 1291.6 L488.9 1292.1 L487.9 1291.9 L486.9 1292.3 L485.9 1291.3 L484.9 1291.3 L483.9 1291.7 L482.9 1291.3 L481.9 1291.5 L480.9 1291.5 L479.9 1290.9 L478.9 1291.9 L477.9 1291.3 L476.9 1291.6 L475.9 1291.8 L474.9 1291.8 L473.9 1291.3 L472.9 1291.1 L471.9 1291.5 L470.9 1291.5 L469.9 1292.4 L468.9 1291.4 L467.9 1291.5 L466.9 1291.9 L465.9 1291.4 L464.9 1291.7 L463.9 1291.2 L462.9 1290.5 L461.9 1292.1 L460.9 1291.1 L459.9 1291.4 L458.9 1291.8 L457.9 1291.3 L456.9 1292.1 L455.9 1291.2 L454.9 1291.6 L453.9 1291.7 L452.9 1291.6 L451.9 1291.4 L450.9 1290.6 L449.9 1291.4 L448.9 1292.3 L447.9 1291.6 L446.9 1291.8 L445.9 1291.3 L444.9 1291.2 L443.9 1291.6 L442.9 1291.6 L441.9 1291.8 L440.9 1292.0 L439.9 1292.1 L438.9 1291.2 L437.9 1292.1 L436.9 1292.4 L435.9 1291.5 L434.9 1291.1 L433.9 1292.0 L432.9 1291.5 L431.9 1290.8 L430.9 1292.5 L429.9 1291.9 L428.9 1291.9 L427.9 1291.4 L426.9 1291.7 L425.9 1292.2 L424.9 1292.0 L423.9 1292.2 L422.9 1291.9 L421.9 1292.4 L420.9 1291.7 L419.9 1292.3 L418.9 1291.2 L417.9 1292.3 L416.9 1291.9 L415.9 1291.7 L414.9 1291.8 L413.9 1291.6 L412.9 1292.1 L411.9 1292.4 L410.9 1291.2 L409.9 1293.0 L408.9 1293.5 L407.9 1294.8 L406.9 1294.5 L405.9 1294.6 L404.9 1294.4 L403.9 1295.2 L402.9 1295.5 L401.9 1294.7 L400.9 1294.7 L399.9 1294.6 L398.9 1295.3 L397.9 1295.0 L396.9 1295.0 L395.9 1294.7 L394.9 1294.9 L393.9 1295.2 L392.9 1294.1 L391.9 1295.2 L390.9 1294.4 L389.9 1294.2 L388.9 1294.8 L387.9 1294.7 L386.9 1294.6 L385.9 1295.1 L384.9 1295.2 L383.9 1294.9 L382.9 1295.0 L381.9 1294.6 L380.9 1294.6 L379.9 1295.1 L378.9 1294.5 L377.9 1294.3 L376.9 1295.1 L375.9 1295.0 L374.9 1294.3 L373.9 1293.9 L372.9 1294.7 L371.9 1294.3 L370.9 1295.0 L369.9 1294.6 L368.9 1294.3 L367.9 1294.3 L366.9 1295.0 L365.9 1295.1 L364.9 1294.3 L363.9 1294.2 L362.9 1294.5 L361.9 1294.5 L360.9 1295.0 L359.9 1294.6 L358.9 1294.3 L357.9 1294.7 L356.9 1295.2 L355.9 1295.0 L354.9 1295.1 L353.9 1294.0 L352.9 1294.0 L351.9 1295.1 L350.9 1294.3 L349.9 1294.7 L348.9 1295.1 L347.9 1295.0 L346.9 1294.4 L345.9 1294.5 L344.9 1294.2 L343.9 1294.3 L342.9 1294.5 L341.9 1294.2 L340.9 1294.9 L339.9 1294.3 L338.9 1295.1 L337.9 1295.2 L336.9 1294.6 L335.9 1294.7 L334.9 1295.0 L333.9 1295.7 L332.9 1294.7 L331.9 1295.0 L330.9 1294.4 L329.9 1295.3 L328.9 1294.9 L327.9 1294.6 L326.9 1294.2 L325.9 1295.5 L324.9 1295.3 L323.9 1294.6 L322.9 1294.6 L321.9 1295.3 L320.9 1295.4 L319.9 1294.8 L318.9 1294.2 L317.9 1294.9 L316.9 1294.6 L315.9 1294.9 L314.9 1294.9 L313.9 1295.0 L312.9 1295.0 L311.9 1294.2 L310.9 1294.3 L309.9 1294.6 L308.9 1294.6 L307.9 1295.2 L306.9 1295.4 L305.9 1294.3 L304.9 1294.9 L303.9 1294.5 L302.9 1294.1 L301.9 1295.2 L300.9 1294.4 L299.9 1294.8 L298.9 1295.1 L297.9 1296.4 L296.9 1295.2 L295.9 1294.8 L294.9 1294.4 L293.9 1294.9 L292.9 1294.7 L291.9 1295.0 L290.9 1295.1 L289.9 1294.6 L288.9 1295.2 L287.9 1294.3 L286.9 1295.2 L285.9 1294.5 L284.9 1295.1 L283.9 1295.4 L282.9 1294.7 L281.9 1294.3 L280.9 1294.2 L279.9 1294.6 L278.9 1295.1 L277.9 1294.8 L276.9 1294.8 L275.9 1294.4 L274.9 1294.6 L273.9 1294.3 L272.9 1294.6 L271.9 1294.7 L270.9 1294.2 L269.9 1294.4 L268.9 1295.1 L267.9 1294.3 L266.9 1295.0 L265.9 1295.3 L264.9 1294.1 L263.9 1294.6 L262.9 1295.5 L261.9 1294.7 L260.9 1294.2 L259.9 1295.5 L258.9 1294.8 L257.9 1295.2 L256.9 1295.1 L255.9 1294.6 L254.9 1294.8 L253.9 1294.7 L252.9 1295.0 L251.9 1295.1 L250.9 1294.7 L249.9 1294.7 L248.9 1295.3 L247.9 1295.0 L246.9 1294.9 L245.9 1295.2 L244.9 1294.0 L243.9 1294.9 L242.9 1294.6 L241.9 1295.1 L240.9 1294.3 L239.9 1294.6 L238.9 1294.6 L237.9 1295.3 L236.9 1294.0 L235.9 1294.3 L234.9 1293.8 L233.9 1295.1 L232.9 1294.6 L231.9 1294.7 L230.9 1294.5 L229.9 1294.1 L228.9 1294.4 L227.9 1294.9 L226.9 1294.8 L225.9 1295.5 L224.9 1294.7 L223.9 1295.0 L222.9 1295.0 L221.9 1294.3 L220.9 1294.9 L219.9 1294.6 L218.9 1294.4 L217.9 1295.5 L216.9 1294.5 L215.9 1294.9 L214.9 1294.8 L213.9 1294.5 L212.9 1294.5 L211.9 1294.0 L210.9 1295.0 L209.9 1294.8 L208.9 1295.7 L207.9 1294.9 L206.9 1295.1 L205.9 1295.0 L204.9 1295.3 L203.9 1294.1 L202.9 1294.7 L201.9 1295.5 L200.9 1295.1 L199.9 1294.7 L198.9 1294.5 L197.9 1294.9 L196.9 1294.8 L195.9 1295.0 L194.9 1294.0 L193.9 1294.2 L192.9 1295.1 L191.9 1294.6 L190.9 1295.5 L189.9 1295.1 L188.9 1294.5 L187.9 1295.1 L186.9 1295.0 L185.9 1294.7 L184.9 1294.0 L183.9 1294.9 L182.9 1294.5 L181.9 1294.9 L180.9 1295.2 L179.9 1294.5 L178.9 1293.8 L177.9 1294.6 L176.9 1294.5 L175.9 1294.7 L174.9 1295.5 L173.9 1294.8 L172.9 1295.2 L171.9 1294.9 L170.9 1294.8 L169.9 1294.5 L168.9 1295.2 L167.9 1295.1 L166.9 1293.9 L165.9 1294.7 L164.9 1294.6 L163.9 1295.4 L162.9 1294.1 L161.9 1294.9 L160.9 1294.9 L159.9 1295.7 L158.9 1294.6 L157.9 1295.2 L156.9 1293.9 L155.9 1294.5 L154.9 1294.6 L153.9 1295.5 L152.9 1294.7 L151.9 1295.7 L150.9 1295.4 L149.9 1294.6 L148.9 1294.1 L147.9 1294.9 L146.9 1294.7 L145.9 1294.5 L144.9 1295.2 L143.9 1295.1 L142.9 1294.3 L141.9 1294.2 L140.9 1294.8 L139.9 1295.4 L138.9 1295.1 L137.9 1295.6 L136.9 1294.7 L135.9 1293.8 L134.9 1295.2 L133.9 1295.0 L132.9 1294.6 L131.9 1294.8 L130.9 1294.3 L129.9 1294.4 L128.9 1294.9 L128.0 1294.0 L127.0 1295.1 L126.0 1294.8 L125.0 1294.9 L124.0 1294.9 L123.0 1295.2 L122.0 1294.9 L121.0 1294.5 L120.0 1294.7 L119.0 1294.3 L118.0 1294.2 L117.0 1295.0 L116.0 1294.2 L115.0 1294.5 L114.0 1294.7 L113.0 1294.8 L112.0 1294.7 L111.0 1295.1 L110.0 1294.3 L109.0 1294.8 L108.0 1294.2 L107.0 1295.1 L106.0 1295.1 L105.0 1295.7Z" fill="#b40426" fill-opacity="0.1" clip-path="url(#clipES)"/><path d="M104.95 747.50V1328.90M365.05 747.50V1328.90M625.15 747.50V1328.90M885.25 747.50V1328.90M1145.35 747.50V1328.90M1405.45 747.50V1328.90M104.95 1292.40H1405.45M104.95 1166.40H1405.45M104.95 1040.40H1405.45M104.95 914.40H1405.45M104.95 788.40H1405.45" stroke="#e0e0e0" stroke-width="1.6" fill="none"/><path d="M365.05 1328.90v-8.0M365.05 747.50v8.0M625.15 1328.90v-8.0M625.15 747.50v8.0M885.25 1328.90v-8.0M885.25 747.50v8.0M1145.35 1328.90v-8.0M1145.35 747.50v8.0M104.95 1292.40h8.0M1405.45 1292.40h-8.0M104.95 1166.40h8.0M1405.45 1166.40h-8.0M104.95 1040.40h8.0M1405.45 1040.40h-8.0M104.95 914.40h8.0M1405.45 914.40h-8.0M104.95 788.40h8.0M1405.45 788.40h-8.0" stroke="#000" stroke-width="2.1" fill="none"/><g clip-path="url(#clipES)" fill="none" stroke-linejoin="round"><path d="M105.2 1292.4 L106.6 1289.9 L107.9 1294.9 L109.2 1292.4 L110.5 1289.9 L111.8 1294.9 L113.1 1292.4 L114.4 1289.9 L115.7 1284.8 L117.0 1300.0 L118.3 1294.9 L119.6 1289.9 L120.9 1294.9 L122.2 1294.9 L123.5 1289.9 L124.8 1289.9 L126.1 1292.4 L127.4 1284.8 L128.7 1287.4 L130.0 1294.9 L131.3 1289.9 L132.6 1284.8 L133.9 1294.9 L135.2 1294.9 L136.5 1292.4 L137.8 1292.4 L139.1 1294.9 L140.4 1292.4 L141.7 1292.4 L143.0 1292.4 L144.3 1292.4 L145.6 1289.9 L146.9 1297.4 L148.2 1289.9 L149.5 1292.4 L150.8 1292.4 L152.1 1300.0 L153.4 1287.4 L154.7 1297.4 L156.0 1292.4 L157.3 1289.9 L158.6 1294.9 L159.9 1292.4 L161.2 1297.4 L162.5 1292.4 L163.8 1292.4 L165.1 1289.9 L166.4 1289.9 L167.7 1292.4 L169.0 1289.9 L170.3 1294.9 L171.6 1294.9 L172.9 1287.4 L174.2 1294.9 L175.5 1289.9 L176.8 1292.4 L178.1 1287.4 L179.4 1294.9 L180.7 1289.9 L182.0 1292.4 L183.3 1292.4 L184.6 1292.4 L185.9 1294.9 L187.2 1292.4 L188.5 1292.4 L189.8 1289.9 L191.1 1292.4 L192.4 1294.9 L193.7 1292.4 L195.0 1292.4 L196.3 1294.9 L197.6 1289.9 L198.9 1292.4 L200.2 1289.9 L201.5 1294.9 L202.8 1292.4 L204.1 1289.9 L205.4 1292.4 L206.7 1292.4 L208.0 1287.4 L209.3 1292.4 L210.6 1292.4 L211.9 1300.0 L213.2 1292.4 L214.5 1294.9 L215.8 1294.9 L217.1 1287.4 L218.4 1294.9 L219.7 1297.4 L221.0 1289.9 L222.3 1294.9 L223.6 1302.5 L224.9 1292.4 L226.2 1289.9 L227.5 1292.4 L228.8 1287.4 L230.1 1292.4 L231.4 1289.9 L232.6 1289.0 L235.0 1250.0 L237.9 1212.1 L239.5 1216.0 L241.1 1223.7 L243.0 1245.0 L245.3 1265.8 L248.4 1270.0 L250.0 1276.0 L251.6 1280.5 L253.5 1281.0 L255.8 1285.8 L256.8 1289.0 L257.4 1289.9 L258.7 1289.9 L260.0 1297.4 L261.3 1292.4 L262.6 1302.5 L263.9 1287.4 L265.2 1292.4 L266.5 1292.4 L267.8 1289.9 L269.1 1289.9 L270.4 1294.9 L271.7 1287.4 L273.0 1292.4 L274.3 1297.4 L275.6 1287.4 L276.9 1287.4 L278.2 1289.9 L279.5 1289.9 L280.8 1294.9 L282.1 1284.8 L283.4 1287.4 L284.7 1289.9 L286.0 1287.4 L287.3 1294.9 L288.6 1289.9 L289.9 1289.9 L291.2 1297.4 L292.5 1292.4 L293.8 1294.9 L295.1 1292.4 L296.4 1289.9 L297.7 1292.4 L299.0 1292.4 L300.3 1292.4 L301.6 1292.4 L302.9 1289.9 L304.2 1289.9 L305.5 1292.4 L306.8 1292.4 L308.1 1292.4 L309.4 1289.9 L310.7 1292.4 L312.0 1287.4 L313.3 1292.4 L314.6 1292.4 L315.9 1294.9 L317.2 1292.4 L318.5 1292.4 L319.8 1292.4 L321.1 1294.9 L322.4 1294.9 L323.7 1292.4 L325.0 1287.4 L326.3 1289.9 L327.6 1289.9 L328.9 1292.4 L330.2 1297.4 L331.5 1292.4 L332.8 1297.4 L334.1 1294.9 L335.4 1289.9 L336.7 1289.9 L338.0 1294.9 L339.3 1294.9 L340.6 1292.4 L341.9 1297.4 L343.2 1289.9 L344.5 1292.4 L345.8 1287.4 L347.1 1294.9 L348.4 1289.9 L349.7 1294.9 L351.0 1292.4 L352.3 1294.9 L353.6 1289.9 L354.9 1292.4 L356.2 1294.9 L357.5 1292.4 L358.8 1289.9 L360.1 1289.9 L361.4 1287.4 L362.7 1294.9 L364.0 1300.0 L365.3 1292.4 L366.7 1297.4 L368.0 1292.4 L369.3 1289.9 L370.6 1294.9 L371.9 1294.9 L373.2 1292.4 L374.5 1292.4 L375.8 1287.4 L377.1 1297.4 L378.4 1289.9 L379.7 1287.4 L381.0 1292.4 L382.3 1292.4 L383.6 1294.9 L384.9 1292.4 L386.2 1289.9 L387.5 1287.4 L388.8 1292.4 L390.1 1294.9 L391.4 1294.9 L392.7 1294.9 L394.0 1292.4 L395.3 1287.4 L396.6 1300.0 L397.9 1297.4 L399.2 1287.4 L400.5 1292.4 L401.8 1292.4 L403.1 1294.9 L404.4 1287.4 L405.7 1289.9 L407.0 1292.4 L408.3 1289.9 L409.0 1291.0 L411.0 1240.0 L413.0 1150.0 L415.0 1070.0 L416.5 1040.0 L417.6 1030.4 L418.8 1050.0 L420.9 1152.0 L422.5 1190.0 L424.1 1217.4 L426.0 1240.0 L428.5 1256.5 L430.5 1268.0 L432.8 1276.0 L435.0 1280.0 L437.2 1282.6 L440.0 1286.0 L443.0 1284.0 L446.0 1290.0 L447.3 1297.4 L448.6 1292.4 L449.9 1289.9 L451.2 1289.9 L452.5 1289.9 L453.8 1294.9 L455.1 1294.9 L456.4 1289.9 L457.7 1292.4 L459.0 1287.4 L460.3 1292.4 L461.6 1292.4 L462.9 1289.9 L464.2 1292.4 L465.5 1292.4 L466.8 1294.9 L468.1 1292.4 L469.4 1292.4 L470.7 1292.4 L472.0 1294.9 L473.3 1297.4 L474.6 1289.9 L475.9 1292.4 L477.2 1294.9 L478.5 1292.4 L479.8 1294.9 L481.1 1287.4 L482.4 1297.4 L483.7 1287.4 L485.0 1294.9 L486.3 1289.9 L487.6 1292.4 L488.9 1292.4 L490.2 1289.9 L491.5 1289.9 L492.8 1292.4 L494.1 1289.9 L495.4 1287.4 L496.7 1287.4 L498.0 1292.4 L499.3 1292.4 L500.6 1292.4 L501.9 1292.4 L503.2 1284.8 L504.5 1294.9 L505.8 1292.4 L507.1 1294.9 L508.4 1287.4 L509.0 1289.0 L510.5 1279.0 L512.0 1281.0 L513.5 1289.0 L513.6 1287.4 L514.9 1292.4 L516.2 1294.9 L517.5 1287.4 L518.8 1289.9 L520.1 1292.4 L521.4 1287.4 L522.7 1292.4 L524.0 1297.4 L525.3 1292.4 L526.6 1292.4 L527.9 1287.4 L529.2 1292.4 L530.5 1292.4 L531.8 1289.9 L533.1 1292.4 L534.4 1294.9 L535.7 1292.4 L537.0 1292.4 L538.3 1287.4 L539.6 1284.8 L540.9 1294.9 L542.2 1294.9 L543.5 1294.9 L544.8 1294.9 L546.1 1294.9 L547.4 1292.4 L548.7 1289.9 L550.0 1294.9 L551.3 1297.4 L552.6 1297.4 L553.9 1289.9 L555.2 1287.4 L556.5 1297.4 L557.8 1297.4 L559.1 1292.4 L560.4 1289.9 L561.7 1289.9 L563.0 1292.4 L564.3 1289.9 L565.6 1292.4 L566.9 1294.9 L568.2 1287.4 L569.5 1292.4 L570.8 1294.9 L572.1 1292.4 L572.2 1287.4 L575.0 1270.0 L577.3 1261.1 L580.0 1271.6 L582.5 1266.3 L585.3 1275.8 L588.4 1285.3 L589.9 1287.4 L590.3 1292.4 L591.6 1289.9 L592.9 1294.9 L594.2 1287.4 L595.5 1289.9 L596.8 1289.9 L598.1 1294.9 L599.4 1287.4 L600.7 1292.4 L602.0 1287.4 L603.3 1289.9 L604.6 1294.9 L605.9 1292.4 L607.2 1287.4 L608.5 1289.9 L609.8 1292.4 L611.1 1292.4 L612.4 1292.4 L613.7 1294.9 L615.0 1292.4 L616.3 1294.9 L617.6 1292.4 L618.9 1289.9 L620.2 1294.9 L621.5 1289.9 L622.8 1292.4 L624.1 1289.9 L625.4 1289.9 L626.8 1289.9 L628.1 1289.9 L629.4 1289.9 L630.7 1292.4 L632.0 1289.9 L633.3 1294.9 L634.6 1292.4 L635.9 1284.8 L637.2 1292.4 L638.5 1289.9 L639.8 1294.9 L641.1 1287.4 L642.4 1294.9 L643.7 1289.9 L645.0 1292.4 L646.3 1289.9 L647.6 1292.4 L648.9 1289.9 L650.2 1297.4 L651.5 1292.4 L652.8 1294.9 L654.1 1289.9 L655.4 1287.4 L656.7 1297.4 L658.0 1294.9 L659.3 1292.4 L660.6 1289.9 L661.9 1292.4 L663.2 1292.4 L664.5 1289.9 L665.8 1289.9 L667.1 1287.4 L668.4 1289.9 L669.7 1294.9 L671.0 1292.4 L672.3 1292.4 L673.6 1294.9 L674.9 1292.4 L676.2 1292.4 L677.5 1294.9 L678.8 1289.9 L680.1 1289.9 L681.4 1294.9 L682.7 1294.9 L684.0 1292.4 L685.3 1282.3 L686.6 1292.4 L687.9 1287.4 L689.2 1289.9 L690.5 1297.4 L691.8 1289.9 L693.1 1294.9 L694.4 1294.9 L695.7 1294.9 L697.0 1287.4 L698.3 1297.4 L699.6 1294.9 L700.9 1289.9 L702.2 1289.9 L703.5 1297.4 L704.8 1292.4 L706.1 1292.4 L707.4 1292.4 L708.7 1289.9 L710.0 1294.9 L711.3 1292.4 L712.6 1287.4 L713.9 1297.4 L715.2 1292.4 L716.5 1289.9 L717.8 1294.9 L719.1 1294.9 L720.4 1294.9 L721.7 1292.4 L723.0 1294.9 L724.3 1289.9 L725.6 1289.9 L726.9 1292.4 L728.2 1292.4 L729.5 1292.4 L730.8 1292.4 L732.1 1294.9 L733.4 1289.9 L734.7 1287.4 L736.0 1289.9 L737.3 1294.9 L738.6 1292.4 L739.9 1287.4 L741.2 1289.9 L742.5 1297.4 L743.8 1292.4 L745.1 1292.4 L746.4 1292.4 L747.7 1292.4 L749.0 1289.9 L750.3 1292.4 L751.6 1292.4 L752.9 1297.4 L754.2 1292.4 L755.5 1289.9 L756.8 1292.4 L758.1 1289.9 L759.4 1294.9 L760.7 1292.4 L762.0 1292.4 L763.3 1289.9 L764.6 1294.9 L765.9 1289.9 L767.2 1297.4 L768.5 1292.4 L769.8 1289.9 L771.1 1289.9 L772.4 1294.9 L773.7 1294.9 L775.0 1289.9 L776.3 1294.9 L777.6 1289.9 L778.9 1292.4 L780.2 1292.4 L781.5 1284.8 L782.8 1292.4 L784.1 1289.9 L785.4 1294.9 L786.7 1292.4 L788.0 1292.4 L789.3 1292.4 L790.6 1287.4 L791.9 1297.4 L793.2 1292.4 L794.5 1292.4 L795.8 1294.9 L797.1 1287.4 L798.4 1294.9 L799.7 1292.4 L801.0 1292.4 L802.3 1297.4 L803.6 1297.4 L804.9 1294.9 L806.2 1289.9 L807.5 1289.9 L808.8 1289.9 L810.1 1292.4 L811.4 1297.4 L812.7 1292.4 L814.0 1300.0 L815.3 1289.9 L816.6 1287.4 L817.9 1284.8 L819.2 1289.9 L820.5 1289.9 L821.8 1294.9 L823.1 1292.4 L824.4 1294.9 L825.7 1289.9 L827.0 1294.9 L828.3 1292.4 L829.6 1294.9 L830.9 1292.4 L832.2 1289.9 L833.5 1294.9 L834.8 1292.4 L836.1 1294.9 L837.4 1287.4 L838.7 1294.9 L840.0 1289.9 L841.3 1287.4 L842.6 1300.0 L843.9 1294.9 L845.2 1292.4 L846.5 1284.8 L847.8 1292.4 L849.1 1289.9 L850.4 1294.9 L851.7 1289.9 L853.0 1294.9 L854.3 1289.9 L855.6 1300.0 L856.9 1297.4 L858.2 1287.4 L859.5 1292.4 L860.8 1294.9 L862.1 1284.8 L863.4 1289.9 L864.7 1289.9 L866.0 1292.4 L867.3 1294.9 L868.6 1289.9 L869.9 1297.4 L871.2 1289.9 L872.5 1292.4 L873.8 1287.4 L875.1 1287.4 L876.4 1297.4 L877.7 1294.9 L879.0 1292.4 L879.9 1288.4 L882.0 1260.0 L884.1 1237.9 L886.8 1243.2 L890.0 1262.1 L893.2 1274.7 L896.3 1281.1 L898.4 1280.0 L900.5 1287.4 L902.6 1289.5 L903.8 1287.4 L905.1 1289.9 L906.4 1292.4 L907.7 1292.4 L909.0 1289.9 L910.3 1294.9 L911.6 1292.4 L912.9 1292.4 L914.2 1284.8 L915.5 1294.9 L916.8 1297.4 L918.1 1289.9 L919.4 1284.8 L920.7 1294.9 L922.0 1282.3 L923.3 1292.4 L924.6 1289.9 L925.9 1294.9 L927.2 1292.4 L928.5 1294.9 L929.8 1294.9 L931.1 1297.4 L932.4 1289.9 L933.7 1294.9 L935.0 1292.4 L936.3 1292.4 L937.6 1294.9 L938.9 1292.4 L940.2 1292.4 L941.5 1292.4 L942.8 1292.4 L944.1 1292.4 L945.4 1294.9 L946.7 1294.9 L948.0 1294.9 L949.3 1292.4 L950.6 1287.4 L951.9 1287.4 L953.2 1292.4 L954.5 1289.9 L955.8 1292.4 L957.1 1289.9 L958.4 1292.4 L959.7 1289.9 L961.0 1292.4 L962.3 1292.4 L963.6 1287.4 L964.9 1292.4 L966.2 1292.4 L967.5 1294.9 L968.8 1289.9 L970.1 1287.4 L971.4 1292.4 L972.7 1300.0 L974.0 1289.9 L975.3 1289.9 L976.6 1297.4 L977.9 1292.4 L979.2 1292.4 L980.5 1300.0 L981.8 1289.9 L983.1 1289.9 L984.4 1292.4 L985.7 1294.9 L987.0 1294.9 L988.3 1294.9 L989.6 1289.9 L990.9 1294.9 L992.2 1287.4 L993.5 1292.4 L994.8 1297.4 L996.1 1287.4 L997.4 1292.4 L998.7 1289.9 L1000.0 1292.4 L1001.3 1297.4 L1002.6 1292.4 L1003.9 1300.0 L1005.2 1294.9 L1006.5 1287.4 L1007.8 1289.9 L1009.1 1300.0 L1010.4 1294.9 L1011.7 1289.9 L1013.0 1292.4 L1014.3 1292.4 L1015.6 1289.9 L1016.9 1294.9 L1018.2 1289.9 L1019.5 1297.4 L1020.8 1287.4 L1022.1 1297.4 L1023.4 1294.9 L1024.7 1294.9 L1026.0 1289.9 L1027.3 1289.9 L1028.6 1292.4 L1029.9 1287.4 L1031.2 1289.9 L1032.5 1292.4 L1033.8 1305.0 L1035.1 1300.0 L1036.4 1300.0 L1037.7 1287.4 L1039.0 1292.4 L1040.3 1292.4 L1041.6 1292.4 L1042.9 1292.4 L1044.2 1294.9 L1045.5 1297.4 L1046.8 1297.4 L1048.1 1289.9 L1049.4 1289.9 L1050.7 1297.4 L1052.0 1292.4 L1053.3 1289.9 L1054.6 1287.4 L1055.9 1294.9 L1057.2 1292.4 L1058.5 1289.9 L1059.8 1297.4 L1061.1 1294.9 L1062.4 1297.4 L1063.7 1294.9 L1065.0 1287.4 L1066.3 1289.9 L1067.6 1292.4 L1068.9 1292.4 L1070.2 1289.9 L1071.5 1289.9 L1072.8 1294.9 L1074.1 1292.4 L1075.4 1297.4 L1076.7 1292.4 L1078.0 1289.9 L1079.3 1289.9 L1080.6 1289.9 L1081.9 1294.9 L1083.2 1294.9 L1084.5 1294.9 L1085.8 1289.9 L1087.1 1289.9 L1088.4 1294.9 L1089.7 1289.9 L1091.0 1289.9 L1092.3 1289.9 L1093.6 1292.4 L1094.9 1294.9 L1096.2 1292.4 L1097.5 1287.4 L1098.8 1294.9 L1100.1 1294.9 L1101.4 1292.4 L1102.7 1294.9 L1104.0 1292.4 L1105.3 1292.4 L1106.6 1289.9 L1107.9 1292.4 L1109.2 1294.9 L1109.8 1289.1 L1111.0 1275.0 L1112.6 1263.9 L1114.0 1266.0 L1116.0 1269.5 L1116.8 1279.3 L1120.5 1279.3 L1122.5 1282.1 L1124.5 1285.0 L1126.7 1287.7 L1127.4 1294.9 L1128.7 1294.9 L1130.0 1289.9 L1131.3 1294.9 L1132.6 1292.4 L1133.9 1289.9 L1135.2 1289.9 L1136.5 1292.4 L1137.8 1294.9 L1139.1 1284.8 L1140.4 1292.4 L1141.7 1294.9 L1143.0 1287.4 L1144.3 1289.9 L1145.6 1294.9 L1147.0 1294.9 L1148.3 1292.4 L1149.6 1294.9 L1150.9 1297.4 L1152.2 1289.9 L1153.5 1289.9 L1154.8 1292.4 L1156.1 1292.4 L1157.4 1292.4 L1158.7 1289.9 L1160.0 1294.9 L1161.3 1292.4 L1162.6 1294.9 L1163.9 1289.9 L1165.2 1292.4 L1166.5 1294.9 L1167.8 1294.9 L1169.1 1287.4 L1170.4 1294.9 L1171.7 1292.4 L1173.0 1294.9 L1174.3 1289.9 L1175.6 1292.4 L1176.9 1292.4 L1178.2 1294.9 L1179.5 1292.4 L1180.8 1289.9 L1182.1 1289.9 L1183.4 1294.9 L1184.7 1287.4 L1186.0 1292.4 L1187.3 1294.9 L1188.6 1292.4 L1189.9 1294.9 L1191.2 1294.9 L1192.5 1294.9 L1193.8 1292.4 L1195.1 1294.9 L1196.4 1297.4 L1197.7 1289.9 L1199.0 1294.9 L1200.3 1289.9 L1201.6 1289.9 L1202.9 1289.9 L1204.2 1292.4 L1205.5 1289.9 L1206.8 1292.4 L1208.1 1294.9 L1209.4 1292.4 L1210.7 1294.9 L1212.0 1292.4 L1213.3 1292.4 L1214.6 1292.4 L1215.9 1289.9 L1217.2 1289.9 L1218.5 1292.4 L1219.8 1292.4 L1221.1 1289.9 L1222.4 1294.9 L1223.7 1292.4 L1225.0 1289.9 L1226.3 1289.9 L1227.6 1287.4 L1228.9 1292.4 L1230.2 1297.4 L1231.5 1289.9 L1232.8 1289.9 L1234.1 1292.4 L1235.4 1287.4 L1236.7 1287.4 L1238.0 1294.9 L1239.3 1294.9 L1240.6 1294.9 L1241.9 1289.9 L1243.2 1289.9 L1244.5 1289.9 L1245.8 1302.5 L1247.1 1294.9 L1248.4 1297.4 L1249.7 1297.4 L1251.0 1297.4 L1252.3 1297.4 L1253.6 1292.4 L1254.9 1292.4 L1256.2 1289.9 L1257.5 1289.9 L1258.8 1294.9 L1260.1 1292.4 L1261.4 1289.9 L1262.7 1292.4 L1264.0 1292.4 L1265.3 1289.9 L1266.6 1294.9 L1267.9 1292.4 L1269.2 1294.9 L1270.5 1284.8 L1271.8 1297.4 L1273.1 1289.9 L1274.4 1297.4 L1275.7 1287.4 L1277.0 1289.9 L1278.3 1294.9 L1279.6 1294.9 L1280.9 1294.9 L1282.2 1292.4 L1283.5 1292.4 L1284.8 1284.8 L1286.1 1297.4 L1287.4 1289.9 L1288.7 1294.9 L1290.0 1292.4 L1291.3 1289.9 L1292.6 1289.9 L1293.9 1292.4 L1295.2 1292.4 L1296.5 1292.4 L1297.8 1292.4 L1299.1 1289.9 L1300.4 1297.4 L1301.7 1294.9 L1303.0 1292.4 L1304.3 1294.9 L1305.6 1294.9 L1306.9 1289.9 L1308.2 1287.4 L1309.5 1287.4 L1310.8 1294.9 L1312.1 1289.9 L1313.4 1294.9 L1314.7 1289.9 L1316.0 1289.9 L1317.3 1289.9 L1318.6 1289.9 L1319.9 1292.4 L1321.2 1297.4 L1322.5 1297.4 L1323.8 1292.4 L1325.1 1289.9 L1326.4 1284.8 L1327.7 1292.4 L1329.0 1292.4 L1330.3 1294.9 L1331.6 1289.9 L1332.9 1292.4 L1334.2 1294.9 L1335.5 1289.9 L1336.8 1292.4 L1338.1 1292.4 L1339.4 1294.9 L1340.7 1292.4 L1342.0 1297.4 L1343.3 1297.4 L1344.6 1292.4 L1345.9 1292.4 L1347.2 1289.9 L1348.5 1287.4 L1349.8 1292.4 L1351.1 1287.4 L1352.4 1294.9 L1353.7 1289.9 L1355.0 1292.4 L1356.3 1292.4 L1357.6 1292.4 L1358.9 1292.4 L1360.2 1289.9 L1361.5 1297.4 L1362.8 1292.4 L1364.1 1294.9 L1365.4 1292.4 L1366.7 1292.4 L1368.0 1292.4 L1369.3 1292.4 L1370.6 1294.9 L1371.9 1289.9 L1373.2 1294.9 L1374.5 1289.9 L1375.8 1302.5 L1377.1 1287.4 L1378.4 1294.9 L1379.7 1294.9 L1381.0 1294.9 L1382.3 1289.9 L1383.6 1292.4 L1384.9 1289.9 L1386.2 1292.4 L1387.5 1289.9 L1388.8 1289.9 L1390.1 1292.4 L1391.4 1287.4 L1392.7 1294.9 L1394.0 1292.4 L1395.3 1292.4 L1396.6 1297.4 L1397.9 1287.4 L1399.2 1292.4 L1400.5 1287.4 L1401.8 1294.9 L1403.1 1292.4 L1404.4 1292.4" stroke="#b40426" stroke-opacity="0.5" stroke-width="1.3"/><path d="M105.0 1291.89 L105.7 1291.93 L106.4 1292.00 L107.1 1292.12 L107.8 1291.72 L108.5 1291.87 L109.2 1291.42 L109.9 1291.23 L110.6 1291.32 L111.3 1292.36 L112.0 1291.35 L112.7 1292.04 L113.4 1292.34 L114.1 1291.76 L114.8 1292.39 L115.5 1292.45 L116.2 1292.18 L116.9 1292.61 L117.6 1292.09 L118.3 1291.68 L119.0 1292.06 L119.7 1291.77 L120.4 1291.51 L121.1 1291.52 L121.8 1292.59 L122.5 1291.74 L123.2 1291.89 L123.9 1291.70 L124.6 1291.94 L125.3 1291.83 L126.0 1291.78 L126.7 1291.54 L127.4 1291.48 L128.1 1291.68 L128.8 1291.99 L129.5 1292.53 L130.2 1292.22 L130.9 1292.45 L131.6 1292.05 L132.3 1291.88 L133.0 1291.51 L133.7 1291.90 L134.4 1291.26 L135.1 1291.81 L135.8 1292.39 L136.5 1292.00 L137.2 1292.24 L137.9 1291.79 L138.6 1291.49 L139.3 1291.76 L140.0 1291.79 L140.7 1292.27 L141.4 1292.50 L142.1 1291.68 L142.8 1291.80 L143.5 1291.86 L144.2 1291.80 L144.9 1291.53 L145.6 1291.93 L146.3 1292.01 L147.0 1292.02 L147.7 1291.54 L148.4 1291.87 L149.1 1291.38 L149.8 1292.18 L150.5 1291.60 L151.2 1291.82 L151.9 1291.77 L152.6 1291.73 L153.3 1291.59 L154.0 1291.37 L154.7 1292.42 L155.4 1291.98 L156.1 1291.98 L156.8 1292.53 L157.5 1291.87 L158.2 1292.07 L158.9 1291.91 L159.6 1292.26 L160.3 1292.05 L161.0 1292.00 L161.7 1291.83 L162.4 1291.99 L163.1 1292.25 L163.8 1291.28 L164.5 1291.87 L165.2 1291.78 L165.9 1291.81 L166.6 1291.31 L167.3 1292.12 L168.0 1291.65 L168.7 1291.84 L169.4 1291.75 L170.1 1291.40 L170.8 1291.77 L171.5 1291.35 L172.2 1291.62 L172.9 1291.81 L173.6 1291.90 L174.3 1291.92 L175.0 1291.86 L175.7 1292.54 L176.4 1292.03 L177.1 1291.53 L177.8 1291.72 L178.5 1291.70 L179.2 1291.85 L179.9 1291.72 L180.6 1291.64 L181.3 1292.39 L182.0 1291.91 L182.7 1291.80 L183.4 1291.82 L184.1 1291.83 L184.8 1292.32 L185.5 1292.04 L186.2 1292.24 L186.9 1290.96 L187.6 1292.00 L188.3 1292.22 L189.0 1292.49 L189.7 1291.91 L190.4 1291.38 L191.1 1292.07 L191.8 1291.72 L192.5 1291.36 L193.2 1291.71 L193.9 1292.21 L194.6 1292.26 L195.3 1292.11 L196.0 1291.58 L196.7 1292.65 L197.4 1291.54 L198.1 1291.87 L198.8 1291.46 L199.5 1292.29 L200.2 1292.03 L200.9 1292.16 L201.6 1291.92 L202.3 1291.87 L203.0 1291.94 L203.7 1291.33 L204.4 1292.19 L205.1 1292.17 L205.8 1291.77 L206.5 1291.89 L207.2 1291.98 L207.9 1292.36 L208.6 1292.02 L209.3 1291.90 L210.0 1291.74 L210.7 1291.44 L211.4 1291.71 L212.1 1291.91 L212.8 1291.81 L213.5 1291.91 L214.2 1292.11 L214.9 1292.02 L215.6 1291.97 L216.3 1292.08 L217.0 1291.94 L217.7 1291.88 L218.4 1292.03 L219.1 1291.37 L219.8 1292.26 L220.5 1291.50 L221.2 1292.14 L221.9 1291.89 L222.6 1292.22 L223.3 1291.89 L224.0 1291.60 L224.7 1292.20 L225.4 1291.94 L226.1 1291.92 L226.8 1291.91 L227.5 1292.18 L228.2 1292.13 L228.9 1291.95 L229.6 1291.41 L230.3 1291.76 L231.0 1291.91 L231.7 1292.42 L232.4 1291.99 L233.1 1291.85 L233.8 1292.24 L234.5 1291.84 L235.2 1291.87 L235.9 1291.92 L236.6 1291.43 L237.3 1292.16 L238.0 1292.00 L238.7 1291.79 L239.4 1291.53 L240.1 1291.94 L240.8 1292.29 L241.5 1291.68 L242.2 1291.55 L242.9 1292.00 L243.6 1291.39 L244.3 1291.20 L245.0 1291.73 L245.7 1291.66 L246.4 1291.78 L247.1 1291.70 L247.8 1291.97 L248.5 1291.80 L249.2 1291.68 L249.9 1291.73 L250.6 1292.05 L251.3 1292.15 L252.0 1292.13 L252.7 1292.07 L253.4 1290.87 L254.1 1291.56 L254.8 1291.77 L255.5 1291.92 L256.2 1291.37 L256.9 1292.28 L257.6 1291.95 L258.3 1291.67 L259.0 1291.90 L259.7 1291.75 L260.4 1291.63 L261.1 1292.01 L261.8 1291.72 L262.5 1291.43 L263.2 1291.66 L263.9 1291.82 L264.6 1291.53 L265.3 1292.23 L266.0 1291.52 L266.7 1292.37 L267.4 1292.12 L268.1 1291.56 L268.8 1291.88 L269.5 1292.20 L270.2 1291.79 L270.9 1291.49 L271.6 1291.88 L272.3 1292.44 L273.0 1291.39 L273.7 1292.01 L274.4 1291.84 L275.1 1291.80 L275.8 1291.72 L276.5 1291.74 L277.2 1292.15 L277.9 1292.01 L278.6 1291.54 L279.3 1292.30 L280.0 1291.44 L280.7 1292.03 L281.4 1291.89 L282.1 1292.19 L282.8 1291.94 L283.5 1292.15 L284.2 1291.82 L284.9 1292.12 L285.6 1291.93 L286.3 1292.47 L287.0 1291.62 L287.7 1292.18 L288.4 1291.96 L289.1 1291.87 L289.8 1291.65 L290.5 1291.95 L291.2 1291.38 L291.9 1291.41 L292.6 1292.03 L293.3 1291.35 L294.0 1292.25 L294.7 1291.73 L295.4 1291.89 L296.1 1291.83 L296.8 1291.94 L297.5 1291.73 L298.2 1291.70 L298.9 1291.77 L299.6 1292.12 L300.3 1292.14 L301.0 1292.19 L301.7 1291.91 L302.4 1291.74 L303.1 1291.30 L303.8 1291.99 L304.5 1292.05 L305.2 1291.68 L305.9 1292.04 L306.6 1292.18 L307.3 1291.82 L308.0 1292.11 L308.7 1291.88 L309.4 1291.27 L310.1 1291.65 L310.8 1291.66 L311.5 1291.94 L312.2 1291.53 L312.9 1291.65 L313.6 1291.49 L314.3 1291.77 L315.0 1291.80 L315.7 1292.07 L316.4 1292.02 L317.1 1291.83 L317.8 1291.85 L318.5 1291.81 L319.2 1291.81 L319.9 1292.23 L320.6 1291.02 L321.3 1291.72 L322.0 1291.86 L322.7 1292.10 L323.4 1291.44 L324.1 1291.87 L324.8 1292.02 L325.5 1291.63 L326.2 1291.19 L326.9 1291.65 L327.6 1291.40 L328.3 1291.95 L329.0 1291.50 L329.7 1292.29 L330.4 1291.79 L331.1 1291.51 L331.8 1291.60 L332.5 1291.42 L333.2 1291.86 L333.9 1292.19 L334.6 1291.68 L335.3 1292.02 L336.0 1291.45 L336.7 1291.83 L337.4 1292.43 L338.1 1291.31 L338.8 1292.10 L339.5 1292.08 L340.2 1291.16 L340.9 1291.30 L341.6 1291.43 L342.3 1292.01 L343.0 1291.59 L343.7 1291.67 L344.4 1291.93 L345.1 1291.75 L345.8 1291.78 L346.5 1291.62 L347.2 1292.05 L347.9 1291.48 L348.6 1292.21 L349.3 1291.61 L350.0 1291.47 L350.7 1291.90 L351.4 1291.84 L352.1 1291.11 L352.8 1291.76 L353.5 1291.29 L354.2 1291.45 L354.9 1291.93 L355.6 1291.43 L356.3 1291.79 L357.0 1291.57 L357.7 1292.26 L358.4 1291.65 L359.1 1291.33 L359.8 1291.35 L360.5 1291.41 L361.2 1291.71 L361.9 1291.67 L362.6 1291.96 L363.3 1291.72 L364.0 1291.71 L364.7 1291.76 L365.4 1291.62 L366.1 1291.75 L366.8 1291.89 L367.5 1291.89 L368.2 1291.49 L368.9 1291.12 L369.6 1291.41 L370.3 1291.73 L371.0 1290.90 L371.7 1291.50 L372.4 1291.78 L373.1 1291.47 L373.8 1291.30 L374.5 1292.16 L375.2 1292.05 L375.9 1291.55 L376.6 1292.03 L377.3 1292.02 L378.0 1291.29 L378.7 1292.43 L379.4 1291.34 L380.1 1291.54 L380.8 1291.28 L381.5 1291.62 L382.2 1291.19 L382.9 1291.56 L383.6 1291.87 L384.3 1291.58 L385.0 1291.40 L385.7 1291.91 L386.4 1291.14 L387.1 1291.66 L387.8 1291.23 L388.5 1291.34 L389.2 1291.24 L389.9 1291.22 L390.6 1291.11 L391.3 1290.84 L392.0 1290.85 L392.7 1291.09 L393.4 1290.86 L394.1 1290.46 L394.8 1290.51 L395.5 1290.42 L396.2 1290.50 L396.9 1290.46 L397.6 1290.32 L398.3 1289.97 L399.0 1290.05 L399.7 1289.48 L400.4 1289.70 L401.1 1289.48 L401.8 1289.21 L402.5 1288.86 L403.2 1288.40 L403.9 1287.81 L404.6 1287.06 L405.3 1285.46 L406.0 1283.79 L406.7 1282.18 L407.4 1277.19 L408.1 1267.45 L408.8 1249.37 L409.5 1226.29 L410.2 1199.10 L410.9 1170.02 L411.6 1142.93 L412.3 1117.48 L413.0 1092.53 L413.7 1068.20 L414.4 1045.59 L415.1 1025.78 L415.8 1010.90 L416.5 997.14 L417.2 993.21 L417.9 995.31 L418.6 1003.38 L419.3 1012.80 L420.0 1024.94 L420.7 1041.79 L421.4 1061.09 L422.1 1081.02 L422.8 1101.77 L423.5 1120.75 L424.2 1138.98 L424.9 1155.62 L425.6 1169.84 L426.3 1182.48 L427.0 1193.65 L427.7 1203.24 L428.4 1211.41 L429.1 1218.47 L429.8 1224.61 L430.5 1230.11 L431.2 1235.42 L431.9 1240.70 L432.6 1245.70 L433.3 1250.11 L434.0 1253.69 L434.7 1256.79 L435.4 1259.56 L436.1 1262.00 L436.8 1264.12 L437.5 1265.96 L438.2 1267.66 L438.9 1269.21 L439.6 1270.62 L440.3 1271.89 L441.0 1273.02 L441.7 1274.00 L442.4 1274.89 L443.1 1275.71 L443.8 1276.47 L444.5 1277.17 L445.2 1277.81 L445.9 1278.40 L446.6 1278.94 L447.3 1279.43 L448.0 1279.90 L448.7 1280.35 L449.4 1280.77 L450.1 1281.18 L450.8 1281.55 L451.5 1281.89 L452.2 1282.20 L452.9 1282.47 L453.6 1282.70 L454.3 1282.89 L455.0 1283.06 L455.7 1283.22 L456.4 1283.37 L457.1 1283.52 L457.8 1283.65 L458.5 1283.77 L459.2 1283.89 L459.9 1284.00 L460.6 1284.11 L461.3 1284.21 L462.0 1284.31 L462.7 1284.40 L463.4 1284.49 L464.1 1284.58 L464.8 1284.67 L465.5 1284.76 L466.2 1284.84 L466.9 1284.93 L467.6 1285.02 L468.3 1285.11 L469.0 1285.20 L469.7 1285.29 L470.4 1284.52 L471.1 1285.45 L471.8 1285.06 L472.5 1285.36 L473.2 1285.36 L473.9 1285.99 L474.6 1285.52 L475.3 1286.05 L476.0 1285.90 L476.7 1285.75 L477.4 1285.73 L478.1 1286.41 L478.8 1286.46 L479.5 1286.65 L480.2 1287.04 L480.9 1286.64 L481.6 1286.71 L482.3 1286.66 L483.0 1286.79 L483.7 1286.72 L484.4 1286.62 L485.1 1287.54 L485.8 1286.45 L486.5 1287.14 L487.2 1287.25 L487.9 1287.21 L488.6 1286.93 L489.3 1287.21 L490.0 1287.18 L490.7 1287.04 L491.4 1287.39 L492.1 1287.32 L492.8 1287.32 L493.5 1287.74 L494.2 1287.25 L494.9 1287.74 L495.6 1287.47 L496.3 1287.82 L497.0 1287.75 L497.7 1287.83 L498.4 1287.50 L499.1 1287.60 L499.8 1287.61 L500.5 1287.95 L501.2 1288.16 L501.9 1288.29 L502.6 1287.85 L503.3 1288.05 L504.0 1287.58 L504.7 1287.43 L505.4 1287.86 L506.1 1287.95 L506.8 1287.71 L507.5 1287.67 L508.2 1288.40 L508.9 1288.02 L509.6 1287.79 L510.3 1289.01 L511.0 1288.40 L511.7 1288.28 L512.4 1288.60 L513.1 1288.20 L513.8 1288.92 L514.5 1288.01 L515.2 1288.11 L515.9 1288.48 L516.6 1288.32 L517.3 1289.00 L518.0 1288.12 L518.7 1288.40 L519.4 1288.72 L520.1 1288.84 L520.8 1288.99 L521.5 1288.82 L522.2 1289.40 L522.9 1288.62 L523.6 1288.83 L524.3 1289.06 L525.0 1288.73 L525.7 1288.76 L526.4 1288.73 L527.1 1288.70 L527.8 1288.57 L528.5 1288.77 L529.2 1288.49 L529.9 1289.09 L530.6 1288.52 L531.3 1289.63 L532.0 1289.54 L532.7 1289.38 L533.4 1289.01 L534.1 1288.92 L534.8 1289.48 L535.5 1289.18 L536.2 1289.32 L536.9 1288.95 L537.6 1289.50 L538.3 1288.97 L539.0 1289.25 L539.7 1288.72 L540.4 1289.06 L541.1 1289.43 L541.8 1289.16 L542.5 1289.18 L543.2 1289.57 L543.9 1289.33 L544.6 1289.74 L545.3 1288.66 L546.0 1289.57 L546.7 1289.57 L547.4 1288.98 L548.1 1289.07 L548.8 1289.73 L549.5 1289.17 L550.2 1289.32 L550.9 1289.70 L551.6 1289.44 L552.3 1289.70 L553.0 1289.32 L553.7 1289.69 L554.4 1289.94 L555.1 1289.73 L555.8 1289.00 L556.5 1289.86 L557.2 1289.70 L557.9 1289.43 L558.6 1290.14 L559.3 1289.22 L560.0 1290.32 L560.7 1289.59 L561.4 1290.26 L562.1 1289.80 L562.8 1289.43 L563.5 1289.87 L564.2 1289.96 L564.9 1290.04 L565.6 1290.21 L566.3 1289.64 L567.0 1290.07 L567.7 1290.16 L568.4 1289.87 L569.1 1289.69 L569.8 1289.70 L570.5 1290.23 L571.2 1290.26 L571.9 1289.78 L572.6 1289.65 L573.3 1290.43 L574.0 1289.61 L574.7 1290.14 L575.4 1289.86 L576.1 1289.59 L576.8 1290.16 L577.5 1290.08 L578.2 1290.58 L578.9 1290.84 L579.6 1290.12 L580.3 1290.49 L581.0 1290.51 L581.7 1290.05 L582.4 1289.96 L583.1 1290.71 L583.8 1290.13 L584.5 1290.24 L585.2 1290.17 L585.9 1290.23 L586.6 1290.09 L587.3 1290.51 L588.0 1290.66 L588.7 1290.18 L589.4 1289.89 L590.1 1290.33 L590.8 1289.87 L591.5 1290.13 L592.2 1290.70 L592.9 1291.03 L593.6 1290.46 L594.3 1290.03 L595.0 1290.59 L595.7 1289.69 L596.4 1290.16 L597.1 1290.83 L597.8 1290.60 L598.5 1289.97 L599.2 1289.89 L599.9 1290.65 L600.6 1290.38 L601.3 1290.23 L602.0 1290.53 L602.7 1290.24 L603.4 1289.84 L604.1 1290.66 L604.8 1290.23 L605.5 1290.13 L606.2 1290.04 L606.9 1290.52 L607.6 1290.21 L608.3 1290.64 L609.0 1290.37 L609.7 1290.78 L610.4 1290.35 L611.1 1290.27 L611.8 1289.88 L612.5 1290.15 L613.2 1290.70 L613.9 1291.40 L614.6 1290.11 L615.3 1290.18 L616.0 1290.60 L616.7 1290.64 L617.4 1290.30 L618.1 1290.53 L618.8 1290.03 L619.5 1290.43 L620.2 1290.79 L620.9 1291.01 L621.6 1290.48 L622.3 1290.46 L623.0 1290.67 L623.7 1290.87 L624.4 1290.69 L625.1 1290.33 L625.8 1290.66 L626.5 1290.85 L627.2 1290.35 L627.9 1290.17 L628.6 1290.73 L629.3 1290.69 L630.0 1290.88 L630.7 1290.62 L631.4 1290.40 L632.1 1290.47 L632.8 1290.30 L633.5 1290.33 L634.2 1290.45 L634.9 1290.48 L635.6 1290.96 L636.3 1290.27 L637.0 1290.63 L637.7 1290.47 L638.4 1291.10 L639.1 1290.74 L639.8 1290.55 L640.5 1290.91 L641.2 1290.70 L641.9 1290.54 L642.6 1291.15 L643.3 1290.91 L644.0 1291.22 L644.7 1291.05 L645.4 1290.94 L646.1 1290.76 L646.8 1290.40 L647.5 1290.94 L648.2 1290.76 L648.9 1290.94 L649.6 1290.75 L650.3 1290.55 L651.0 1290.46 L651.7 1290.98 L652.4 1291.16 L653.1 1290.69 L653.8 1290.92 L654.5 1291.21 L655.2 1290.55 L655.9 1290.70 L656.6 1290.48 L657.3 1291.17 L658.0 1290.90 L658.7 1290.69 L659.4 1290.34 L660.1 1290.79 L660.8 1291.15 L661.5 1290.77 L662.2 1290.74 L662.9 1291.06 L663.6 1290.51 L664.3 1290.90 L665.0 1291.07 L665.7 1290.66 L666.4 1290.66 L667.1 1290.98 L667.8 1290.89 L668.5 1290.85 L669.2 1290.99 L669.9 1291.00 L670.6 1290.67 L671.3 1290.75 L672.0 1291.09 L672.7 1291.30 L673.4 1291.37 L674.1 1290.72 L674.8 1291.31 L675.5 1291.21 L676.2 1290.99 L676.9 1291.15 L677.6 1291.25 L678.3 1291.55 L679.0 1290.71 L679.7 1291.21 L680.4 1290.99 L681.1 1290.98 L681.8 1291.39 L682.5 1291.30 L683.2 1290.76 L683.9 1290.98 L684.6 1291.14 L685.3 1290.66 L686.0 1291.34 L686.7 1291.07 L687.4 1291.14 L688.1 1291.20 L688.8 1291.64 L689.5 1291.12 L690.2 1291.01 L690.9 1291.64 L691.6 1290.98 L692.3 1290.98 L693.0 1290.73 L693.7 1291.47 L694.4 1291.24 L695.1 1291.30 L695.8 1291.21 L696.5 1291.13 L697.2 1290.94 L697.9 1290.95 L698.6 1291.32 L699.3 1291.23 L700.0 1291.68 L700.7 1290.98 L701.4 1291.06 L702.1 1290.91 L702.8 1291.63 L703.5 1290.86 L704.2 1291.46 L704.9 1291.66 L705.6 1291.20 L706.3 1291.46 L707.0 1290.62 L707.7 1291.14 L708.4 1290.77 L709.1 1291.31 L709.8 1291.27 L710.5 1291.04 L711.2 1291.56 L711.9 1291.39 L712.6 1291.13 L713.3 1291.14 L714.0 1290.86 L714.7 1291.24 L715.4 1291.93 L716.1 1291.10 L716.8 1291.44 L717.5 1291.15 L718.2 1291.56 L718.9 1291.45 L719.6 1291.26 L720.3 1290.80 L721.0 1291.18 L721.7 1291.69 L722.4 1291.27 L723.1 1291.53 L723.8 1291.20 L724.5 1290.80 L725.2 1291.48 L725.9 1291.45 L726.6 1291.19 L727.3 1291.25 L728.0 1291.45 L728.7 1291.19 L729.4 1291.47 L730.1 1291.31 L730.8 1290.67 L731.5 1291.33 L732.2 1291.20 L732.9 1291.13 L733.6 1291.50 L734.3 1291.24 L735.0 1291.54 L735.7 1291.71 L736.4 1291.43 L737.1 1290.93 L737.8 1291.17 L738.5 1291.66 L739.2 1291.32 L739.9 1291.15 L740.6 1291.37 L741.3 1291.54 L742.0 1291.47 L742.7 1291.59 L743.4 1291.15 L744.1 1291.32 L744.8 1291.32 L745.5 1291.39 L746.2 1290.78 L746.9 1291.33 L747.6 1291.00 L748.3 1291.82 L749.0 1291.87 L749.7 1291.90 L750.4 1291.65 L751.1 1291.26 L751.8 1291.69 L752.5 1291.35 L753.2 1291.59 L753.9 1291.14 L754.6 1291.24 L755.3 1291.55 L756.0 1291.94 L756.7 1291.41 L757.4 1292.08 L758.1 1292.23 L758.8 1291.04 L759.5 1291.41 L760.2 1291.14 L760.9 1291.38 L761.6 1291.26 L762.3 1291.40 L763.0 1291.71 L763.7 1291.70 L764.4 1291.50 L765.1 1291.42 L765.8 1291.46 L766.5 1291.46 L767.2 1291.60 L767.9 1291.43 L768.6 1291.58 L769.3 1291.04 L770.0 1291.66 L770.7 1291.95 L771.4 1291.48 L772.1 1291.01 L772.8 1291.83 L773.5 1291.33 L774.2 1290.55 L774.9 1291.37 L775.6 1291.61 L776.3 1291.55 L777.0 1291.80 L777.7 1291.62 L778.4 1291.47 L779.1 1290.85 L779.8 1291.11 L780.5 1291.49 L781.2 1291.64 L781.9 1291.14 L782.6 1291.26 L783.3 1291.58 L784.0 1290.88 L784.7 1290.87 L785.4 1291.38 L786.1 1291.52 L786.8 1291.30 L787.5 1290.76 L788.2 1291.45 L788.9 1291.05 L789.6 1291.64 L790.3 1291.42 L791.0 1291.53 L791.7 1291.64 L792.4 1291.29 L793.1 1291.70 L793.8 1291.82 L794.5 1291.57 L795.2 1291.85 L795.9 1291.27 L796.6 1291.73 L797.3 1291.53 L798.0 1291.16 L798.7 1291.43 L799.4 1291.30 L800.1 1291.29 L800.8 1291.48 L801.5 1291.77 L802.2 1291.36 L802.9 1291.50 L803.6 1291.02 L804.3 1291.49 L805.0 1291.80 L805.7 1291.70 L806.4 1291.60 L807.1 1291.31 L807.8 1291.17 L808.5 1291.44 L809.2 1291.07 L809.9 1291.10 L810.6 1291.74 L811.3 1291.19 L812.0 1292.00 L812.7 1291.04 L813.4 1291.59 L814.1 1291.12 L814.8 1291.52 L815.5 1291.16 L816.2 1291.48 L816.9 1291.42 L817.6 1291.34 L818.3 1291.62 L819.0 1291.92 L819.7 1291.29 L820.4 1291.73 L821.1 1291.50 L821.8 1291.46 L822.5 1292.12 L823.2 1290.83 L823.9 1291.27 L824.6 1290.94 L825.3 1291.38 L826.0 1291.41 L826.7 1292.61 L827.4 1291.58 L828.1 1292.01 L828.8 1291.86 L829.5 1291.35 L830.2 1291.62 L830.9 1291.97 L831.6 1291.53 L832.3 1291.54 L833.0 1291.63 L833.7 1291.03 L834.4 1291.24 L835.1 1291.58 L835.8 1291.64 L836.5 1291.21 L837.2 1291.38 L837.9 1291.44 L838.6 1291.44 L839.3 1291.69 L840.0 1291.51 L840.7 1291.53 L841.4 1291.06 L842.1 1291.17 L842.8 1291.58 L843.5 1291.01 L844.2 1291.56 L844.9 1291.29 L845.6 1291.24 L846.3 1291.68 L847.0 1291.28 L847.7 1291.23 L848.4 1291.28 L849.1 1291.50 L849.8 1292.30 L850.5 1290.85 L851.2 1291.48 L851.9 1291.41 L852.6 1291.77 L853.3 1291.38 L854.0 1290.75 L854.7 1291.88 L855.4 1291.16 L856.1 1291.47 L856.8 1291.08 L857.5 1291.16 L858.2 1291.34 L858.9 1291.74 L859.6 1291.74 L860.3 1291.31 L861.0 1291.64 L861.7 1291.38 L862.4 1291.52 L863.1 1291.53 L863.8 1291.67 L864.5 1291.30 L865.2 1291.45 L865.9 1291.55 L866.6 1291.51 L867.3 1291.25 L868.0 1292.00 L868.7 1291.35 L869.4 1291.71 L870.1 1291.55 L870.8 1291.85 L871.5 1290.84 L872.2 1292.10 L872.9 1291.43 L873.6 1291.12 L874.3 1291.53 L875.0 1292.16 L875.7 1291.64 L876.4 1291.12 L877.1 1291.35 L877.8 1291.89 L878.5 1291.07 L879.2 1291.44 L879.9 1291.40 L880.6 1292.14 L881.3 1291.40 L882.0 1291.88 L882.7 1291.29 L883.4 1291.25 L884.1 1291.79 L884.8 1291.68 L885.5 1290.97 L886.2 1291.68 L886.9 1291.68 L887.6 1291.31 L888.3 1291.56 L889.0 1291.57 L889.7 1291.35 L890.4 1291.32 L891.1 1291.29 L891.8 1291.41 L892.5 1291.09 L893.2 1291.48 L893.9 1291.04 L894.6 1291.51 L895.3 1291.47 L896.0 1291.18 L896.7 1291.74 L897.4 1292.07 L898.1 1291.88 L898.8 1291.08 L899.5 1291.87 L900.2 1291.56 L900.9 1291.47 L901.6 1291.31 L902.3 1291.49 L903.0 1291.90 L903.7 1291.65 L904.4 1291.37 L905.1 1291.29 L905.8 1291.37 L906.5 1291.66 L907.2 1292.05 L907.9 1291.17 L908.6 1291.49 L909.3 1291.38 L910.0 1291.27 L910.7 1291.61 L911.4 1291.65 L912.1 1291.07 L912.8 1291.18 L913.5 1291.85 L914.2 1291.58 L914.9 1291.64 L915.6 1291.34 L916.3 1291.38 L917.0 1291.63 L917.7 1291.34 L918.4 1291.16 L919.1 1291.49 L919.8 1291.76 L920.5 1291.18 L921.2 1291.80 L921.9 1291.70 L922.6 1291.23 L923.3 1291.49 L924.0 1291.48 L924.7 1291.68 L925.4 1291.69 L926.1 1291.10 L926.8 1291.09 L927.5 1291.80 L928.2 1291.52 L928.9 1291.61 L929.6 1291.59 L930.3 1291.94 L931.0 1291.13 L931.7 1291.81 L932.4 1291.25 L933.1 1291.71 L933.8 1291.89 L934.5 1291.08 L935.2 1291.61 L935.9 1291.41 L936.6 1291.40 L937.3 1291.50 L938.0 1291.18 L938.7 1291.20 L939.4 1291.68 L940.1 1291.74 L940.8 1291.32 L941.5 1291.06 L942.2 1292.18 L942.9 1291.82 L943.6 1291.60 L944.3 1291.18 L945.0 1291.32 L945.7 1291.56 L946.4 1291.21 L947.1 1291.96 L947.8 1291.53 L948.5 1291.61 L949.2 1291.18 L949.9 1291.22 L950.6 1291.26 L951.3 1291.57 L952.0 1291.41 L952.7 1291.40 L953.4 1291.58 L954.1 1291.56 L954.8 1291.93 L955.5 1291.43 L956.2 1291.19 L956.9 1291.49 L957.6 1291.92 L958.3 1291.33 L959.0 1291.50 L959.7 1291.38 L960.4 1291.61 L961.1 1291.57 L961.8 1291.25 L962.5 1291.42 L963.2 1291.77 L963.9 1291.81 L964.6 1291.76 L965.3 1291.74 L966.0 1291.39 L966.7 1291.38 L967.4 1291.76 L968.1 1291.14 L968.8 1291.47 L969.5 1290.94 L970.2 1291.38 L970.9 1291.28 L971.6 1291.13 L972.3 1291.66 L973.0 1291.27 L973.7 1291.38 L974.4 1291.41 L975.1 1291.27 L975.8 1291.91 L976.5 1291.34 L977.2 1291.55 L977.9 1291.11 L978.6 1291.35 L979.3 1291.39 L980.0 1291.40 L980.7 1291.32 L981.4 1291.53 L982.1 1291.95 L982.8 1291.45 L983.5 1291.45 L984.2 1291.38 L984.9 1292.24 L985.6 1291.97 L986.3 1291.65 L987.0 1291.70 L987.7 1291.28 L988.4 1291.45 L989.1 1291.55 L989.8 1291.53 L990.5 1291.24 L991.2 1291.26 L991.9 1291.64 L992.6 1291.58 L993.3 1290.87 L994.0 1291.52 L994.7 1291.86 L995.4 1291.30 L996.1 1291.56 L996.8 1291.06 L997.5 1291.74 L998.2 1291.16 L998.9 1291.12 L999.6 1291.40 L1000.3 1292.19 L1001.0 1291.31 L1001.7 1291.12 L1002.4 1291.63 L1003.1 1291.56 L1003.8 1291.98 L1004.5 1291.12 L1005.2 1291.02 L1005.9 1291.40 L1006.6 1291.60 L1007.3 1291.60 L1008.0 1291.81 L1008.7 1291.05 L1009.4 1291.25 L1010.1 1291.45 L1010.8 1291.74 L1011.5 1291.63 L1012.2 1291.37 L1012.9 1291.19 L1013.6 1291.75 L1014.3 1291.77 L1015.0 1292.29 L1015.7 1291.44 L1016.4 1291.97 L1017.1 1291.14 L1017.8 1291.33 L1018.5 1291.29 L1019.2 1291.35 L1019.9 1291.23 L1020.6 1291.33 L1021.3 1291.48 L1022.0 1291.36 L1022.7 1291.69 L1023.4 1291.47 L1024.1 1291.49 L1024.8 1291.92 L1025.5 1291.58 L1026.2 1291.54 L1026.9 1291.49 L1027.6 1291.51 L1028.3 1291.66 L1029.0 1291.26 L1029.7 1291.83 L1030.4 1291.95 L1031.1 1291.83 L1031.8 1291.35 L1032.5 1291.02 L1033.2 1291.36 L1033.9 1291.54 L1034.6 1291.73 L1035.3 1291.44 L1036.0 1291.40 L1036.7 1291.94 L1037.4 1291.29 L1038.1 1291.80 L1038.8 1291.76 L1039.5 1291.10 L1040.2 1291.57 L1040.9 1291.33 L1041.6 1291.21 L1042.3 1290.95 L1043.0 1291.03 L1043.7 1291.61 L1044.4 1291.38 L1045.1 1291.57 L1045.8 1291.18 L1046.5 1291.40 L1047.2 1291.41 L1047.9 1291.04 L1048.6 1291.00 L1049.3 1291.62 L1050.0 1291.53 L1050.7 1291.22 L1051.4 1291.46 L1052.1 1291.69 L1052.8 1292.03 L1053.5 1291.23 L1054.2 1291.67 L1054.9 1292.11 L1055.6 1291.51 L1056.3 1291.92 L1057.0 1290.73 L1057.7 1291.92 L1058.4 1291.49 L1059.1 1290.94 L1059.8 1291.72 L1060.5 1291.80 L1061.2 1291.85 L1061.9 1291.84 L1062.6 1291.48 L1063.3 1291.27 L1064.0 1291.36 L1064.7 1291.48 L1065.4 1291.61 L1066.1 1291.35 L1066.8 1291.51 L1067.5 1291.75 L1068.2 1291.59 L1068.9 1292.17 L1069.6 1292.13 L1070.3 1291.15 L1071.0 1291.32 L1071.7 1291.11 L1072.4 1291.15 L1073.1 1291.65 L1073.8 1291.20 L1074.5 1291.18 L1075.2 1291.41 L1075.9 1291.73 L1076.6 1291.39 L1077.3 1291.39 L1078.0 1291.76 L1078.7 1291.63 L1079.4 1291.63 L1080.1 1291.77 L1080.8 1291.19 L1081.5 1291.55 L1082.2 1291.30 L1082.9 1291.79 L1083.6 1291.73 L1084.3 1291.18 L1085.0 1291.89 L1085.7 1291.15 L1086.4 1291.84 L1087.1 1291.55 L1087.8 1291.23 L1088.5 1291.16 L1089.2 1291.40 L1089.9 1291.48 L1090.6 1291.28 L1091.3 1291.66 L1092.0 1291.08 L1092.7 1291.49 L1093.4 1291.49 L1094.1 1290.94 L1094.8 1291.58 L1095.5 1291.12 L1096.2 1290.75 L1096.9 1291.31 L1097.6 1291.42 L1098.3 1291.76 L1099.0 1291.35 L1099.7 1291.93 L1100.4 1291.92 L1101.1 1291.81 L1101.8 1291.88 L1102.5 1291.59 L1103.2 1291.33 L1103.9 1291.68 L1104.6 1291.78 L1105.3 1291.56 L1106.0 1291.42 L1106.7 1291.03 L1107.4 1291.69 L1108.1 1291.59 L1108.8 1291.11 L1109.5 1291.52 L1110.2 1291.70 L1110.9 1291.46 L1111.6 1291.72 L1112.3 1291.71 L1113.0 1291.05 L1113.7 1291.40 L1114.4 1291.63 L1115.1 1291.76 L1115.8 1291.91 L1116.5 1290.92 L1117.2 1291.47 L1117.9 1291.70 L1118.6 1291.85 L1119.3 1291.99 L1120.0 1291.21 L1120.7 1291.38 L1121.4 1291.18 L1122.1 1291.73 L1122.8 1291.10 L1123.5 1291.84 L1124.2 1291.77 L1124.9 1291.64 L1125.6 1290.85 L1126.3 1291.29 L1127.0 1291.71 L1127.7 1291.07 L1128.4 1291.42 L1129.1 1291.46 L1129.8 1291.75 L1130.5 1291.57 L1131.2 1291.57 L1131.9 1291.36 L1132.6 1291.49 L1133.3 1291.45 L1134.0 1291.71 L1134.7 1291.44 L1135.4 1291.80 L1136.1 1290.99 L1136.8 1291.85 L1137.5 1291.44 L1138.2 1291.83 L1138.9 1291.52 L1139.6 1291.74 L1140.3 1291.93 L1141.0 1291.33 L1141.7 1291.51 L1142.4 1291.44 L1143.1 1291.55 L1143.8 1291.01 L1144.5 1291.44 L1145.2 1291.42 L1145.9 1291.26 L1146.6 1291.43 L1147.3 1291.03 L1148.0 1291.90 L1148.7 1291.62 L1149.4 1292.05 L1150.1 1291.23 L1150.8 1291.14 L1151.5 1291.57 L1152.2 1291.00 L1152.9 1291.56 L1153.6 1291.28 L1154.3 1291.39 L1155.0 1291.57 L1155.7 1291.50 L1156.4 1292.04 L1157.1 1291.68 L1157.8 1291.11 L1158.5 1291.78 L1159.2 1291.09 L1159.9 1291.52 L1160.6 1291.12 L1161.3 1291.24 L1162.0 1291.88 L1162.7 1291.32 L1163.4 1291.30 L1164.1 1291.32 L1164.8 1291.40 L1165.5 1291.92 L1166.2 1291.14 L1166.9 1291.12 L1167.6 1291.66 L1168.3 1291.02 L1169.0 1291.38 L1169.7 1291.82 L1170.4 1291.49 L1171.1 1291.35 L1171.8 1291.28 L1172.5 1291.22 L1173.2 1291.31 L1173.9 1291.53 L1174.6 1291.86 L1175.3 1291.77 L1176.0 1291.32 L1176.7 1291.27 L1177.4 1291.69 L1178.1 1290.95 L1178.8 1291.36 L1179.5 1291.39 L1180.2 1291.16 L1180.9 1291.19 L1181.6 1291.59 L1182.3 1291.00 L1183.0 1291.21 L1183.7 1291.29 L1184.4 1291.51 L1185.1 1291.08 L1185.8 1291.81 L1186.5 1291.39 L1187.2 1291.41 L1187.9 1291.38 L1188.6 1291.28 L1189.3 1291.19 L1190.0 1291.82 L1190.7 1291.54 L1191.4 1291.45 L1192.1 1291.78 L1192.8 1291.27 L1193.5 1291.67 L1194.2 1291.49 L1194.9 1291.22 L1195.6 1291.71 L1196.3 1291.04 L1197.0 1291.67 L1197.7 1291.22 L1198.4 1291.60 L1199.1 1291.89 L1199.8 1291.65 L1200.5 1291.30 L1201.2 1291.47 L1201.9 1291.37 L1202.6 1291.13 L1203.3 1291.15 L1204.0 1291.49 L1204.7 1291.64 L1205.4 1290.96 L1206.1 1291.46 L1206.8 1291.63 L1207.5 1291.51 L1208.2 1291.18 L1208.9 1291.78 L1209.6 1291.12 L1210.3 1291.67 L1211.0 1291.95 L1211.7 1290.87 L1212.4 1291.55 L1213.1 1291.57 L1213.8 1291.54 L1214.5 1291.25 L1215.2 1291.38 L1215.9 1291.06 L1216.6 1291.51 L1217.3 1291.63 L1218.0 1291.28 L1218.7 1291.20 L1219.4 1291.33 L1220.1 1291.47 L1220.8 1291.49 L1221.5 1291.44 L1222.2 1291.49 L1222.9 1291.09 L1223.6 1290.67 L1224.3 1291.65 L1225.0 1291.89 L1225.7 1291.05 L1226.4 1291.28 L1227.1 1291.56 L1227.8 1291.75 L1228.5 1291.66 L1229.2 1291.85 L1229.9 1291.46 L1230.6 1291.59 L1231.3 1291.59 L1232.0 1291.34 L1232.7 1291.82 L1233.4 1291.65 L1234.1 1291.76 L1234.8 1291.36 L1235.5 1291.77 L1236.2 1291.16 L1236.9 1291.59 L1237.6 1290.70 L1238.3 1291.17 L1239.0 1291.69 L1239.7 1291.34 L1240.4 1291.52 L1241.1 1290.99 L1241.8 1291.93 L1242.5 1291.65 L1243.2 1291.46 L1243.9 1291.59 L1244.6 1291.57 L1245.3 1291.89 L1246.0 1291.53 L1246.7 1291.04 L1247.4 1291.40 L1248.1 1291.85 L1248.8 1291.64 L1249.5 1291.35 L1250.2 1291.65 L1250.9 1291.50 L1251.6 1291.65 L1252.3 1291.00 L1253.0 1291.21 L1253.7 1291.67 L1254.4 1291.40 L1255.1 1291.57 L1255.8 1292.04 L1256.5 1291.38 L1257.2 1291.54 L1257.9 1291.31 L1258.6 1291.29 L1259.3 1291.45 L1260.0 1291.04 L1260.7 1290.85 L1261.4 1291.87 L1262.1 1291.44 L1262.8 1291.80 L1263.5 1291.51 L1264.2 1291.51 L1264.9 1291.67 L1265.6 1291.68 L1266.3 1291.12 L1267.0 1291.82 L1267.7 1291.19 L1268.4 1291.53 L1269.1 1292.22 L1269.8 1291.49 L1270.5 1291.96 L1271.2 1291.37 L1271.9 1291.65 L1272.6 1291.49 L1273.3 1291.59 L1274.0 1291.22 L1274.7 1291.20 L1275.4 1291.57 L1276.1 1291.01 L1276.8 1291.22 L1277.5 1291.66 L1278.2 1291.29 L1278.9 1291.21 L1279.6 1291.15 L1280.3 1291.51 L1281.0 1291.36 L1281.7 1291.51 L1282.4 1291.42 L1283.1 1292.01 L1283.8 1291.34 L1284.5 1290.90 L1285.2 1291.50 L1285.9 1291.47 L1286.6 1291.52 L1287.3 1291.00 L1288.0 1291.80 L1288.7 1291.46 L1289.4 1291.46 L1290.1 1291.01 L1290.8 1291.61 L1291.5 1291.45 L1292.2 1291.87 L1292.9 1291.35 L1293.6 1291.11 L1294.3 1291.51 L1295.0 1291.20 L1295.7 1291.59 L1296.4 1291.15 L1297.1 1291.43 L1297.8 1291.40 L1298.5 1291.46 L1299.2 1291.32 L1299.9 1291.23 L1300.6 1291.45 L1301.3 1291.30 L1302.0 1291.52 L1302.7 1291.39 L1303.4 1290.82 L1304.1 1291.45 L1304.8 1291.88 L1305.5 1291.56 L1306.2 1291.65 L1306.9 1291.60 L1307.6 1291.33 L1308.3 1291.08 L1309.0 1291.71 L1309.7 1291.78 L1310.4 1291.64 L1311.1 1291.59 L1311.8 1291.59 L1312.5 1291.46 L1313.2 1291.55 L1313.9 1291.47 L1314.6 1291.57 L1315.3 1291.20 L1316.0 1291.29 L1316.7 1291.64 L1317.4 1291.37 L1318.1 1290.77 L1318.8 1291.51 L1319.5 1290.81 L1320.2 1292.02 L1320.9 1291.68 L1321.6 1291.67 L1322.3 1291.28 L1323.0 1291.14 L1323.7 1291.41 L1324.4 1291.48 L1325.1 1291.25 L1325.8 1291.52 L1326.5 1291.67 L1327.2 1291.64 L1327.9 1291.17 L1328.6 1290.85 L1329.3 1291.47 L1330.0 1291.28 L1330.7 1291.60 L1331.4 1291.95 L1332.1 1291.95 L1332.8 1291.56 L1333.5 1291.79 L1334.2 1291.95 L1334.9 1291.49 L1335.6 1291.55 L1336.3 1291.72 L1337.0 1291.46 L1337.7 1291.33 L1338.4 1291.26 L1339.1 1291.48 L1339.8 1291.30 L1340.5 1291.70 L1341.2 1291.38 L1341.9 1291.89 L1342.6 1291.82 L1343.3 1291.12 L1344.0 1291.79 L1344.7 1291.36 L1345.4 1291.87 L1346.1 1291.62 L1346.8 1291.46 L1347.5 1291.67 L1348.2 1291.32 L1348.9 1291.57 L1349.6 1291.59 L1350.3 1291.43 L1351.0 1291.59 L1351.7 1291.19 L1352.4 1291.64 L1353.1 1291.13 L1353.8 1291.66 L1354.5 1291.61 L1355.2 1291.68 L1355.9 1291.32 L1356.6 1292.35 L1357.3 1291.41 L1358.0 1291.52 L1358.7 1291.26 L1359.4 1291.89 L1360.1 1291.35 L1360.8 1291.76 L1361.5 1291.21 L1362.2 1291.57 L1362.9 1291.38 L1363.6 1291.75 L1364.3 1291.40 L1365.0 1291.24 L1365.7 1291.61 L1366.4 1291.14 L1367.1 1291.21 L1367.8 1291.70 L1368.5 1290.95 L1369.2 1291.70 L1369.9 1291.37 L1370.6 1291.22 L1371.3 1291.55 L1372.0 1291.66 L1372.7 1291.32 L1373.4 1291.43 L1374.1 1291.71 L1374.8 1291.70 L1375.5 1291.47 L1376.2 1291.27 L1376.9 1291.22 L1377.6 1291.32 L1378.3 1291.68 L1379.0 1291.65 L1379.7 1291.57 L1380.4 1291.88 L1381.1 1291.40 L1381.8 1291.38 L1382.5 1291.38 L1383.2 1292.03 L1383.9 1290.91 L1384.6 1291.57 L1385.3 1291.62 L1386.0 1291.51 L1386.7 1292.15 L1387.4 1291.82 L1388.1 1291.71 L1388.8 1291.24 L1389.5 1291.63 L1390.2 1291.39 L1390.9 1291.50 L1391.6 1291.55 L1392.3 1291.36 L1393.0 1291.67 L1393.7 1291.95 L1394.4 1291.79 L1395.1 1291.55 L1395.8 1290.95 L1396.5 1291.80 L1397.2 1291.80 L1397.9 1291.44 L1398.6 1291.36 L1399.3 1291.68 L1400.0 1291.27 L1400.7 1291.72 L1401.4 1291.19 L1402.1 1291.24 L1402.8 1291.50 L1403.5 1291.08 L1404.2 1291.50 L1404.9 1291.65" stroke="#b40426" stroke-width="4.8"/></g><rect x="104.95" y="747.50" width="1300.50" height="581.40" fill="none" stroke="#000" stroke-width="2.1"/><g font-size="43"><text x="104.95" y="1370.70" text-anchor="middle">0</text><text x="365.05" y="1370.70" text-anchor="middle">2</text><text x="625.15" y="1370.70" text-anchor="middle">4</text><text x="885.25" y="1370.70" text-anchor="middle">6</text><text x="1145.35" y="1370.70" text-anchor="middle">8</text><text x="1405.45" y="1370.70" text-anchor="middle">10</text><text x="91.50" y="1306.25" text-anchor="end">0</text><text x="91.50" y="1180.25" text-anchor="end">5</text><text x="91.50" y="1054.25" text-anchor="end">10</text><text x="91.50" y="928.25" text-anchor="end">15</text><text x="91.50" y="802.25" text-anchor="end">20</text></g><g font-size="45.83"><text x="669.8" y="673.8">Time [</text><text x="822.9" y="673.8">s]</text><text x="661.75" y="1420.3">Time [</text><text x="814.85" y="1420.3">s]</text><text transform="translate(31.4 291.6) rotate(-90)" text-anchor="middle">Amplitude [PA]</text><text transform="translate(31.4 1038.3) rotate(-90)" text-anchor="middle">Amplitude [PA]</text></g><g font-size="34.2"><path d="M1049.5 43.9H1122.7" stroke="#3b4cc0" stroke-width="4.4"/><rect x="1052" y="80" width="69" height="24.6" fill="#3b4cc0" fill-opacity="0.1"/><text transform="translate(1148 56.1) scale(1 1.05)">Mean NS Signal</text><text transform="translate(1148 104.1) scale(1 1.05)">68% interval</text><path d="M1053 790.5H1126.5" stroke="#b40426" stroke-width="4.4"/><rect x="1055.6" y="827" width="68.8" height="24" fill="#b40426" fill-opacity="0.1"/><text transform="translate(1152.2 802.8) scale(1 1.05)">Mean ES Signal</text><text transform="translate(1152.2 851.2) scale(1 1.05)">68% interval</text></g></svg></body></html>
